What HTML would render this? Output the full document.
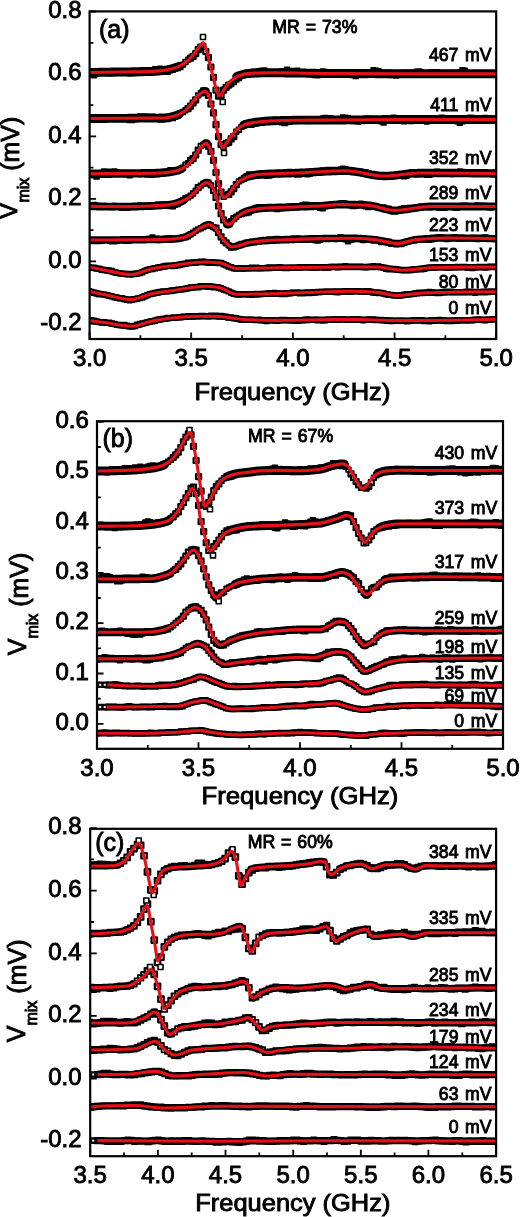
<!DOCTYPE html>
<html><head><meta charset="utf-8"><title>Vmix vs Frequency</title>
<style>html,body{margin:0;padding:0;background:#fff;}body{width:520px;height:1217px;overflow:hidden;}svg{display:block;}</style>
</head><body>
<svg width="520" height="1217" viewBox="0 0 520 1217">
<rect width="520" height="1217" fill="#fff"/>
<g id="p0">
<path d="M89.6,339.0v-6.5 M191.2,339.0v-6.5 M292.9,339.0v-6.5 M394.6,339.0v-6.5 M496.2,339.0v-6.5 M140.4,339.0v-3.8 M242.1,339.0v-3.8 M343.7,339.0v-3.8 M445.4,339.0v-3.8 M89.6,323.7h6.5 M89.6,261.3h6.5 M89.6,198.9h6.5 M89.6,136.4h6.5 M89.6,74.0h6.5 M89.6,11.5h6.5 M89.6,292.5h3.8 M89.6,230.1h3.8 M89.6,167.6h3.8 M89.6,105.2h3.8 M89.6,42.8h3.8" stroke="#000" stroke-width="1.8" fill="none"/>
<clipPath id="c0"><rect x="89.6" y="11.4" width="406.6" height="327.6"/></clipPath>
<g clip-path="url(#c0)" fill="none" stroke-linejoin="round" stroke-linecap="butt">
<path d="M89.0,72.5l1.2,0 1.2,0 1.2,-0.1 1.2,0 1.2,0 1.2,0 1.2,0 1.2,-0.1 1.2,0 1.2,0 1.2,0 1.2,0 1.2,0 1.2,-0.1 1.2,0 1.2,0 1.2,0 1.2,0 1.2,-0.1 1.2,0 1.2,0 1.2,0 1.2,0 1.2,-0.1 1.2,0 1.2,0 1.2,0 1.2,0 1.2,-0.1 1.2,0 1.2,0 1.2,0 1.2,0 1.2,0 1.2,0 1.2,-0.1 1.2,0 1.2,0 1.2,0 1.2,0 1.2,0 1.2,-0.1 1.2,0 1.2,0 1.2,0 1.2,-0.1 1.2,0 1.2,0 1.2,0 1.2,-0.1 1.2,0 1.2,-0.1 1.2,0 1.2,-0.1 1.2,-0.1 1.2,0 1.2,-0.1 1.2,-0.1 1.2,-0.2 1.2,-0.1 1.2,-0.1 1.2,-0.2 1.2,-0.1 1.2,-0.2 1.2,-0.2 1.2,-0.2 1.2,-0.3 1.2,-0.3 1.2,-0.3 1.2,-0.4 1.2,-0.3 1.2,-0.4 1.2,-0.4 1.2,-0.5 1.2,-0.5M236.7,76.6l1.2,-0.5 1.2,-0.4 1.2,-0.4 1.2,-0.4 1.2,-0.3 1.2,-0.4 1.2,-0.2 1.2,-0.3 1.2,-0.1 1.2,-0.2 1.2,0 1.2,-0.1 1.2,-0.1 1.2,0 1.2,-0.1 1.2,-0.1 1.2,0 1.2,-0.1 1.2,0 1.2,-0.1 1.2,0 1.2,0 1.2,0 1.2,-0.1 1.2,0 1.2,0 1.2,0 1.2,0 1.2,0 1.2,0 1.2,0 1.2,0 1.2,0 1.2,0 1.2,0.1 1.2,0 1.2,0 1.2,0 1.2,0 1.2,0 1.2,0.1 1.2,0 1.2,0 1.2,0 1.2,0 1.2,0 1.2,0.1 1.2,0 1.2,0 1.2,0 1.2,0 1.2,0 1.2,0.1 1.2,0 1.2,0 1.2,0 1.2,0 1.2,0.1 1.2,0 1.2,0 1.2,0 1.2,0.1 1.2,0 1.2,0 1.2,0 1.2,0 1.2,0.1 1.2,0 1.2,0 1.2,0 1.2,0 1.2,0.1 1.2,0 1.2,0 1.2,0 1.2,0 1.2,0 1.2,0 1.2,0 1.2,0 1.2,0 1.2,0 1.2,0 1.2,0 1.2,0 1.2,0 1.2,0 1.2,0 1.2,0.1 1.2,0 1.2,0 1.2,0 1.2,0 1.2,0 1.2,0 1.2,0 1.2,0 1.2,0 1.2,0 1.2,0 1.2,0 1.2,0 1.2,0 1.2,0 1.2,0 1.2,0 1.2,0 1.2,0 1.2,0 1.2,0 1.2,0 1.2,0 1.2,0 1.2,0 1.2,0 1.2,0.1 1.2,0 1.2,0 1.2,0 1.2,0 1.2,0 1.2,0 1.2,0 1.2,0 1.2,0 1.2,0 1.2,0 1.2,0 1.2,0 1.2,0 1.2,0 1.3,0 1.2,0 1.2,0 1.2,0 1.2,0 1.2,0 1.2,0 1.2,0 1.2,0 1.2,0 1.2,0 1.2,0 1.2,0 1.2,0 1.2,0 1.2,0 1.2,0 1.2,0 1.2,0 1.2,0 1.2,0 1.2,0 1.2,0 1.2,0 1.2,0 1.2,0.1 1.2,0 1.2,0 1.2,0 1.2,0 1.2,0 1.2,0 1.2,0 1.2,0 1.2,0 1.2,0 1.2,0 1.2,0 1.2,0 1.2,0 1.2,0 1.2,0 1.2,0 1.2,0 1.2,0 1.2,0 1.2,0 1.2,0 1.2,0 1.2,0 1.2,0 1.2,0 1.2,0 1.2,0 1.2,0 1.2,0 1.2,0 1.2,0 1.2,0 1.2,0 1.2,0 1.2,0 1.2,0 1.2,0 1.2,0 1.2,0 1.2,0 1.2,0 1.2,0 1.2,0 1.2,0 1.2,0 1.2,0 1.2,0 1.2,0 1.2,0 1.2,0 1.2,0 1.2,0 1.2,0 1.2,0 1.2,0 1.2,0 1.2,0 1.2,0" stroke="#000" stroke-width="9.0" stroke-linecap="round"/>
<path d="M89.0,118.5l1.2,0 1.2,0 1.2,0 1.2,0 1.2,0 1.2,0 1.2,-0.1 1.2,0 1.2,0 1.2,0 1.2,0 1.2,0 1.2,0 1.2,0 1.2,0 1.2,0 1.2,0 1.2,0 1.2,0 1.2,-0.1 1.2,0 1.2,0 1.2,0 1.2,0 1.2,0 1.2,0 1.2,0 1.2,0 1.2,0 1.2,0 1.2,0 1.2,0 1.2,-0.1 1.2,0 1.2,0 1.2,0 1.2,0 1.2,0 1.2,0 1.2,0 1.2,0 1.2,0 1.2,0 1.2,0 1.2,-0.1 1.2,0 1.2,0 1.2,0 1.2,0 1.2,0 1.2,0 1.2,0 1.2,0 1.2,0 1.2,0 1.2,0 1.2,0 1.2,0 1.2,-0.1 1.2,0 1.2,0 1.2,0 1.2,0 1.2,-0.1 1.2,-0.2 1.2,-0.2 1.2,-0.2 1.2,-0.2 1.2,-0.3 1.2,-0.4 1.2,-0.3 1.2,-0.3 1.2,-0.4 1.2,-0.4 1.2,-0.6M203.1,91.8l1.2,-0.4 1.2,-0.1M243.9,124.9l1.2,-0.5 1.2,-0.3 1.2,-0.4 1.2,-0.3 1.2,-0.2 1.2,-0.2 1.2,-0.2 1.2,-0.2 1.2,-0.2 1.2,-0.2 1.2,-0.1 1.2,-0.1 1.2,-0.2 1.2,-0.1 1.2,-0.1 1.2,-0.1 1.2,-0.1 1.2,-0.1 1.2,-0.1 1.2,-0.1 1.2,-0.1 1.2,0 1.2,-0.1 1.2,0 1.2,-0.1 1.2,0 1.2,-0.1 1.2,0 1.2,-0.1 1.2,0 1.2,-0.1 1.2,0 1.2,0 1.2,-0.1 1.2,0 1.2,0 1.2,-0.1 1.2,0 1.2,0 1.2,0 1.2,-0.1 1.2,0 1.2,0 1.2,0 1.2,0 1.2,0 1.2,0 1.2,0 1.2,0 1.2,-0.1 1.2,0 1.2,0 1.2,0 1.2,0 1.2,0 1.2,0 1.2,0 1.2,0 1.2,0 1.2,0 1.2,0 1.2,0 1.2,0 1.2,0 1.2,0 1.2,0 1.2,0 1.2,0 1.2,0 1.2,0 1.2,0 1.2,-0.1 1.2,0 1.2,0 1.2,0 1.2,0 1.2,0 1.2,0 1.2,0 1.2,0 1.2,0 1.2,0 1.2,0 1.2,0 1.2,0 1.2,-0.1 1.2,0 1.2,0 1.2,0 1.2,0 1.2,0 1.2,0 1.2,0 1.2,-0.1 1.2,0 1.2,0 1.2,0 1.2,0 1.2,0 1.2,0 1.2,-0.1 1.2,0 1.2,0 1.2,0 1.2,0 1.2,0 1.2,0 1.2,-0.1 1.2,0 1.2,0 1.2,0 1.2,0 1.2,0 1.2,0 1.2,0 1.2,-0.1 1.2,0 1.2,0 1.2,0 1.2,0 1.2,0 1.2,0 1.2,0 1.2,0 1.2,0 1.3,0 1.2,0 1.2,0 1.2,0 1.2,0 1.2,0 1.2,0 1.2,0 1.2,0 1.2,0 1.2,0 1.2,0 1.2,0 1.2,0 1.2,0 1.2,0 1.2,0 1.2,0 1.2,0 1.2,0 1.2,0 1.2,0 1.2,0 1.2,0 1.2,0 1.2,0 1.2,0 1.2,0 1.2,0 1.2,0 1.2,0 1.2,0 1.2,0 1.2,0 1.2,0 1.2,0 1.2,0 1.2,0 1.2,0 1.2,0 1.2,0 1.2,0 1.2,0 1.2,0 1.2,0 1.2,0 1.2,0 1.2,0 1.2,0 1.2,0 1.2,0 1.2,0 1.2,0 1.2,0 1.2,0 1.2,0 1.2,0 1.2,0 1.2,0 1.2,0 1.2,0 1.2,0 1.2,0 1.2,0 1.2,0 1.2,0 1.2,0 1.2,0 1.2,0 1.2,0 1.2,0 1.2,0 1.2,0 1.2,0 1.2,0 1.2,0 1.2,0 1.2,0 1.2,0 1.2,0 1.2,0 1.2,0 1.2,0 1.2,0 1.2,0" stroke="#000" stroke-width="8.8" stroke-linecap="round"/>
<path d="M89.0,173.8l1.2,0 1.2,0 1.2,0 1.2,0 1.2,0 1.2,0 1.2,0 1.2,-0.1 1.2,0 1.2,0 1.2,0 1.2,0 1.2,0 1.2,0 1.2,0 1.2,0 1.2,0 1.2,0 1.2,-0.1 1.2,0 1.2,0 1.2,0 1.2,0 1.2,0 1.2,0 1.2,0 1.2,0 1.2,-0.1 1.2,0 1.2,0 1.2,0 1.2,0 1.2,0 1.2,0 1.2,0 1.2,0 1.2,-0.1 1.2,0 1.2,0 1.2,0 1.2,0 1.2,0 1.2,0 1.2,-0.1 1.2,0 1.2,0 1.2,0 1.2,0 1.2,-0.1 1.2,0 1.2,0 1.2,0 1.2,-0.1 1.2,0 1.2,0 1.2,-0.1 1.2,0 1.2,0 1.2,-0.1 1.2,-0.1 1.2,0 1.2,-0.1 1.2,-0.1 1.2,-0.1 1.2,-0.1 1.2,-0.1 1.2,-0.2 1.2,-0.2 1.2,-0.2 1.2,-0.2 1.2,-0.3 1.2,-0.2 1.2,-0.3 1.2,-0.3 1.2,-0.4 1.2,-0.4 1.2,-0.6M205.5,143.5l1.2,0M245.1,177.8l1.2,-0.6 1.2,-0.5 1.2,-0.4 1.2,-0.3 1.2,-0.2 1.2,-0.3 1.2,-0.2 1.2,-0.2 1.2,-0.2 1.2,-0.2 1.2,-0.2 1.2,-0.1 1.2,-0.1 1.2,-0.1 1.2,-0.1 1.2,0 1.2,-0.1 1.2,-0.1 1.2,0 1.2,-0.1 1.2,0 1.2,-0.1 1.2,0 1.2,0 1.2,-0.1 1.2,0 1.2,-0.1 1.2,0 1.2,0 1.2,-0.1 1.2,0 1.2,0 1.2,-0.1 1.2,0 1.2,0 1.2,-0.1 1.2,0 1.2,0 1.2,-0.1 1.2,0 1.2,0 1.2,-0.1 1.2,0 1.2,-0.1 1.2,0 1.2,-0.1 1.2,0 1.2,-0.1 1.2,0 1.2,-0.1 1.2,-0.1 1.2,0 1.2,-0.1 1.2,-0.1 1.2,0 1.2,-0.1 1.2,-0.1 1.2,-0.1 1.2,0 1.2,-0.1 1.2,-0.1 1.2,0 1.2,-0.1 1.2,-0.1 1.2,0 1.2,-0.1 1.2,-0.1 1.2,0 1.2,-0.1 1.2,-0.1 1.2,0 1.2,-0.1 1.2,0 1.2,-0.1 1.2,0 1.2,0 1.2,-0.1 1.2,0 1.2,0 1.2,-0.1 1.2,0 1.2,0 1.2,0 1.2,0 1.2,0 1.2,0.1 1.2,0 1.2,0.1 1.2,0.1 1.2,0.2 1.2,0.1 1.2,0.2 1.2,0.2 1.2,0.2 1.2,0.2 1.2,0.2 1.2,0.3 1.2,0.2 1.2,0.2 1.2,0.3 1.2,0.2 1.2,0.3 1.2,0.2 1.2,0.2 1.2,0.3 1.2,0.2 1.2,0.2 1.2,0.2 1.2,0.1 1.2,0.2 1.2,0.1 1.2,0.2 1.2,0.1 1.2,0 1.2,0.1 1.2,0 1.2,0 1.2,0 1.2,-0.1 1.2,0 1.2,-0.1 1.2,-0.1 1.2,-0.1 1.2,-0.1 1.3,-0.1 1.2,-0.2 1.2,-0.1 1.2,-0.2 1.2,-0.1 1.2,-0.2 1.2,-0.1 1.2,-0.2 1.2,-0.1 1.2,-0.2 1.2,-0.1 1.2,-0.1 1.2,-0.2 1.2,-0.1 1.2,-0.1 1.2,-0.1 1.2,-0.1 1.2,-0.1 1.2,0 1.2,-0.1 1.2,0 1.2,0 1.2,0 1.2,0 1.2,0 1.2,0 1.2,0 1.2,0 1.2,0 1.2,0 1.2,0 1.2,0 1.2,0 1.2,0 1.2,0 1.2,0 1.2,0 1.2,0 1.2,0 1.2,0 1.2,0 1.2,0 1.2,0 1.2,0 1.2,0 1.2,0 1.2,0 1.2,0 1.2,0 1.2,0 1.2,0 1.2,0.1 1.2,0 1.2,0 1.2,0 1.2,0 1.2,0 1.2,0 1.2,0 1.2,0 1.2,0 1.2,0 1.2,0 1.2,0 1.2,0.1 1.2,0 1.2,0 1.2,0 1.2,0 1.2,0 1.2,0 1.2,0.1 1.2,0 1.2,0 1.2,0 1.2,0 1.2,0 1.2,0.1 1.2,0 1.2,0 1.2,0 1.2,0 1.2,0.1 1.2,0 1.2,0" stroke="#000" stroke-width="8.4" stroke-linecap="round"/>
<path d="M89.0,206.3l1.2,0 1.2,0.1 1.2,0 1.2,0 1.2,0 1.2,0 1.2,0.1 1.2,0 1.2,0 1.2,0 1.2,0 1.2,0 1.2,0 1.2,0 1.2,0.1 1.2,0 1.2,0 1.2,0 1.2,0 1.2,0 1.2,0 1.2,0 1.2,0 1.2,0 1.2,0 1.2,0 1.2,0 1.2,0 1.2,0 1.2,0 1.2,0 1.2,0 1.2,0 1.2,0 1.2,0 1.2,0 1.2,-0.1 1.2,0 1.2,0 1.2,0 1.2,-0.1 1.2,0 1.2,-0.1 1.2,0 1.2,0 1.2,-0.1 1.2,0 1.2,-0.1 1.2,0 1.2,-0.1 1.2,0 1.2,-0.1 1.2,0 1.2,-0.1 1.2,0 1.2,-0.1 1.2,0 1.2,-0.1 1.2,-0.1 1.2,-0.1 1.2,-0.1 1.2,-0.1 1.2,-0.1 1.2,-0.1 1.2,-0.1 1.2,-0.1 1.2,-0.1 1.2,-0.2 1.2,-0.2 1.2,-0.2 1.2,-0.3 1.2,-0.3 1.2,-0.4 1.2,-0.4 1.2,-0.3 1.2,-0.5 1.2,-0.4 1.2,-0.6 1.2,-0.5M205.5,182.9l1.2,-0.3 1.2,0.2M227.1,224.5l1.2,0.1 1.2,-0.4M242.7,212.9l1.2,-0.5 1.2,-0.5 1.2,-0.5 1.2,-0.4 1.2,-0.4 1.2,-0.3 1.2,-0.2 1.2,-0.3 1.2,-0.3 1.2,-0.2 1.2,-0.2 1.2,-0.2 1.2,-0.2 1.2,-0.2 1.2,-0.1 1.2,-0.1 1.2,-0.1 1.2,-0.1 1.2,0 1.2,-0.1 1.2,-0.1 1.2,0 1.2,-0.1 1.2,0 1.2,-0.1 1.2,0 1.2,-0.1 1.2,0 1.2,-0.1 1.2,0 1.2,-0.1 1.2,0 1.2,0 1.2,-0.1 1.2,0 1.2,0 1.2,-0.1 1.2,0 1.2,-0.1 1.2,0 1.2,0 1.2,-0.1 1.2,0 1.2,-0.1 1.2,0 1.2,-0.1 1.2,0 1.2,-0.1 1.2,0 1.2,0 1.2,-0.1 1.2,0 1.2,-0.1 1.2,0 1.2,-0.1 1.2,0 1.2,0 1.2,-0.1 1.2,0 1.2,-0.1 1.2,0 1.2,-0.1 1.2,-0.1 1.2,0 1.2,-0.1 1.2,-0.1 1.2,-0.1 1.2,-0.1 1.2,-0.1 1.2,-0.1 1.2,-0.1 1.2,-0.1 1.2,-0.2 1.2,-0.1 1.2,-0.1 1.2,-0.1 1.2,0 1.2,-0.1 1.2,-0.1 1.2,0 1.2,0 1.2,0 1.2,0 1.2,0 1.2,0 1.2,0 1.2,0.1 1.2,0 1.2,0 1.2,0 1.2,0 1.2,0.1 1.2,0 1.2,0 1.2,0.1 1.2,0 1.2,0.1 1.2,0 1.2,0 1.2,0.1 1.2,0 1.2,0.1 1.2,0 1.2,0.1 1.2,0.1 1.2,0.1 1.2,0.2 1.2,0.2 1.2,0.2 1.2,0.3 1.2,0.3 1.2,0.3 1.2,0.3 1.2,0.4 1.2,0.3 1.2,0.4 1.2,0.3 1.2,0.3 1.2,0.3 1.2,0.3 1.2,0.2 1.2,0.3 1.2,0.1 1.2,0.2 1.2,0.1 1.2,0 1.3,0 1.2,0 1.2,-0.1 1.2,-0.1 1.2,-0.1 1.2,-0.1 1.2,-0.1 1.2,-0.2 1.2,-0.1 1.2,-0.2 1.2,-0.1 1.2,-0.2 1.2,-0.2 1.2,-0.2 1.2,-0.2 1.2,-0.2 1.2,-0.2 1.2,-0.2 1.2,-0.1 1.2,-0.2 1.2,-0.2 1.2,-0.2 1.2,-0.1 1.2,-0.1 1.2,-0.2 1.2,-0.1 1.2,-0.1 1.2,0 1.2,-0.1 1.2,0 1.2,0 1.2,0 1.2,0 1.2,0 1.2,0 1.2,0 1.2,0 1.2,0 1.2,0 1.2,0 1.2,0 1.2,0 1.2,0 1.2,0 1.2,0 1.2,0 1.2,0 1.2,0 1.2,0 1.2,0 1.2,0 1.2,0 1.2,0 1.2,0 1.2,0 1.2,0 1.2,0 1.2,0 1.2,0 1.2,0 1.2,0 1.2,0 1.2,0 1.2,0 1.2,0 1.2,0 1.2,0 1.2,0 1.2,0 1.2,0 1.2,0 1.2,0 1.2,0 1.2,0 1.2,0 1.2,0 1.2,0 1.2,0 1.2,0 1.2,0 1.2,0 1.2,0 1.2,0 1.2,0 1.2,0" stroke="#000" stroke-width="7.8" stroke-linecap="round"/>
<path d="M89.0,240.0l1.2,0 1.2,0 1.2,0 1.2,0 1.2,0 1.2,0 1.2,0 1.2,0 1.2,0 1.2,0 1.2,0 1.2,0 1.2,0 1.2,-0.1 1.2,0 1.2,0 1.2,0 1.2,0 1.2,0 1.2,0 1.2,0 1.2,0 1.2,0 1.2,0 1.2,0 1.2,0 1.2,-0.1 1.2,0 1.2,0 1.2,0 1.2,0 1.2,0 1.2,0 1.2,0 1.2,0 1.2,0 1.2,0 1.2,-0.1 1.2,0 1.2,0 1.2,0 1.2,0 1.2,0 1.2,0 1.2,0 1.2,0 1.2,0 1.2,-0.1 1.2,0 1.2,0 1.2,0 1.2,0 1.2,0 1.2,-0.1 1.2,0 1.2,0 1.2,0 1.2,0 1.2,-0.1 1.2,0 1.2,0 1.2,0 1.2,-0.1 1.2,0 1.2,0 1.2,0 1.2,-0.1 1.2,0 1.2,-0.1 1.2,-0.1 1.2,-0.1 1.2,-0.1 1.2,-0.2 1.2,-0.1 1.2,-0.2 1.2,-0.2 1.2,-0.2 1.2,-0.3 1.2,-0.3 1.2,-0.4 1.2,-0.4 1.2,-0.5 1.2,-0.6M204.3,226.0l1.2,-0.6 1.2,-0.4 1.2,-0.3 1.2,-0.1 1.2,0.2M230.7,246.7l1.2,0.2 1.2,-0.1 1.2,-0.2 1.2,-0.3 1.2,-0.3 1.2,-0.3 1.2,-0.3 1.2,-0.3 1.2,-0.3 1.2,-0.4 1.2,-0.4 1.2,-0.4 1.2,-0.4 1.2,-0.3 1.2,-0.3 1.2,-0.3 1.2,-0.2 1.2,-0.1 1.2,-0.2 1.2,-0.2 1.2,-0.1 1.2,-0.1 1.2,-0.2 1.2,-0.1 1.2,-0.1 1.2,-0.1 1.2,-0.1 1.2,-0.1 1.2,0 1.2,-0.1 1.2,-0.1 1.2,0 1.2,-0.1 1.2,-0.1 1.2,0 1.2,-0.1 1.2,0 1.2,-0.1 1.2,0 1.2,-0.1 1.2,0 1.2,-0.1 1.2,0 1.2,-0.1 1.2,0 1.2,0 1.2,-0.1 1.2,0 1.2,-0.1 1.2,0 1.2,0 1.2,-0.1 1.2,0 1.2,-0.1 1.2,0 1.2,-0.1 1.2,0 1.2,-0.1 1.2,0 1.2,-0.1 1.2,0 1.2,-0.1 1.2,0 1.2,-0.1 1.2,0 1.2,-0.1 1.2,0 1.2,0 1.2,-0.1 1.2,0 1.2,0 1.2,-0.1 1.2,0 1.2,0 1.2,0 1.2,0 1.2,-0.1 1.2,0 1.2,0 1.2,0 1.2,0 1.2,0 1.2,0 1.2,-0.1 1.2,0 1.2,0 1.2,0 1.2,0 1.2,0 1.2,0 1.2,0 1.2,-0.1 1.2,0 1.2,0 1.2,0 1.2,0 1.2,0 1.2,0 1.2,0 1.2,0 1.2,0 1.2,0 1.2,0 1.2,0 1.2,0 1.2,0.1 1.2,0 1.2,0.1 1.2,0 1.2,0.1 1.2,0.1 1.2,0.1 1.2,0.1 1.2,0.1 1.2,0.1 1.2,0.1 1.2,0.1 1.2,0.1 1.2,0.1 1.2,0.1 1.2,0.1 1.2,0.2 1.2,0.2 1.2,0.2 1.2,0.3 1.2,0.2 1.2,0.3 1.2,0.3 1.2,0.3 1.2,0.2 1.2,0.3 1.2,0.3 1.2,0.2 1.2,0.2 1.2,0.2 1.2,0.2 1.3,0.1 1.2,0.1 1.2,0 1.2,0 1.2,-0.1 1.2,-0.2 1.2,-0.2 1.2,-0.3 1.2,-0.3 1.2,-0.3 1.2,-0.4 1.2,-0.3 1.2,-0.4 1.2,-0.3 1.2,-0.3 1.2,-0.3 1.2,-0.3 1.2,-0.1 1.2,-0.2 1.2,-0.1 1.2,-0.1 1.2,-0.1 1.2,-0.1 1.2,-0.1 1.2,-0.1 1.2,-0.1 1.2,-0.1 1.2,-0.1 1.2,0 1.2,-0.1 1.2,-0.1 1.2,-0.1 1.2,0 1.2,-0.1 1.2,0 1.2,-0.1 1.2,0 1.2,-0.1 1.2,0 1.2,0 1.2,0 1.2,0 1.2,0 1.2,0 1.2,0 1.2,0 1.2,0 1.2,0 1.2,0 1.2,0 1.2,0 1.2,0 1.2,0 1.2,0 1.2,0 1.2,0 1.2,0 1.2,0 1.2,0.1 1.2,0 1.2,0 1.2,0 1.2,0 1.2,0 1.2,0 1.2,0 1.2,0.1 1.2,0 1.2,0 1.2,0 1.2,0 1.2,0.1 1.2,0 1.2,0 1.2,0.1 1.2,0 1.2,0 1.2,0.1 1.2,0 1.2,0.1 1.2,0 1.2,0 1.2,0.1 1.2,0 1.2,0.1" stroke="#000" stroke-width="7.4" stroke-linecap="round"/>
<path d="M89.0,267.0l1.2,0.3 1.2,0.2 1.2,0.3 1.2,0.2 1.2,0.3 1.2,0.2 1.2,0.2 1.2,0.3 1.2,0.2 1.2,0.2 1.2,0.3 1.2,0.2 1.2,0.2 1.2,0.2 1.2,0.3 1.2,0.2 1.2,0.3 1.2,0.2 1.2,0.3 1.2,0.3 1.2,0.2 1.2,0.3 1.2,0.2 1.2,0.3 1.2,0.2 1.2,0.2 1.2,0.3 1.2,0.1 1.2,0.2 1.2,0.2 1.2,0.1 1.2,0.1 1.2,0.1 1.2,0.1 1.2,0 1.2,0 1.2,-0.1 1.2,-0.2 1.2,-0.2 1.2,-0.4 1.2,-0.3 1.2,-0.4 1.2,-0.4 1.2,-0.5 1.2,-0.5 1.2,-0.4 1.2,-0.5 1.2,-0.4 1.2,-0.5 1.2,-0.3 1.2,-0.4 1.2,-0.2 1.2,-0.3 1.2,-0.2 1.2,-0.2 1.2,-0.2 1.2,-0.2 1.2,-0.2 1.2,-0.2 1.2,-0.2 1.2,-0.2 1.2,-0.2 1.2,-0.1 1.2,-0.2 1.2,-0.2 1.2,-0.1 1.2,-0.2 1.2,-0.2 1.2,-0.1 1.2,-0.2 1.2,-0.1 1.2,-0.2 1.2,-0.1 1.2,-0.2 1.2,-0.1 1.2,-0.2 1.2,-0.2 1.2,-0.2 1.2,-0.1 1.2,-0.2 1.2,-0.2 1.2,-0.2 1.2,-0.1 1.2,-0.2 1.3,-0.1 1.2,-0.2 1.2,-0.1 1.2,-0.2 1.2,-0.1 1.2,-0.1 1.2,-0.1 1.2,-0.1 1.2,0 1.2,-0.1 1.2,0 1.2,0 1.2,0 1.2,0 1.2,0.1 1.2,0 1.2,0.1 1.2,0 1.2,0.1 1.2,0.1 1.2,0.1 1.2,0.1 1.2,0.1 1.2,0.1 1.2,0.1 1.2,0.3 1.2,0.3 1.2,0.4 1.2,0.5 1.2,0.6 1.2,0.5 1.2,0.6 1.2,0.5 1.2,0.5 1.2,0.5 1.2,0.4 1.2,0.3 1.2,0.1 1.2,0.1 1.2,0 1.2,0 1.2,0 1.2,0 1.2,0 1.2,0 1.2,-0.1 1.2,0 1.2,0 1.2,0 1.2,0 1.2,-0.1 1.2,0 1.2,0 1.2,0 1.2,-0.1 1.2,0 1.2,0 1.2,0 1.2,-0.1 1.2,0 1.2,0 1.2,0 1.2,0 1.2,-0.1 1.2,0 1.2,0 1.2,0 1.2,0 1.2,-0.1 1.2,0 1.2,0 1.2,0 1.2,0 1.2,0 1.2,-0.1 1.2,0 1.2,0 1.2,0 1.2,0 1.2,-0.1 1.2,0 1.2,0 1.2,0 1.2,0 1.2,-0.1 1.2,0 1.2,0 1.2,0 1.2,0 1.2,-0.1 1.2,0 1.2,0 1.2,0 1.2,0 1.2,-0.1 1.2,0 1.2,0 1.2,0 1.2,0 1.2,-0.1 1.2,0 1.2,0 1.2,0 1.2,0 1.2,0 1.2,-0.1 1.2,0 1.2,0 1.2,0 1.2,0 1.2,0 1.2,0 1.2,-0.1 1.2,0 1.2,0 1.2,0 1.2,0 1.2,0 1.2,0 1.2,0 1.2,0 1.2,-0.1 1.2,0 1.2,0 1.2,0 1.2,0 1.2,0 1.2,0 1.2,0 1.2,0 1.2,0 1.2,0 1.2,0 1.2,0 1.2,0 1.2,0 1.2,0 1.2,0 1.2,0 1.2,0 1.2,0 1.2,0 1.2,0 1.2,0 1.2,0 1.2,0 1.2,0 1.2,0 1.2,0 1.2,0 1.2,0 1.2,0 1.2,0 1.2,0 1.2,0 1.2,0 1.2,0 1.2,0.1 1.2,0.1 1.2,0.1 1.2,0.2 1.2,0.1 1.2,0.2 1.2,0.2 1.2,0.2 1.2,0.3 1.2,0.2 1.2,0.2 1.2,0.2 1.2,0.2 1.3,0.2 1.2,0.2 1.2,0.2 1.2,0.1 1.2,0.1 1.2,0.1 1.2,0 1.2,0 1.2,0 1.2,-0.1 1.2,0 1.2,-0.1 1.2,-0.1 1.2,-0.1 1.2,-0.1 1.2,-0.2 1.2,-0.1 1.2,-0.2 1.2,-0.1 1.2,-0.2 1.2,-0.1 1.2,-0.2 1.2,-0.1 1.2,-0.1 1.2,-0.2 1.2,-0.1 1.2,-0.1 1.2,-0.2 1.2,-0.1 1.2,0 1.2,-0.1 1.2,-0.1 1.2,0 1.2,0 1.2,0 1.2,-0.1 1.2,0 1.2,0 1.2,0 1.2,0 1.2,0 1.2,-0.1 1.2,0 1.2,0 1.2,0 1.2,0 1.2,0 1.2,0 1.2,-0.1 1.2,0 1.2,0 1.2,0 1.2,0 1.2,0 1.2,0 1.2,0 1.2,-0.1 1.2,0 1.2,0 1.2,0 1.2,0 1.2,0 1.2,0 1.2,0 1.2,0 1.2,0 1.2,0 1.2,0 1.2,-0.1 1.2,0 1.2,0 1.2,0 1.2,0 1.2,0 1.2,0 1.2,0 1.2,0 1.2,0 1.2,0 1.2,0 1.2,0 1.2,0 1.2,0 1.2,0 1.2,0" stroke="#000" stroke-width="6.4" stroke-linecap="round"/>
<path d="M89.0,291.2l1.2,0.3 1.2,0.3 1.2,0.3 1.2,0.2 1.2,0.3 1.2,0.3 1.2,0.2 1.2,0.3 1.2,0.2 1.2,0.3 1.2,0.2 1.2,0.3 1.2,0.2 1.2,0.3 1.2,0.2 1.2,0.3 1.2,0.3 1.2,0.3 1.2,0.3 1.2,0.3 1.2,0.3 1.2,0.2 1.2,0.3 1.2,0.3 1.2,0.3 1.2,0.2 1.2,0.2 1.2,0.3 1.2,0.2 1.2,0.1 1.2,0.2 1.2,0.1 1.2,0.1 1.2,0.1 1.2,0 1.2,0 1.2,-0.1 1.2,-0.2 1.2,-0.2 1.2,-0.4 1.2,-0.3 1.2,-0.4 1.2,-0.4 1.2,-0.5 1.2,-0.5 1.2,-0.4 1.2,-0.5 1.2,-0.4 1.2,-0.5 1.2,-0.3 1.2,-0.4 1.2,-0.2 1.2,-0.3 1.2,-0.2 1.2,-0.2 1.2,-0.2 1.2,-0.2 1.2,-0.2 1.2,-0.2 1.2,-0.2 1.2,-0.2 1.2,-0.1 1.2,-0.2 1.2,-0.2 1.2,-0.1 1.2,-0.2 1.2,-0.2 1.2,-0.1 1.2,-0.2 1.2,-0.1 1.2,-0.2 1.2,-0.2 1.2,-0.1 1.2,-0.2 1.2,-0.2 1.2,-0.2 1.2,-0.1 1.2,-0.2 1.2,-0.2 1.2,-0.2 1.2,-0.2 1.2,-0.2 1.2,-0.2 1.2,-0.2 1.3,-0.2 1.2,-0.2 1.2,-0.2 1.2,-0.1 1.2,-0.2 1.2,-0.1 1.2,-0.2 1.2,-0.1 1.2,-0.1 1.2,-0.1 1.2,-0.1 1.2,0 1.2,0 1.2,0 1.2,0 1.2,0 1.2,0.1 1.2,0.1 1.2,0.1 1.2,0.2 1.2,0.1 1.2,0.2 1.2,0.2 1.2,0.1 1.2,0.3 1.2,0.3 1.2,0.4 1.2,0.6M230.7,292.7l1.2,0.5 1.2,0.4 1.2,0.3 1.2,0.2 1.2,0.1 1.2,0 1.2,0 1.2,0 1.2,0 1.2,0 1.2,0 1.2,0 1.2,0 1.2,-0.1 1.2,0 1.2,0 1.2,0 1.2,0 1.2,0 1.2,-0.1 1.2,0 1.2,0 1.2,0 1.2,0 1.2,-0.1 1.2,0 1.2,0 1.2,0 1.2,0 1.2,-0.1 1.2,0 1.2,0 1.2,0 1.2,-0.1 1.2,0 1.2,0 1.2,0 1.2,-0.1 1.2,0 1.2,-0.1 1.2,0 1.2,0 1.2,-0.1 1.2,0 1.2,-0.1 1.2,0 1.2,-0.1 1.2,0 1.2,-0.1 1.2,0 1.2,-0.1 1.2,0 1.2,-0.1 1.2,0 1.2,0 1.2,-0.1 1.2,0 1.2,-0.1 1.2,0 1.2,-0.1 1.2,0 1.2,-0.1 1.2,0 1.2,0 1.2,-0.1 1.2,0 1.2,-0.1 1.2,0 1.2,0 1.2,-0.1 1.2,0 1.2,-0.1 1.2,0 1.2,-0.1 1.2,0 1.2,-0.1 1.2,0 1.2,0 1.2,-0.1 1.2,0 1.2,-0.1 1.2,0 1.2,-0.1 1.2,0 1.2,0 1.2,-0.1 1.2,0 1.2,0 1.2,-0.1 1.2,0 1.2,0 1.2,0 1.2,0 1.2,-0.1 1.2,0 1.2,0 1.2,0 1.2,0 1.2,0 1.2,0 1.2,0 1.2,0 1.2,0.1 1.2,0 1.2,0 1.2,0 1.2,0.1 1.2,0 1.2,0.1 1.2,0 1.2,0.1 1.2,0 1.2,0.1 1.2,0 1.2,0.1 1.2,0.1 1.2,0 1.2,0.1 1.2,0.1 1.2,0.1 1.2,0 1.2,0.1 1.2,0.1 1.2,0.2 1.2,0.2 1.2,0.2 1.2,0.2 1.2,0.3 1.2,0.2 1.2,0.3 1.2,0.3 1.2,0.2 1.2,0.3 1.2,0.2 1.2,0.2 1.2,0.1 1.3,0.1 1.2,0.1 1.2,0 1.2,0 1.2,-0.1 1.2,-0.1 1.2,-0.1 1.2,-0.1 1.2,-0.1 1.2,-0.2 1.2,-0.1 1.2,-0.2 1.2,-0.2 1.2,-0.1 1.2,-0.2 1.2,-0.2 1.2,-0.2 1.2,-0.1 1.2,-0.2 1.2,-0.1 1.2,-0.1 1.2,-0.1 1.2,-0.1 1.2,0 1.2,0 1.2,-0.1 1.2,0 1.2,-0.1 1.2,0 1.2,0 1.2,-0.1 1.2,0 1.2,0 1.2,-0.1 1.2,0 1.2,0 1.2,-0.1 1.2,0 1.2,0 1.2,0 1.2,-0.1 1.2,0 1.2,0 1.2,-0.1 1.2,0 1.2,0 1.2,0 1.2,-0.1 1.2,0 1.2,0 1.2,0 1.2,0 1.2,-0.1 1.2,0 1.2,0 1.2,0 1.2,0 1.2,-0.1 1.2,0 1.2,0 1.2,0 1.2,0 1.2,0 1.2,-0.1 1.2,0 1.2,0 1.2,0 1.2,0 1.2,0 1.2,0 1.2,0 1.2,0 1.2,-0.1 1.2,0 1.2,0 1.2,0 1.2,0 1.2,0 1.2,0 1.2,0 1.2,0 1.2,0 1.2,0 1.2,0 1.2,0" stroke="#000" stroke-width="6.4" stroke-linecap="round"/>
<path d="M89.0,320.5l1.2,0.2 1.2,0.1 1.2,0.2 1.2,0.1 1.2,0.2 1.2,0.2 1.2,0.1 1.2,0.2 1.2,0.1 1.2,0.2 1.2,0.2 1.2,0.1 1.2,0.2 1.2,0.2 1.2,0.1 1.2,0.2 1.2,0.2 1.2,0.3 1.2,0.2 1.2,0.2 1.2,0.2 1.2,0.2 1.2,0.2 1.2,0.2 1.2,0.2 1.2,0.2 1.2,0.2 1.2,0.2 1.2,0.1 1.2,0.2 1.2,0.1 1.2,0.1 1.2,0.1 1.2,0 1.2,0 1.2,0 1.2,0 1.2,-0.2 1.2,-0.2 1.2,-0.3 1.2,-0.3 1.2,-0.3 1.2,-0.4 1.2,-0.4 1.2,-0.4 1.2,-0.4 1.2,-0.4 1.2,-0.4 1.2,-0.3 1.2,-0.4 1.2,-0.3 1.2,-0.2 1.2,-0.3 1.2,-0.2 1.2,-0.2 1.2,-0.2 1.2,-0.3 1.2,-0.2 1.2,-0.2 1.2,-0.2 1.2,-0.2 1.2,-0.2 1.2,-0.2 1.2,-0.2 1.2,-0.1 1.2,-0.2 1.2,-0.2 1.2,-0.1 1.2,-0.2 1.2,-0.1 1.2,-0.1 1.2,-0.1 1.2,-0.1 1.2,-0.1 1.2,-0.1 1.2,-0.1 1.2,-0.1 1.2,-0.1 1.2,0 1.2,-0.1 1.2,-0.1 1.2,-0.1 1.2,0 1.2,-0.1 1.3,-0.1 1.2,0 1.2,-0.1 1.2,0 1.2,-0.1 1.2,0 1.2,0 1.2,0 1.2,0 1.2,0 1.2,0 1.2,0 1.2,0 1.2,0 1.2,0 1.2,0 1.2,0 1.2,0 1.2,0.1 1.2,0 1.2,0 1.2,0 1.2,0.1 1.2,0 1.2,0 1.2,0.1 1.2,0.1 1.2,0.1 1.2,0.1 1.2,0.2 1.2,0.1 1.2,0.2 1.2,0.2 1.2,0.2 1.2,0.2 1.2,0.2 1.2,0.1 1.2,0.2 1.2,0.2 1.2,0.2 1.2,0.1 1.2,0.2 1.2,0.1 1.2,0.1 1.2,0.1 1.2,0.1 1.2,0 1.2,0.1 1.2,0.1 1.2,0 1.2,0.1 1.2,0 1.2,0.1 1.2,0 1.2,0.1 1.2,0 1.2,0.1 1.2,0 1.2,0.1 1.2,0 1.2,0 1.2,0.1 1.2,0 1.2,0 1.2,0 1.2,0 1.2,0 1.2,0 1.2,0 1.2,0 1.2,0 1.2,0 1.2,0 1.2,0 1.2,-0.1 1.2,0 1.2,0 1.2,0 1.2,0 1.2,0 1.2,0 1.2,-0.1 1.2,0 1.2,0 1.2,0 1.2,0 1.2,0 1.2,-0.1 1.2,0 1.2,0 1.2,0 1.2,0 1.2,0 1.2,-0.1 1.2,0 1.2,0 1.2,0 1.2,0 1.2,0 1.2,0 1.2,-0.1 1.2,0 1.2,0 1.2,0 1.2,0 1.2,-0.1 1.2,0 1.2,0 1.2,0 1.2,-0.1 1.2,0 1.2,0 1.2,0 1.2,0 1.2,-0.1 1.2,0 1.2,0 1.2,0 1.2,0 1.2,-0.1 1.2,0 1.2,0 1.2,0 1.2,0 1.2,0 1.2,-0.1 1.2,0 1.2,0 1.2,0 1.2,0 1.2,0 1.2,0 1.2,0 1.2,0 1.2,0 1.2,0 1.2,0 1.2,0.1 1.2,0 1.2,0 1.2,0 1.2,0.1 1.2,0 1.2,0 1.2,0 1.2,0.1 1.2,0 1.2,0.1 1.2,0 1.2,0 1.2,0.1 1.2,0 1.2,0.1 1.2,0 1.2,0.1 1.2,0 1.2,0 1.2,0.1 1.2,0 1.2,0.1 1.2,0 1.2,0 1.2,0.1 1.2,0 1.2,0 1.2,0.1 1.2,0 1.2,0 1.2,0 1.2,0.1 1.3,0 1.2,0 1.2,0 1.2,0 1.2,0 1.2,0 1.2,0 1.2,0 1.2,0 1.2,0 1.2,0 1.2,0 1.2,0 1.2,0 1.2,0 1.2,0 1.2,0 1.2,0 1.2,0 1.2,0 1.2,0 1.2,0 1.2,0 1.2,0 1.2,0 1.2,0 1.2,0 1.2,0 1.2,-0.1 1.2,0 1.2,0 1.2,0 1.2,0 1.2,0 1.2,0 1.2,0 1.2,0 1.2,0 1.2,0 1.2,0 1.2,0 1.2,-0.1 1.2,0 1.2,0 1.2,0 1.2,0 1.2,0 1.2,0 1.2,-0.1 1.2,0 1.2,0 1.2,0 1.2,0 1.2,0 1.2,-0.1 1.2,0 1.2,0 1.2,0 1.2,0 1.2,-0.1 1.2,0 1.2,0 1.2,0 1.2,-0.1 1.2,0 1.2,0 1.2,0 1.2,-0.1 1.2,0 1.2,0 1.2,-0.1 1.2,0 1.2,0 1.2,-0.1 1.2,0 1.2,0 1.2,-0.1 1.2,0 1.2,0 1.2,-0.1 1.2,0 1.2,-0.1 1.2,0 1.2,-0.1 1.2,0" stroke="#000" stroke-width="6.4" stroke-linecap="round"/>
<path d="M86.7,72.6h4.6v4.6h-4.6zM89.2,71.8h4.6v4.6h-4.6zM91.8,72.9h4.6v4.6h-4.6zM94.3,70.7h4.6v4.6h-4.6zM96.9,70.5h4.6v4.6h-4.6zM99.4,69.2h4.6v4.6h-4.6zM101.9,69.6h4.6v4.6h-4.6zM104.5,69.1h4.6v4.6h-4.6zM107.0,70.7h4.6v4.6h-4.6zM109.6,70.9h4.6v4.6h-4.6zM112.1,70.8h4.6v4.6h-4.6zM114.6,70.3h4.6v4.6h-4.6zM117.2,69.7h4.6v4.6h-4.6zM119.7,69.9h4.6v4.6h-4.6zM122.3,69.2h4.6v4.6h-4.6zM124.8,69.8h4.6v4.6h-4.6zM127.3,71.0h4.6v4.6h-4.6zM129.9,70.9h4.6v4.6h-4.6zM132.4,70.8h4.6v4.6h-4.6zM135.0,69.8h4.6v4.6h-4.6zM137.5,68.8h4.6v4.6h-4.6zM140.0,68.2h4.6v4.6h-4.6zM142.6,68.0h4.6v4.6h-4.6zM145.1,68.6h4.6v4.6h-4.6zM147.7,68.2h4.6v4.6h-4.6zM150.2,68.1h4.6v4.6h-4.6zM152.7,67.0h4.6v4.6h-4.6zM155.3,67.0h4.6v4.6h-4.6zM157.8,66.3h4.6v4.6h-4.6zM160.4,67.2h4.6v4.6h-4.6zM162.9,67.3h4.6v4.6h-4.6zM165.4,69.4h4.6v4.6h-4.6zM168.0,67.8h4.6v4.6h-4.6zM170.5,67.4h4.6v4.6h-4.6zM173.1,65.7h4.6v4.6h-4.6zM175.6,65.8h4.6v4.6h-4.6zM178.1,64.8h4.6v4.6h-4.6zM180.7,62.3h4.6v4.6h-4.6zM183.2,59.7h4.6v4.6h-4.6zM185.8,57.3h4.6v4.6h-4.6zM201.0,43.7h4.6v4.6h-4.6zM228.9,81.7h4.6v4.6h-4.6zM231.5,79.8h4.6v4.6h-4.6zM234.0,77.3h4.6v4.6h-4.6zM236.6,75.7h4.6v4.6h-4.6zM239.1,73.2h4.6v4.6h-4.6zM241.6,72.3h4.6v4.6h-4.6zM244.2,71.9h4.6v4.6h-4.6zM246.7,71.2h4.6v4.6h-4.6zM249.3,70.7h4.6v4.6h-4.6zM251.8,69.3h4.6v4.6h-4.6zM254.3,70.7h4.6v4.6h-4.6zM256.9,68.9h4.6v4.6h-4.6zM259.4,68.4h4.6v4.6h-4.6zM262.0,68.2h4.6v4.6h-4.6zM264.5,69.9h4.6v4.6h-4.6zM267.0,70.6h4.6v4.6h-4.6zM269.6,70.4h4.6v4.6h-4.6zM272.1,70.5h4.6v4.6h-4.6zM274.7,70.8h4.6v4.6h-4.6zM277.2,70.6h4.6v4.6h-4.6zM279.7,68.8h4.6v4.6h-4.6zM282.3,69.0h4.6v4.6h-4.6zM284.8,67.4h4.6v4.6h-4.6zM287.4,69.0h4.6v4.6h-4.6zM289.9,68.7h4.6v4.6h-4.6zM292.4,69.3h4.6v4.6h-4.6zM295.0,68.5h4.6v4.6h-4.6zM297.5,70.1h4.6v4.6h-4.6zM300.1,71.3h4.6v4.6h-4.6zM302.6,71.6h4.6v4.6h-4.6zM305.1,71.2h4.6v4.6h-4.6zM307.7,70.7h4.6v4.6h-4.6zM310.2,72.0h4.6v4.6h-4.6zM312.8,72.8h4.6v4.6h-4.6zM315.3,72.9h4.6v4.6h-4.6zM317.8,70.7h4.6v4.6h-4.6zM320.4,69.2h4.6v4.6h-4.6zM322.9,69.6h4.6v4.6h-4.6zM325.5,70.8h4.6v4.6h-4.6zM328.0,71.3h4.6v4.6h-4.6zM330.5,71.1h4.6v4.6h-4.6zM333.1,71.5h4.6v4.6h-4.6zM335.6,71.1h4.6v4.6h-4.6zM338.2,71.1h4.6v4.6h-4.6zM340.7,72.0h4.6v4.6h-4.6zM343.2,71.9h4.6v4.6h-4.6zM345.8,71.1h4.6v4.6h-4.6zM348.3,71.7h4.6v4.6h-4.6zM350.9,72.8h4.6v4.6h-4.6zM353.4,73.8h4.6v4.6h-4.6zM355.9,72.8h4.6v4.6h-4.6zM358.5,72.7h4.6v4.6h-4.6zM361.0,72.7h4.6v4.6h-4.6zM363.6,72.7h4.6v4.6h-4.6zM366.1,71.9h4.6v4.6h-4.6zM368.6,70.1h4.6v4.6h-4.6zM371.2,67.9h4.6v4.6h-4.6zM373.7,68.3h4.6v4.6h-4.6zM376.3,68.9h4.6v4.6h-4.6zM378.8,71.6h4.6v4.6h-4.6zM381.3,70.3h4.6v4.6h-4.6zM383.9,71.2h4.6v4.6h-4.6zM386.4,70.5h4.6v4.6h-4.6zM389.0,72.7h4.6v4.6h-4.6zM391.5,72.3h4.6v4.6h-4.6zM394.0,73.2h4.6v4.6h-4.6zM396.6,71.4h4.6v4.6h-4.6zM399.1,71.7h4.6v4.6h-4.6zM401.7,70.5h4.6v4.6h-4.6zM404.2,70.4h4.6v4.6h-4.6zM406.7,70.4h4.6v4.6h-4.6zM409.3,70.6h4.6v4.6h-4.6zM411.8,70.3h4.6v4.6h-4.6zM414.4,69.3h4.6v4.6h-4.6zM416.9,69.1h4.6v4.6h-4.6zM419.4,70.1h4.6v4.6h-4.6zM422.0,71.3h4.6v4.6h-4.6zM424.5,71.2h4.6v4.6h-4.6zM427.1,71.0h4.6v4.6h-4.6zM429.6,70.0h4.6v4.6h-4.6zM432.1,70.0h4.6v4.6h-4.6zM434.7,70.0h4.6v4.6h-4.6zM437.2,71.2h4.6v4.6h-4.6zM439.8,72.0h4.6v4.6h-4.6zM442.3,72.4h4.6v4.6h-4.6zM444.8,71.7h4.6v4.6h-4.6zM447.4,71.2h4.6v4.6h-4.6zM449.9,70.6h4.6v4.6h-4.6zM452.5,72.5h4.6v4.6h-4.6zM455.0,70.8h4.6v4.6h-4.6zM457.5,69.8h4.6v4.6h-4.6zM460.1,67.9h4.6v4.6h-4.6zM462.6,68.3h4.6v4.6h-4.6zM465.2,70.6h4.6v4.6h-4.6zM467.7,71.9h4.6v4.6h-4.6zM470.2,71.7h4.6v4.6h-4.6zM472.8,71.6h4.6v4.6h-4.6zM475.3,71.1h4.6v4.6h-4.6zM477.9,71.0h4.6v4.6h-4.6zM480.4,71.4h4.6v4.6h-4.6zM482.9,71.0h4.6v4.6h-4.6zM485.5,72.6h4.6v4.6h-4.6zM488.0,71.4h4.6v4.6h-4.6zM490.6,71.9h4.6v4.6h-4.6zM493.1,71.3h4.6v4.6h-4.6z" stroke="#000" stroke-width="1.80"/>
<path d="M188.1,55.6h5.0v5.0h-5.0zM190.6,53.9h5.0v5.0h-5.0zM193.2,51.1h5.0v5.0h-5.0zM195.7,47.2h5.0v5.0h-5.0zM198.3,44.7h5.0v5.0h-5.0zM203.3,49.0h5.0v5.0h-5.0zM205.9,55.1h5.0v5.0h-5.0zM208.4,64.5h5.0v5.0h-5.0zM211.0,74.8h5.0v5.0h-5.0zM213.5,87.6h5.0v5.0h-5.0zM216.0,93.7h5.0v5.0h-5.0zM218.6,93.0h5.0v5.0h-5.0zM221.1,87.6h5.0v5.0h-5.0zM223.7,84.8h5.0v5.0h-5.0zM226.2,82.6h5.0v5.0h-5.0z" stroke="#000" stroke-width="2.20"/>
<path d="M86.7,117.1h4.6v4.6h-4.6zM89.2,116.9h4.6v4.6h-4.6zM91.8,115.9h4.6v4.6h-4.6zM94.3,115.8h4.6v4.6h-4.6zM96.9,117.4h4.6v4.6h-4.6zM99.4,117.6h4.6v4.6h-4.6zM101.9,117.6h4.6v4.6h-4.6zM104.5,116.1h4.6v4.6h-4.6zM107.0,115.9h4.6v4.6h-4.6zM109.6,114.9h4.6v4.6h-4.6zM112.1,115.9h4.6v4.6h-4.6zM114.6,114.9h4.6v4.6h-4.6zM117.2,115.6h4.6v4.6h-4.6zM119.7,114.9h4.6v4.6h-4.6zM122.3,116.1h4.6v4.6h-4.6zM124.8,116.2h4.6v4.6h-4.6zM127.3,117.7h4.6v4.6h-4.6zM129.9,117.7h4.6v4.6h-4.6zM132.4,117.1h4.6v4.6h-4.6zM135.0,115.8h4.6v4.6h-4.6zM137.5,114.1h4.6v4.6h-4.6zM140.0,114.8h4.6v4.6h-4.6zM142.6,114.2h4.6v4.6h-4.6zM145.1,114.9h4.6v4.6h-4.6zM147.7,114.3h4.6v4.6h-4.6zM150.2,114.5h4.6v4.6h-4.6zM152.7,115.6h4.6v4.6h-4.6zM155.3,116.2h4.6v4.6h-4.6zM157.8,117.2h4.6v4.6h-4.6zM160.4,117.0h4.6v4.6h-4.6zM162.9,116.0h4.6v4.6h-4.6zM165.4,116.7h4.6v4.6h-4.6zM168.0,115.3h4.6v4.6h-4.6zM170.5,115.8h4.6v4.6h-4.6zM173.1,113.9h4.6v4.6h-4.6zM175.6,113.0h4.6v4.6h-4.6zM178.1,110.6h4.6v4.6h-4.6zM180.7,109.7h4.6v4.6h-4.6zM183.2,107.9h4.6v4.6h-4.6zM195.9,93.1h4.6v4.6h-4.6zM198.5,90.9h4.6v4.6h-4.6zM201.0,88.2h4.6v4.6h-4.6zM203.5,89.1h4.6v4.6h-4.6zM221.3,144.7h4.6v4.6h-4.6zM234.0,129.3h4.6v4.6h-4.6zM236.6,127.4h4.6v4.6h-4.6zM239.1,124.6h4.6v4.6h-4.6zM241.6,122.6h4.6v4.6h-4.6zM244.2,121.2h4.6v4.6h-4.6zM246.7,121.7h4.6v4.6h-4.6zM249.3,122.5h4.6v4.6h-4.6zM251.8,121.4h4.6v4.6h-4.6zM254.3,121.0h4.6v4.6h-4.6zM256.9,120.6h4.6v4.6h-4.6zM259.4,120.5h4.6v4.6h-4.6zM262.0,118.2h4.6v4.6h-4.6zM264.5,117.6h4.6v4.6h-4.6zM267.0,118.1h4.6v4.6h-4.6zM269.6,118.0h4.6v4.6h-4.6zM272.1,117.5h4.6v4.6h-4.6zM274.7,117.8h4.6v4.6h-4.6zM277.2,119.1h4.6v4.6h-4.6zM279.7,120.1h4.6v4.6h-4.6zM282.3,120.8h4.6v4.6h-4.6zM284.8,119.7h4.6v4.6h-4.6zM287.4,119.5h4.6v4.6h-4.6zM289.9,118.5h4.6v4.6h-4.6zM292.4,118.8h4.6v4.6h-4.6zM295.0,118.0h4.6v4.6h-4.6zM297.5,117.8h4.6v4.6h-4.6zM300.1,117.9h4.6v4.6h-4.6zM302.6,118.6h4.6v4.6h-4.6zM305.1,118.8h4.6v4.6h-4.6zM307.7,117.8h4.6v4.6h-4.6zM310.2,117.3h4.6v4.6h-4.6zM312.8,116.9h4.6v4.6h-4.6zM315.3,117.6h4.6v4.6h-4.6zM317.8,117.4h4.6v4.6h-4.6zM320.4,116.2h4.6v4.6h-4.6zM322.9,115.7h4.6v4.6h-4.6zM325.5,115.8h4.6v4.6h-4.6zM328.0,116.0h4.6v4.6h-4.6zM330.5,117.1h4.6v4.6h-4.6zM333.1,118.4h4.6v4.6h-4.6zM335.6,118.5h4.6v4.6h-4.6zM338.2,117.6h4.6v4.6h-4.6zM340.7,115.2h4.6v4.6h-4.6zM343.2,115.5h4.6v4.6h-4.6zM345.8,116.0h4.6v4.6h-4.6zM348.3,117.4h4.6v4.6h-4.6zM350.9,118.8h4.6v4.6h-4.6zM353.4,118.0h4.6v4.6h-4.6zM355.9,119.2h4.6v4.6h-4.6zM358.5,117.7h4.6v4.6h-4.6zM361.0,117.9h4.6v4.6h-4.6zM363.6,116.3h4.6v4.6h-4.6zM366.1,116.5h4.6v4.6h-4.6zM368.6,116.9h4.6v4.6h-4.6zM371.2,117.2h4.6v4.6h-4.6zM373.7,116.7h4.6v4.6h-4.6zM376.3,118.5h4.6v4.6h-4.6zM378.8,119.0h4.6v4.6h-4.6zM381.3,120.3h4.6v4.6h-4.6zM383.9,118.1h4.6v4.6h-4.6zM386.4,116.6h4.6v4.6h-4.6zM389.0,116.1h4.6v4.6h-4.6zM391.5,115.4h4.6v4.6h-4.6zM394.0,115.8h4.6v4.6h-4.6zM396.6,116.0h4.6v4.6h-4.6zM399.1,117.8h4.6v4.6h-4.6zM401.7,119.1h4.6v4.6h-4.6zM404.2,118.7h4.6v4.6h-4.6zM406.7,118.6h4.6v4.6h-4.6zM409.3,118.7h4.6v4.6h-4.6zM411.8,118.6h4.6v4.6h-4.6zM414.4,118.0h4.6v4.6h-4.6zM416.9,116.2h4.6v4.6h-4.6zM419.4,117.3h4.6v4.6h-4.6zM422.0,118.5h4.6v4.6h-4.6zM424.5,119.2h4.6v4.6h-4.6zM427.1,118.0h4.6v4.6h-4.6zM429.6,117.6h4.6v4.6h-4.6zM432.1,117.3h4.6v4.6h-4.6zM434.7,116.9h4.6v4.6h-4.6zM437.2,115.9h4.6v4.6h-4.6zM439.8,115.3h4.6v4.6h-4.6zM442.3,116.6h4.6v4.6h-4.6zM444.8,117.0h4.6v4.6h-4.6zM447.4,118.0h4.6v4.6h-4.6zM449.9,116.5h4.6v4.6h-4.6zM452.5,118.4h4.6v4.6h-4.6zM455.0,119.0h4.6v4.6h-4.6zM457.5,120.4h4.6v4.6h-4.6zM460.1,119.1h4.6v4.6h-4.6zM462.6,117.8h4.6v4.6h-4.6zM465.2,116.4h4.6v4.6h-4.6zM467.7,115.3h4.6v4.6h-4.6zM470.2,115.7h4.6v4.6h-4.6zM472.8,117.0h4.6v4.6h-4.6zM475.3,118.5h4.6v4.6h-4.6zM477.9,118.3h4.6v4.6h-4.6zM480.4,117.2h4.6v4.6h-4.6zM482.9,115.6h4.6v4.6h-4.6zM485.5,117.3h4.6v4.6h-4.6zM488.0,117.1h4.6v4.6h-4.6zM490.6,118.5h4.6v4.6h-4.6zM493.1,117.1h4.6v4.6h-4.6z" stroke="#000" stroke-width="1.80"/>
<path d="M185.6,106.1h5.0v5.0h-5.0zM188.1,103.6h5.0v5.0h-5.0zM190.6,100.5h5.0v5.0h-5.0zM193.2,97.4h5.0v5.0h-5.0zM205.9,93.0h5.0v5.0h-5.0zM208.4,101.5h5.0v5.0h-5.0zM211.0,110.4h5.0v5.0h-5.0zM213.5,122.2h5.0v5.0h-5.0zM216.0,134.1h5.0v5.0h-5.0zM218.6,142.2h5.0v5.0h-5.0zM223.7,140.9h5.0v5.0h-5.0zM226.2,139.8h5.0v5.0h-5.0zM228.7,136.4h5.0v5.0h-5.0zM231.3,134.1h5.0v5.0h-5.0z" stroke="#000" stroke-width="2.20"/>
<path d="M86.7,171.2h4.6v4.6h-4.6zM89.2,172.6h4.6v4.6h-4.6zM91.8,173.0h4.6v4.6h-4.6zM94.3,174.3h4.6v4.6h-4.6zM96.9,172.3h4.6v4.6h-4.6zM99.4,171.1h4.6v4.6h-4.6zM101.9,169.1h4.6v4.6h-4.6zM104.5,169.8h4.6v4.6h-4.6zM107.0,169.4h4.6v4.6h-4.6zM109.6,169.8h4.6v4.6h-4.6zM112.1,169.1h4.6v4.6h-4.6zM114.6,169.8h4.6v4.6h-4.6zM117.2,170.5h4.6v4.6h-4.6zM119.7,170.9h4.6v4.6h-4.6zM122.3,171.6h4.6v4.6h-4.6zM124.8,171.8h4.6v4.6h-4.6zM127.3,172.9h4.6v4.6h-4.6zM129.9,171.4h4.6v4.6h-4.6zM132.4,171.6h4.6v4.6h-4.6zM135.0,171.6h4.6v4.6h-4.6zM137.5,171.7h4.6v4.6h-4.6zM140.0,171.1h4.6v4.6h-4.6zM142.6,171.0h4.6v4.6h-4.6zM145.1,172.3h4.6v4.6h-4.6zM147.7,172.3h4.6v4.6h-4.6zM150.2,172.4h4.6v4.6h-4.6zM152.7,171.0h4.6v4.6h-4.6zM155.3,172.0h4.6v4.6h-4.6zM157.8,170.9h4.6v4.6h-4.6zM160.4,171.0h4.6v4.6h-4.6zM162.9,169.4h4.6v4.6h-4.6zM165.4,169.1h4.6v4.6h-4.6zM168.0,168.0h4.6v4.6h-4.6zM170.5,168.1h4.6v4.6h-4.6zM173.1,168.1h4.6v4.6h-4.6zM175.6,168.5h4.6v4.6h-4.6zM178.1,166.8h4.6v4.6h-4.6zM180.7,165.4h4.6v4.6h-4.6zM183.2,162.5h4.6v4.6h-4.6zM185.8,160.8h4.6v4.6h-4.6zM198.5,143.7h4.6v4.6h-4.6zM201.0,142.3h4.6v4.6h-4.6zM203.5,141.2h4.6v4.6h-4.6zM221.3,194.6h4.6v4.6h-4.6zM223.9,192.8h4.6v4.6h-4.6zM236.6,179.1h4.6v4.6h-4.6zM239.1,177.7h4.6v4.6h-4.6zM241.6,175.9h4.6v4.6h-4.6zM244.2,173.9h4.6v4.6h-4.6zM246.7,172.2h4.6v4.6h-4.6zM249.3,172.4h4.6v4.6h-4.6zM251.8,172.4h4.6v4.6h-4.6zM254.3,173.4h4.6v4.6h-4.6zM256.9,172.0h4.6v4.6h-4.6zM259.4,172.9h4.6v4.6h-4.6zM262.0,173.1h4.6v4.6h-4.6zM264.5,173.5h4.6v4.6h-4.6zM267.0,173.3h4.6v4.6h-4.6zM269.6,171.6h4.6v4.6h-4.6zM272.1,171.5h4.6v4.6h-4.6zM274.7,170.6h4.6v4.6h-4.6zM277.2,171.5h4.6v4.6h-4.6zM279.7,171.7h4.6v4.6h-4.6zM282.3,171.5h4.6v4.6h-4.6zM284.8,170.8h4.6v4.6h-4.6zM287.4,169.7h4.6v4.6h-4.6zM289.9,170.0h4.6v4.6h-4.6zM292.4,170.6h4.6v4.6h-4.6zM295.0,172.3h4.6v4.6h-4.6zM297.5,171.9h4.6v4.6h-4.6zM300.1,171.6h4.6v4.6h-4.6zM302.6,170.6h4.6v4.6h-4.6zM305.1,171.9h4.6v4.6h-4.6zM307.7,171.2h4.6v4.6h-4.6zM310.2,170.3h4.6v4.6h-4.6zM312.8,169.5h4.6v4.6h-4.6zM315.3,169.2h4.6v4.6h-4.6zM317.8,169.7h4.6v4.6h-4.6zM320.4,168.1h4.6v4.6h-4.6zM322.9,168.2h4.6v4.6h-4.6zM325.5,167.7h4.6v4.6h-4.6zM328.0,167.6h4.6v4.6h-4.6zM330.5,168.1h4.6v4.6h-4.6zM333.1,168.4h4.6v4.6h-4.6zM335.6,168.6h4.6v4.6h-4.6zM338.2,167.5h4.6v4.6h-4.6zM340.7,166.4h4.6v4.6h-4.6zM343.2,167.0h4.6v4.6h-4.6zM345.8,168.5h4.6v4.6h-4.6zM348.3,169.4h4.6v4.6h-4.6zM350.9,169.8h4.6v4.6h-4.6zM353.4,168.9h4.6v4.6h-4.6zM355.9,169.8h4.6v4.6h-4.6zM358.5,169.5h4.6v4.6h-4.6zM361.0,170.7h4.6v4.6h-4.6zM363.6,170.1h4.6v4.6h-4.6zM366.1,170.9h4.6v4.6h-4.6zM368.6,172.0h4.6v4.6h-4.6zM371.2,173.4h4.6v4.6h-4.6zM373.7,173.5h4.6v4.6h-4.6zM376.3,173.3h4.6v4.6h-4.6zM378.8,173.7h4.6v4.6h-4.6zM381.3,174.6h4.6v4.6h-4.6zM383.9,174.5h4.6v4.6h-4.6zM386.4,173.8h4.6v4.6h-4.6zM389.0,174.1h4.6v4.6h-4.6zM391.5,173.8h4.6v4.6h-4.6zM394.0,173.1h4.6v4.6h-4.6zM396.6,172.0h4.6v4.6h-4.6zM399.1,172.7h4.6v4.6h-4.6zM401.7,174.1h4.6v4.6h-4.6zM404.2,173.6h4.6v4.6h-4.6zM406.7,171.0h4.6v4.6h-4.6zM409.3,169.9h4.6v4.6h-4.6zM411.8,170.5h4.6v4.6h-4.6zM414.4,172.3h4.6v4.6h-4.6zM416.9,172.1h4.6v4.6h-4.6zM419.4,172.0h4.6v4.6h-4.6zM422.0,172.1h4.6v4.6h-4.6zM424.5,172.4h4.6v4.6h-4.6zM427.1,172.4h4.6v4.6h-4.6zM429.6,170.6h4.6v4.6h-4.6zM432.1,169.9h4.6v4.6h-4.6zM434.7,169.4h4.6v4.6h-4.6zM437.2,170.0h4.6v4.6h-4.6zM439.8,170.5h4.6v4.6h-4.6zM442.3,170.4h4.6v4.6h-4.6zM444.8,170.6h4.6v4.6h-4.6zM447.4,170.5h4.6v4.6h-4.6zM449.9,171.7h4.6v4.6h-4.6zM452.5,171.2h4.6v4.6h-4.6zM455.0,170.4h4.6v4.6h-4.6zM457.5,169.1h4.6v4.6h-4.6zM460.1,169.7h4.6v4.6h-4.6zM462.6,170.4h4.6v4.6h-4.6zM465.2,171.3h4.6v4.6h-4.6zM467.7,171.2h4.6v4.6h-4.6zM470.2,171.1h4.6v4.6h-4.6zM472.8,170.4h4.6v4.6h-4.6zM475.3,170.9h4.6v4.6h-4.6zM477.9,171.0h4.6v4.6h-4.6zM480.4,171.3h4.6v4.6h-4.6zM482.9,170.4h4.6v4.6h-4.6zM485.5,170.7h4.6v4.6h-4.6zM488.0,171.6h4.6v4.6h-4.6zM490.6,171.9h4.6v4.6h-4.6zM493.1,170.7h4.6v4.6h-4.6z" stroke="#000" stroke-width="1.80"/>
<path d="M188.1,157.8h5.0v5.0h-5.0zM190.6,156.2h5.0v5.0h-5.0zM193.2,152.5h5.0v5.0h-5.0zM195.7,147.7h5.0v5.0h-5.0zM205.9,143.7h5.0v5.0h-5.0zM208.4,148.9h5.0v5.0h-5.0zM211.0,157.8h5.0v5.0h-5.0zM213.5,170.0h5.0v5.0h-5.0zM216.0,181.0h5.0v5.0h-5.0zM218.6,189.5h5.0v5.0h-5.0zM226.2,191.9h5.0v5.0h-5.0zM228.7,189.3h5.0v5.0h-5.0zM231.3,186.1h5.0v5.0h-5.0zM233.8,182.2h5.0v5.0h-5.0z" stroke="#000" stroke-width="2.20"/>
<path d="M86.7,203.2h4.6v4.6h-4.6zM89.2,202.9h4.6v4.6h-4.6zM91.8,202.7h4.6v4.6h-4.6zM94.3,203.5h4.6v4.6h-4.6zM96.9,203.9h4.6v4.6h-4.6zM99.4,204.0h4.6v4.6h-4.6zM101.9,203.9h4.6v4.6h-4.6zM104.5,204.6h4.6v4.6h-4.6zM107.0,204.5h4.6v4.6h-4.6zM109.6,204.8h4.6v4.6h-4.6zM112.1,203.7h4.6v4.6h-4.6zM114.6,204.0h4.6v4.6h-4.6zM117.2,204.4h4.6v4.6h-4.6zM119.7,205.3h4.6v4.6h-4.6zM122.3,205.5h4.6v4.6h-4.6zM124.8,205.4h4.6v4.6h-4.6zM127.3,204.5h4.6v4.6h-4.6zM129.9,204.8h4.6v4.6h-4.6zM132.4,203.9h4.6v4.6h-4.6zM135.0,204.6h4.6v4.6h-4.6zM137.5,203.1h4.6v4.6h-4.6zM140.0,203.4h4.6v4.6h-4.6zM142.6,203.3h4.6v4.6h-4.6zM145.1,203.8h4.6v4.6h-4.6zM147.7,203.9h4.6v4.6h-4.6zM150.2,203.5h4.6v4.6h-4.6zM152.7,203.5h4.6v4.6h-4.6zM155.3,202.3h4.6v4.6h-4.6zM157.8,202.2h4.6v4.6h-4.6zM160.4,202.1h4.6v4.6h-4.6zM162.9,202.6h4.6v4.6h-4.6zM165.4,203.6h4.6v4.6h-4.6zM168.0,203.7h4.6v4.6h-4.6zM170.5,204.1h4.6v4.6h-4.6zM173.1,202.5h4.6v4.6h-4.6zM175.6,201.7h4.6v4.6h-4.6zM178.1,199.7h4.6v4.6h-4.6zM180.7,198.0h4.6v4.6h-4.6zM183.2,196.0h4.6v4.6h-4.6zM185.8,195.1h4.6v4.6h-4.6zM188.3,193.4h4.6v4.6h-4.6zM190.8,191.2h4.6v4.6h-4.6zM193.4,188.5h4.6v4.6h-4.6zM198.5,183.3h4.6v4.6h-4.6zM201.0,181.3h4.6v4.6h-4.6zM203.5,180.8h4.6v4.6h-4.6zM206.1,180.4h4.6v4.6h-4.6zM208.6,182.9h4.6v4.6h-4.6zM223.9,220.1h4.6v4.6h-4.6zM226.4,220.3h4.6v4.6h-4.6zM228.9,218.8h4.6v4.6h-4.6zM234.0,214.4h4.6v4.6h-4.6zM236.6,212.6h4.6v4.6h-4.6zM239.1,211.7h4.6v4.6h-4.6zM241.6,211.0h4.6v4.6h-4.6zM244.2,210.8h4.6v4.6h-4.6zM246.7,210.1h4.6v4.6h-4.6zM249.3,207.9h4.6v4.6h-4.6zM251.8,206.4h4.6v4.6h-4.6zM254.3,205.4h4.6v4.6h-4.6zM256.9,205.0h4.6v4.6h-4.6zM259.4,205.1h4.6v4.6h-4.6zM262.0,204.8h4.6v4.6h-4.6zM264.5,204.9h4.6v4.6h-4.6zM267.0,204.6h4.6v4.6h-4.6zM269.6,204.8h4.6v4.6h-4.6zM272.1,206.0h4.6v4.6h-4.6zM274.7,206.8h4.6v4.6h-4.6zM277.2,206.3h4.6v4.6h-4.6zM279.7,206.0h4.6v4.6h-4.6zM282.3,205.6h4.6v4.6h-4.6zM284.8,205.8h4.6v4.6h-4.6zM287.4,204.6h4.6v4.6h-4.6zM289.9,204.1h4.6v4.6h-4.6zM292.4,203.9h4.6v4.6h-4.6zM295.0,204.8h4.6v4.6h-4.6zM297.5,204.0h4.6v4.6h-4.6zM300.1,203.2h4.6v4.6h-4.6zM302.6,202.3h4.6v4.6h-4.6zM305.1,202.7h4.6v4.6h-4.6zM307.7,203.4h4.6v4.6h-4.6zM310.2,202.9h4.6v4.6h-4.6zM312.8,203.0h4.6v4.6h-4.6zM315.3,204.0h4.6v4.6h-4.6zM317.8,205.5h4.6v4.6h-4.6zM320.4,205.9h4.6v4.6h-4.6zM322.9,204.1h4.6v4.6h-4.6zM325.5,203.1h4.6v4.6h-4.6zM328.0,202.4h4.6v4.6h-4.6zM330.5,202.9h4.6v4.6h-4.6zM333.1,202.3h4.6v4.6h-4.6zM335.6,201.9h4.6v4.6h-4.6zM338.2,201.5h4.6v4.6h-4.6zM340.7,201.0h4.6v4.6h-4.6zM343.2,201.5h4.6v4.6h-4.6zM345.8,202.5h4.6v4.6h-4.6zM348.3,203.1h4.6v4.6h-4.6zM350.9,203.8h4.6v4.6h-4.6zM353.4,203.3h4.6v4.6h-4.6zM355.9,202.6h4.6v4.6h-4.6zM358.5,201.3h4.6v4.6h-4.6zM361.0,202.4h4.6v4.6h-4.6zM363.6,204.1h4.6v4.6h-4.6zM366.1,204.8h4.6v4.6h-4.6zM368.6,203.7h4.6v4.6h-4.6zM371.2,204.0h4.6v4.6h-4.6zM373.7,204.5h4.6v4.6h-4.6zM376.3,205.3h4.6v4.6h-4.6zM378.8,205.6h4.6v4.6h-4.6zM381.3,205.2h4.6v4.6h-4.6zM383.9,206.1h4.6v4.6h-4.6zM386.4,206.4h4.6v4.6h-4.6zM389.0,208.7h4.6v4.6h-4.6zM391.5,209.3h4.6v4.6h-4.6zM394.0,208.9h4.6v4.6h-4.6zM396.6,207.8h4.6v4.6h-4.6zM399.1,206.7h4.6v4.6h-4.6zM401.7,206.0h4.6v4.6h-4.6zM404.2,205.8h4.6v4.6h-4.6zM406.7,205.7h4.6v4.6h-4.6zM409.3,205.8h4.6v4.6h-4.6zM411.8,205.6h4.6v4.6h-4.6zM414.4,205.0h4.6v4.6h-4.6zM416.9,205.3h4.6v4.6h-4.6zM419.4,204.3h4.6v4.6h-4.6zM422.0,204.8h4.6v4.6h-4.6zM424.5,204.5h4.6v4.6h-4.6zM427.1,205.0h4.6v4.6h-4.6zM429.6,204.0h4.6v4.6h-4.6zM432.1,204.4h4.6v4.6h-4.6zM434.7,204.6h4.6v4.6h-4.6zM437.2,205.4h4.6v4.6h-4.6zM439.8,205.1h4.6v4.6h-4.6zM442.3,205.4h4.6v4.6h-4.6zM444.8,204.6h4.6v4.6h-4.6zM447.4,204.0h4.6v4.6h-4.6zM449.9,204.2h4.6v4.6h-4.6zM452.5,205.2h4.6v4.6h-4.6zM455.0,205.4h4.6v4.6h-4.6zM457.5,203.9h4.6v4.6h-4.6zM460.1,203.7h4.6v4.6h-4.6zM462.6,203.3h4.6v4.6h-4.6zM465.2,203.8h4.6v4.6h-4.6zM467.7,204.1h4.6v4.6h-4.6zM470.2,204.1h4.6v4.6h-4.6zM472.8,203.9h4.6v4.6h-4.6zM475.3,203.2h4.6v4.6h-4.6zM477.9,203.4h4.6v4.6h-4.6zM480.4,203.3h4.6v4.6h-4.6zM482.9,203.6h4.6v4.6h-4.6zM485.5,204.3h4.6v4.6h-4.6zM488.0,205.3h4.6v4.6h-4.6zM490.6,204.4h4.6v4.6h-4.6zM493.1,204.1h4.6v4.6h-4.6z" stroke="#000" stroke-width="1.80"/>
<path d="M195.7,185.1h5.0v5.0h-5.0zM211.0,187.9h5.0v5.0h-5.0zM213.5,194.9h5.0v5.0h-5.0zM216.0,203.5h5.0v5.0h-5.0zM218.6,211.2h5.0v5.0h-5.0zM221.1,217.5h5.0v5.0h-5.0zM231.3,216.2h5.0v5.0h-5.0z" stroke="#000" stroke-width="2.20"/>
<path d="M86.7,238.1h4.6v4.6h-4.6zM89.2,238.4h4.6v4.6h-4.6zM91.8,238.7h4.6v4.6h-4.6zM94.3,238.5h4.6v4.6h-4.6zM96.9,238.7h4.6v4.6h-4.6zM99.4,238.0h4.6v4.6h-4.6zM101.9,237.8h4.6v4.6h-4.6zM104.5,237.8h4.6v4.6h-4.6zM107.0,238.2h4.6v4.6h-4.6zM109.6,238.9h4.6v4.6h-4.6zM112.1,239.0h4.6v4.6h-4.6zM114.6,238.5h4.6v4.6h-4.6zM117.2,237.9h4.6v4.6h-4.6zM119.7,237.8h4.6v4.6h-4.6zM122.3,238.3h4.6v4.6h-4.6zM124.8,238.5h4.6v4.6h-4.6zM127.3,238.2h4.6v4.6h-4.6zM129.9,237.1h4.6v4.6h-4.6zM132.4,237.1h4.6v4.6h-4.6zM135.0,236.9h4.6v4.6h-4.6zM137.5,237.3h4.6v4.6h-4.6zM140.0,237.0h4.6v4.6h-4.6zM142.6,237.5h4.6v4.6h-4.6zM145.1,236.6h4.6v4.6h-4.6zM147.7,236.4h4.6v4.6h-4.6zM150.2,235.2h4.6v4.6h-4.6zM152.7,236.4h4.6v4.6h-4.6zM155.3,236.4h4.6v4.6h-4.6zM157.8,237.8h4.6v4.6h-4.6zM160.4,237.1h4.6v4.6h-4.6zM162.9,236.5h4.6v4.6h-4.6zM165.4,236.1h4.6v4.6h-4.6zM168.0,236.0h4.6v4.6h-4.6zM170.5,237.0h4.6v4.6h-4.6zM173.1,236.8h4.6v4.6h-4.6zM175.6,236.8h4.6v4.6h-4.6zM178.1,236.0h4.6v4.6h-4.6zM180.7,235.2h4.6v4.6h-4.6zM183.2,235.0h4.6v4.6h-4.6zM185.8,233.9h4.6v4.6h-4.6zM188.3,232.0h4.6v4.6h-4.6zM190.8,230.5h4.6v4.6h-4.6zM193.4,228.5h4.6v4.6h-4.6zM195.9,227.1h4.6v4.6h-4.6zM198.5,225.9h4.6v4.6h-4.6zM201.0,224.7h4.6v4.6h-4.6zM203.5,223.3h4.6v4.6h-4.6zM206.1,223.1h4.6v4.6h-4.6zM208.6,223.4h4.6v4.6h-4.6zM211.2,224.8h4.6v4.6h-4.6zM226.4,243.0h4.6v4.6h-4.6zM228.9,245.3h4.6v4.6h-4.6zM231.5,245.1h4.6v4.6h-4.6zM234.0,244.2h4.6v4.6h-4.6zM236.6,242.6h4.6v4.6h-4.6zM239.1,241.6h4.6v4.6h-4.6zM241.6,241.4h4.6v4.6h-4.6zM244.2,240.3h4.6v4.6h-4.6zM246.7,240.7h4.6v4.6h-4.6zM249.3,239.6h4.6v4.6h-4.6zM251.8,240.1h4.6v4.6h-4.6zM254.3,239.1h4.6v4.6h-4.6zM256.9,239.0h4.6v4.6h-4.6zM259.4,238.1h4.6v4.6h-4.6zM262.0,237.7h4.6v4.6h-4.6zM264.5,237.7h4.6v4.6h-4.6zM267.0,237.2h4.6v4.6h-4.6zM269.6,237.3h4.6v4.6h-4.6zM272.1,236.8h4.6v4.6h-4.6zM274.7,236.7h4.6v4.6h-4.6zM277.2,237.1h4.6v4.6h-4.6zM279.7,236.8h4.6v4.6h-4.6zM282.3,237.6h4.6v4.6h-4.6zM284.8,236.7h4.6v4.6h-4.6zM287.4,237.1h4.6v4.6h-4.6zM289.9,236.4h4.6v4.6h-4.6zM292.4,236.1h4.6v4.6h-4.6zM295.0,236.2h4.6v4.6h-4.6zM297.5,236.7h4.6v4.6h-4.6zM300.1,237.4h4.6v4.6h-4.6zM302.6,237.2h4.6v4.6h-4.6zM305.1,237.5h4.6v4.6h-4.6zM307.7,237.1h4.6v4.6h-4.6zM310.2,237.2h4.6v4.6h-4.6zM312.8,237.8h4.6v4.6h-4.6zM315.3,238.3h4.6v4.6h-4.6zM317.8,237.4h4.6v4.6h-4.6zM320.4,236.1h4.6v4.6h-4.6zM322.9,236.3h4.6v4.6h-4.6zM325.5,236.1h4.6v4.6h-4.6zM328.0,236.5h4.6v4.6h-4.6zM330.5,236.4h4.6v4.6h-4.6zM333.1,236.7h4.6v4.6h-4.6zM335.6,236.5h4.6v4.6h-4.6zM338.2,234.8h4.6v4.6h-4.6zM340.7,236.2h4.6v4.6h-4.6zM343.2,236.9h4.6v4.6h-4.6zM345.8,239.0h4.6v4.6h-4.6zM348.3,237.6h4.6v4.6h-4.6zM350.9,236.9h4.6v4.6h-4.6zM353.4,236.2h4.6v4.6h-4.6zM355.9,236.8h4.6v4.6h-4.6zM358.5,237.1h4.6v4.6h-4.6zM361.0,237.7h4.6v4.6h-4.6zM363.6,236.8h4.6v4.6h-4.6zM366.1,237.5h4.6v4.6h-4.6zM368.6,237.2h4.6v4.6h-4.6zM371.2,238.2h4.6v4.6h-4.6zM373.7,238.0h4.6v4.6h-4.6zM376.3,238.3h4.6v4.6h-4.6zM378.8,239.7h4.6v4.6h-4.6zM381.3,238.7h4.6v4.6h-4.6zM383.9,240.0h4.6v4.6h-4.6zM386.4,239.4h4.6v4.6h-4.6zM389.0,241.5h4.6v4.6h-4.6zM391.5,241.3h4.6v4.6h-4.6zM394.0,242.0h4.6v4.6h-4.6zM396.6,241.7h4.6v4.6h-4.6zM399.1,241.7h4.6v4.6h-4.6zM401.7,240.7h4.6v4.6h-4.6zM404.2,239.4h4.6v4.6h-4.6zM406.7,238.8h4.6v4.6h-4.6zM409.3,238.1h4.6v4.6h-4.6zM411.8,238.1h4.6v4.6h-4.6zM414.4,236.8h4.6v4.6h-4.6zM416.9,237.3h4.6v4.6h-4.6zM419.4,236.9h4.6v4.6h-4.6zM422.0,237.3h4.6v4.6h-4.6zM424.5,237.0h4.6v4.6h-4.6zM427.1,237.4h4.6v4.6h-4.6zM429.6,237.1h4.6v4.6h-4.6zM432.1,235.8h4.6v4.6h-4.6zM434.7,235.3h4.6v4.6h-4.6zM437.2,234.9h4.6v4.6h-4.6zM439.8,235.5h4.6v4.6h-4.6zM442.3,236.1h4.6v4.6h-4.6zM444.8,236.7h4.6v4.6h-4.6zM447.4,236.2h4.6v4.6h-4.6zM449.9,235.3h4.6v4.6h-4.6zM452.5,235.2h4.6v4.6h-4.6zM455.0,235.9h4.6v4.6h-4.6zM457.5,236.6h4.6v4.6h-4.6zM460.1,236.1h4.6v4.6h-4.6zM462.6,236.3h4.6v4.6h-4.6zM465.2,236.0h4.6v4.6h-4.6zM467.7,236.1h4.6v4.6h-4.6zM470.2,235.7h4.6v4.6h-4.6zM472.8,236.0h4.6v4.6h-4.6zM475.3,236.7h4.6v4.6h-4.6zM477.9,236.0h4.6v4.6h-4.6zM480.4,235.6h4.6v4.6h-4.6zM482.9,235.2h4.6v4.6h-4.6zM485.5,236.1h4.6v4.6h-4.6zM488.0,236.0h4.6v4.6h-4.6zM490.6,236.4h4.6v4.6h-4.6zM493.1,235.8h4.6v4.6h-4.6z" stroke="#000" stroke-width="1.80"/>
<path d="M213.5,225.6h5.0v5.0h-5.0zM216.0,230.1h5.0v5.0h-5.0zM218.6,234.4h5.0v5.0h-5.0zM221.1,238.1h5.0v5.0h-5.0zM223.7,240.4h5.0v5.0h-5.0z" stroke="#000" stroke-width="2.20"/>
<path d="M86.7,265.1h4.6v4.6h-4.6zM89.2,265.4h4.6v4.6h-4.6zM91.8,265.3h4.6v4.6h-4.6zM94.3,266.1h4.6v4.6h-4.6zM96.9,266.5h4.6v4.6h-4.6zM99.4,267.4h4.6v4.6h-4.6zM101.9,267.7h4.6v4.6h-4.6zM104.5,268.0h4.6v4.6h-4.6zM107.0,268.2h4.6v4.6h-4.6zM109.6,268.7h4.6v4.6h-4.6zM112.1,269.9h4.6v4.6h-4.6zM114.6,270.6h4.6v4.6h-4.6zM117.2,271.0h4.6v4.6h-4.6zM119.7,271.3h4.6v4.6h-4.6zM122.3,271.5h4.6v4.6h-4.6zM124.8,271.7h4.6v4.6h-4.6zM127.3,271.7h4.6v4.6h-4.6zM129.9,271.6h4.6v4.6h-4.6zM132.4,271.5h4.6v4.6h-4.6zM135.0,271.2h4.6v4.6h-4.6zM137.5,270.8h4.6v4.6h-4.6zM140.0,270.0h4.6v4.6h-4.6zM142.6,268.6h4.6v4.6h-4.6zM145.1,267.7h4.6v4.6h-4.6zM147.7,267.0h4.6v4.6h-4.6zM150.2,266.7h4.6v4.6h-4.6zM152.7,266.1h4.6v4.6h-4.6zM155.3,265.5h4.6v4.6h-4.6zM157.8,265.0h4.6v4.6h-4.6zM160.4,264.4h4.6v4.6h-4.6zM162.9,263.7h4.6v4.6h-4.6zM165.4,263.4h4.6v4.6h-4.6zM168.0,263.6h4.6v4.6h-4.6zM170.5,263.7h4.6v4.6h-4.6zM173.1,263.5h4.6v4.6h-4.6zM175.6,263.1h4.6v4.6h-4.6zM178.1,262.5h4.6v4.6h-4.6zM180.7,261.7h4.6v4.6h-4.6zM183.2,261.3h4.6v4.6h-4.6zM185.8,260.3h4.6v4.6h-4.6zM188.3,260.6h4.6v4.6h-4.6zM190.8,260.1h4.6v4.6h-4.6zM193.4,260.4h4.6v4.6h-4.6zM195.9,259.8h4.6v4.6h-4.6zM198.5,259.5h4.6v4.6h-4.6zM201.0,259.5h4.6v4.6h-4.6zM203.5,259.9h4.6v4.6h-4.6zM206.1,260.5h4.6v4.6h-4.6zM208.6,260.3h4.6v4.6h-4.6zM211.2,260.5h4.6v4.6h-4.6zM213.7,260.4h4.6v4.6h-4.6zM216.2,260.8h4.6v4.6h-4.6zM218.8,260.7h4.6v4.6h-4.6zM221.3,262.0h4.6v4.6h-4.6zM223.9,262.9h4.6v4.6h-4.6zM226.4,264.3h4.6v4.6h-4.6zM228.9,264.9h4.6v4.6h-4.6zM231.5,266.0h4.6v4.6h-4.6zM234.0,266.2h4.6v4.6h-4.6zM236.6,266.0h4.6v4.6h-4.6zM239.1,266.1h4.6v4.6h-4.6zM241.6,266.3h4.6v4.6h-4.6zM244.2,266.1h4.6v4.6h-4.6zM246.7,265.9h4.6v4.6h-4.6zM249.3,265.4h4.6v4.6h-4.6zM251.8,265.7h4.6v4.6h-4.6zM254.3,265.5h4.6v4.6h-4.6zM256.9,266.0h4.6v4.6h-4.6zM259.4,265.9h4.6v4.6h-4.6zM262.0,265.8h4.6v4.6h-4.6zM264.5,265.7h4.6v4.6h-4.6zM267.0,265.1h4.6v4.6h-4.6zM269.6,265.5h4.6v4.6h-4.6zM272.1,265.2h4.6v4.6h-4.6zM274.7,265.4h4.6v4.6h-4.6zM277.2,265.0h4.6v4.6h-4.6zM279.7,265.3h4.6v4.6h-4.6zM282.3,265.7h4.6v4.6h-4.6zM284.8,265.8h4.6v4.6h-4.6zM287.4,265.3h4.6v4.6h-4.6zM289.9,265.5h4.6v4.6h-4.6zM292.4,265.3h4.6v4.6h-4.6zM295.0,265.4h4.6v4.6h-4.6zM297.5,265.0h4.6v4.6h-4.6zM300.1,265.0h4.6v4.6h-4.6zM302.6,265.0h4.6v4.6h-4.6zM305.1,265.0h4.6v4.6h-4.6zM307.7,265.2h4.6v4.6h-4.6zM310.2,265.3h4.6v4.6h-4.6zM312.8,265.5h4.6v4.6h-4.6zM315.3,265.2h4.6v4.6h-4.6zM317.8,265.1h4.6v4.6h-4.6zM320.4,265.1h4.6v4.6h-4.6zM322.9,265.6h4.6v4.6h-4.6zM325.5,265.4h4.6v4.6h-4.6zM328.0,264.7h4.6v4.6h-4.6zM330.5,264.3h4.6v4.6h-4.6zM333.1,264.6h4.6v4.6h-4.6zM335.6,264.9h4.6v4.6h-4.6zM338.2,264.4h4.6v4.6h-4.6zM340.7,264.3h4.6v4.6h-4.6zM343.2,264.0h4.6v4.6h-4.6zM345.8,264.4h4.6v4.6h-4.6zM348.3,264.4h4.6v4.6h-4.6zM350.9,264.6h4.6v4.6h-4.6zM353.4,264.4h4.6v4.6h-4.6zM355.9,264.5h4.6v4.6h-4.6zM358.5,264.5h4.6v4.6h-4.6zM361.0,264.8h4.6v4.6h-4.6zM363.6,264.9h4.6v4.6h-4.6zM366.1,264.6h4.6v4.6h-4.6zM368.6,264.4h4.6v4.6h-4.6zM371.2,263.9h4.6v4.6h-4.6zM373.7,264.3h4.6v4.6h-4.6zM376.3,264.1h4.6v4.6h-4.6zM378.8,264.8h4.6v4.6h-4.6zM381.3,265.4h4.6v4.6h-4.6zM383.9,266.6h4.6v4.6h-4.6zM386.4,266.9h4.6v4.6h-4.6zM389.0,267.0h4.6v4.6h-4.6zM391.5,266.7h4.6v4.6h-4.6zM394.0,267.0h4.6v4.6h-4.6zM396.6,267.4h4.6v4.6h-4.6zM399.1,267.6h4.6v4.6h-4.6zM401.7,267.7h4.6v4.6h-4.6zM404.2,267.7h4.6v4.6h-4.6zM406.7,267.9h4.6v4.6h-4.6zM409.3,267.7h4.6v4.6h-4.6zM411.8,267.2h4.6v4.6h-4.6zM414.4,267.2h4.6v4.6h-4.6zM416.9,267.1h4.6v4.6h-4.6zM419.4,266.9h4.6v4.6h-4.6zM422.0,266.5h4.6v4.6h-4.6zM424.5,265.7h4.6v4.6h-4.6zM427.1,265.5h4.6v4.6h-4.6zM429.6,265.2h4.6v4.6h-4.6zM432.1,265.3h4.6v4.6h-4.6zM434.7,265.0h4.6v4.6h-4.6zM437.2,264.9h4.6v4.6h-4.6zM439.8,265.1h4.6v4.6h-4.6zM442.3,265.1h4.6v4.6h-4.6zM444.8,265.2h4.6v4.6h-4.6zM447.4,265.3h4.6v4.6h-4.6zM449.9,265.1h4.6v4.6h-4.6zM452.5,265.1h4.6v4.6h-4.6zM455.0,264.7h4.6v4.6h-4.6zM457.5,264.6h4.6v4.6h-4.6zM460.1,264.7h4.6v4.6h-4.6zM462.6,264.7h4.6v4.6h-4.6zM465.2,265.4h4.6v4.6h-4.6zM467.7,265.4h4.6v4.6h-4.6zM470.2,265.7h4.6v4.6h-4.6zM472.8,265.3h4.6v4.6h-4.6zM475.3,264.9h4.6v4.6h-4.6zM477.9,265.0h4.6v4.6h-4.6zM480.4,265.1h4.6v4.6h-4.6zM482.9,265.3h4.6v4.6h-4.6zM485.5,264.8h4.6v4.6h-4.6zM488.0,264.5h4.6v4.6h-4.6zM490.6,264.3h4.6v4.6h-4.6zM493.1,264.5h4.6v4.6h-4.6z" stroke="#000" stroke-width="1.80"/>
<path d="M86.7,289.0h4.6v4.6h-4.6zM89.2,289.7h4.6v4.6h-4.6zM91.8,290.6h4.6v4.6h-4.6zM94.3,291.3h4.6v4.6h-4.6zM96.9,292.0h4.6v4.6h-4.6zM99.4,291.9h4.6v4.6h-4.6zM101.9,292.3h4.6v4.6h-4.6zM104.5,292.8h4.6v4.6h-4.6zM107.0,293.6h4.6v4.6h-4.6zM109.6,294.1h4.6v4.6h-4.6zM112.1,294.9h4.6v4.6h-4.6zM114.6,295.4h4.6v4.6h-4.6zM117.2,295.9h4.6v4.6h-4.6zM119.7,296.0h4.6v4.6h-4.6zM122.3,296.9h4.6v4.6h-4.6zM124.8,297.6h4.6v4.6h-4.6zM127.3,297.9h4.6v4.6h-4.6zM129.9,297.5h4.6v4.6h-4.6zM132.4,296.8h4.6v4.6h-4.6zM135.0,296.4h4.6v4.6h-4.6zM137.5,295.8h4.6v4.6h-4.6zM140.0,295.2h4.6v4.6h-4.6zM142.6,293.9h4.6v4.6h-4.6zM145.1,292.9h4.6v4.6h-4.6zM147.7,291.8h4.6v4.6h-4.6zM150.2,291.3h4.6v4.6h-4.6zM152.7,290.7h4.6v4.6h-4.6zM155.3,290.1h4.6v4.6h-4.6zM157.8,289.6h4.6v4.6h-4.6zM160.4,289.2h4.6v4.6h-4.6zM162.9,289.1h4.6v4.6h-4.6zM165.4,289.0h4.6v4.6h-4.6zM168.0,288.7h4.6v4.6h-4.6zM170.5,288.2h4.6v4.6h-4.6zM173.1,287.8h4.6v4.6h-4.6zM175.6,287.5h4.6v4.6h-4.6zM178.1,287.3h4.6v4.6h-4.6zM180.7,287.0h4.6v4.6h-4.6zM183.2,286.6h4.6v4.6h-4.6zM185.8,285.9h4.6v4.6h-4.6zM188.3,285.1h4.6v4.6h-4.6zM190.8,285.2h4.6v4.6h-4.6zM193.4,285.1h4.6v4.6h-4.6zM195.9,284.9h4.6v4.6h-4.6zM198.5,283.9h4.6v4.6h-4.6zM201.0,284.0h4.6v4.6h-4.6zM203.5,284.0h4.6v4.6h-4.6zM206.1,284.6h4.6v4.6h-4.6zM208.6,284.5h4.6v4.6h-4.6zM211.2,284.9h4.6v4.6h-4.6zM213.7,284.9h4.6v4.6h-4.6zM216.2,285.4h4.6v4.6h-4.6zM218.8,286.3h4.6v4.6h-4.6zM221.3,287.2h4.6v4.6h-4.6zM223.9,288.1h4.6v4.6h-4.6zM226.4,289.1h4.6v4.6h-4.6zM228.9,290.3h4.6v4.6h-4.6zM231.5,291.5h4.6v4.6h-4.6zM234.0,292.0h4.6v4.6h-4.6zM236.6,292.3h4.6v4.6h-4.6zM239.1,292.1h4.6v4.6h-4.6zM241.6,291.8h4.6v4.6h-4.6zM244.2,292.1h4.6v4.6h-4.6zM246.7,292.2h4.6v4.6h-4.6zM249.3,292.5h4.6v4.6h-4.6zM251.8,292.3h4.6v4.6h-4.6zM254.3,292.2h4.6v4.6h-4.6zM256.9,292.0h4.6v4.6h-4.6zM259.4,291.8h4.6v4.6h-4.6zM262.0,291.6h4.6v4.6h-4.6zM264.5,291.4h4.6v4.6h-4.6zM267.0,291.0h4.6v4.6h-4.6zM269.6,290.9h4.6v4.6h-4.6zM272.1,290.7h4.6v4.6h-4.6zM274.7,291.2h4.6v4.6h-4.6zM277.2,291.5h4.6v4.6h-4.6zM279.7,291.8h4.6v4.6h-4.6zM282.3,291.7h4.6v4.6h-4.6zM284.8,291.2h4.6v4.6h-4.6zM287.4,290.9h4.6v4.6h-4.6zM289.9,290.3h4.6v4.6h-4.6zM292.4,290.6h4.6v4.6h-4.6zM295.0,290.5h4.6v4.6h-4.6zM297.5,290.9h4.6v4.6h-4.6zM300.1,291.1h4.6v4.6h-4.6zM302.6,290.8h4.6v4.6h-4.6zM305.1,290.6h4.6v4.6h-4.6zM307.7,290.7h4.6v4.6h-4.6zM310.2,290.5h4.6v4.6h-4.6zM312.8,290.3h4.6v4.6h-4.6zM315.3,289.7h4.6v4.6h-4.6zM317.8,289.7h4.6v4.6h-4.6zM320.4,289.6h4.6v4.6h-4.6zM322.9,289.4h4.6v4.6h-4.6zM325.5,289.5h4.6v4.6h-4.6zM328.0,289.3h4.6v4.6h-4.6zM330.5,289.5h4.6v4.6h-4.6zM333.1,289.7h4.6v4.6h-4.6zM335.6,290.0h4.6v4.6h-4.6zM338.2,289.6h4.6v4.6h-4.6zM340.7,289.3h4.6v4.6h-4.6zM343.2,289.3h4.6v4.6h-4.6zM345.8,289.4h4.6v4.6h-4.6zM348.3,289.5h4.6v4.6h-4.6zM350.9,289.0h4.6v4.6h-4.6zM353.4,289.0h4.6v4.6h-4.6zM355.9,289.0h4.6v4.6h-4.6zM358.5,289.3h4.6v4.6h-4.6zM361.0,289.2h4.6v4.6h-4.6zM363.6,288.9h4.6v4.6h-4.6zM366.1,288.8h4.6v4.6h-4.6zM368.6,289.4h4.6v4.6h-4.6zM371.2,290.3h4.6v4.6h-4.6zM373.7,290.6h4.6v4.6h-4.6zM376.3,290.7h4.6v4.6h-4.6zM378.8,290.6h4.6v4.6h-4.6zM381.3,291.2h4.6v4.6h-4.6zM383.9,292.0h4.6v4.6h-4.6zM386.4,292.4h4.6v4.6h-4.6zM389.0,292.6h4.6v4.6h-4.6zM391.5,293.0h4.6v4.6h-4.6zM394.0,293.1h4.6v4.6h-4.6zM396.6,293.6h4.6v4.6h-4.6zM399.1,292.8h4.6v4.6h-4.6zM401.7,292.5h4.6v4.6h-4.6zM404.2,291.9h4.6v4.6h-4.6zM406.7,291.8h4.6v4.6h-4.6zM409.3,291.8h4.6v4.6h-4.6zM411.8,291.3h4.6v4.6h-4.6zM414.4,290.8h4.6v4.6h-4.6zM416.9,290.4h4.6v4.6h-4.6zM419.4,290.3h4.6v4.6h-4.6zM422.0,290.3h4.6v4.6h-4.6zM424.5,290.2h4.6v4.6h-4.6zM427.1,289.7h4.6v4.6h-4.6zM429.6,290.0h4.6v4.6h-4.6zM432.1,290.3h4.6v4.6h-4.6zM434.7,290.7h4.6v4.6h-4.6zM437.2,290.7h4.6v4.6h-4.6zM439.8,290.2h4.6v4.6h-4.6zM442.3,289.9h4.6v4.6h-4.6zM444.8,289.4h4.6v4.6h-4.6zM447.4,289.5h4.6v4.6h-4.6zM449.9,289.8h4.6v4.6h-4.6zM452.5,289.8h4.6v4.6h-4.6zM455.0,289.8h4.6v4.6h-4.6zM457.5,289.9h4.6v4.6h-4.6zM460.1,290.0h4.6v4.6h-4.6zM462.6,289.9h4.6v4.6h-4.6zM465.2,289.4h4.6v4.6h-4.6zM467.7,289.7h4.6v4.6h-4.6zM470.2,290.1h4.6v4.6h-4.6zM472.8,290.4h4.6v4.6h-4.6zM475.3,290.0h4.6v4.6h-4.6zM477.9,290.0h4.6v4.6h-4.6zM480.4,290.1h4.6v4.6h-4.6zM482.9,290.0h4.6v4.6h-4.6zM485.5,289.8h4.6v4.6h-4.6zM488.0,289.5h4.6v4.6h-4.6zM490.6,289.4h4.6v4.6h-4.6zM493.1,289.4h4.6v4.6h-4.6z" stroke="#000" stroke-width="1.80"/>
<path d="M86.7,317.9h4.6v4.6h-4.6zM89.2,317.8h4.6v4.6h-4.6zM91.8,318.3h4.6v4.6h-4.6zM94.3,319.3h4.6v4.6h-4.6zM96.9,319.8h4.6v4.6h-4.6zM99.4,320.2h4.6v4.6h-4.6zM101.9,320.0h4.6v4.6h-4.6zM104.5,320.5h4.6v4.6h-4.6zM107.0,320.5h4.6v4.6h-4.6zM109.6,321.1h4.6v4.6h-4.6zM112.1,321.6h4.6v4.6h-4.6zM114.6,322.6h4.6v4.6h-4.6zM117.2,322.7h4.6v4.6h-4.6zM119.7,322.9h4.6v4.6h-4.6zM122.3,322.7h4.6v4.6h-4.6zM124.8,323.3h4.6v4.6h-4.6zM127.3,324.1h4.6v4.6h-4.6zM129.9,324.3h4.6v4.6h-4.6zM132.4,323.7h4.6v4.6h-4.6zM135.0,322.3h4.6v4.6h-4.6zM137.5,321.7h4.6v4.6h-4.6zM140.0,321.2h4.6v4.6h-4.6zM142.6,320.7h4.6v4.6h-4.6zM145.1,319.9h4.6v4.6h-4.6zM147.7,319.4h4.6v4.6h-4.6zM150.2,318.9h4.6v4.6h-4.6zM152.7,318.4h4.6v4.6h-4.6zM155.3,317.5h4.6v4.6h-4.6zM157.8,317.0h4.6v4.6h-4.6zM160.4,316.6h4.6v4.6h-4.6zM162.9,316.3h4.6v4.6h-4.6zM165.4,315.7h4.6v4.6h-4.6zM168.0,315.6h4.6v4.6h-4.6zM170.5,315.4h4.6v4.6h-4.6zM173.1,315.6h4.6v4.6h-4.6zM175.6,315.1h4.6v4.6h-4.6zM178.1,315.0h4.6v4.6h-4.6zM180.7,314.5h4.6v4.6h-4.6zM183.2,314.4h4.6v4.6h-4.6zM185.8,314.0h4.6v4.6h-4.6zM188.3,314.1h4.6v4.6h-4.6zM190.8,314.2h4.6v4.6h-4.6zM193.4,314.1h4.6v4.6h-4.6zM195.9,314.0h4.6v4.6h-4.6zM198.5,313.6h4.6v4.6h-4.6zM201.0,313.7h4.6v4.6h-4.6zM203.5,313.8h4.6v4.6h-4.6zM206.1,313.9h4.6v4.6h-4.6zM208.6,313.5h4.6v4.6h-4.6zM211.2,313.6h4.6v4.6h-4.6zM213.7,313.5h4.6v4.6h-4.6zM216.2,313.9h4.6v4.6h-4.6zM218.8,313.6h4.6v4.6h-4.6zM221.3,314.2h4.6v4.6h-4.6zM223.9,314.4h4.6v4.6h-4.6zM226.4,315.3h4.6v4.6h-4.6zM228.9,315.2h4.6v4.6h-4.6zM231.5,315.7h4.6v4.6h-4.6zM234.0,315.9h4.6v4.6h-4.6zM236.6,316.7h4.6v4.6h-4.6zM239.1,317.5h4.6v4.6h-4.6zM241.6,317.5h4.6v4.6h-4.6zM244.2,317.3h4.6v4.6h-4.6zM246.7,317.3h4.6v4.6h-4.6zM249.3,317.5h4.6v4.6h-4.6zM251.8,317.6h4.6v4.6h-4.6zM254.3,317.6h4.6v4.6h-4.6zM256.9,317.4h4.6v4.6h-4.6zM259.4,317.8h4.6v4.6h-4.6zM262.0,318.2h4.6v4.6h-4.6zM264.5,318.7h4.6v4.6h-4.6zM267.0,318.1h4.6v4.6h-4.6zM269.6,317.9h4.6v4.6h-4.6zM272.1,318.2h4.6v4.6h-4.6zM274.7,318.4h4.6v4.6h-4.6zM277.2,318.1h4.6v4.6h-4.6zM279.7,317.7h4.6v4.6h-4.6zM282.3,317.7h4.6v4.6h-4.6zM284.8,317.8h4.6v4.6h-4.6zM287.4,318.0h4.6v4.6h-4.6zM289.9,318.3h4.6v4.6h-4.6zM292.4,318.2h4.6v4.6h-4.6zM295.0,318.4h4.6v4.6h-4.6zM297.5,318.2h4.6v4.6h-4.6zM300.1,318.0h4.6v4.6h-4.6zM302.6,317.7h4.6v4.6h-4.6zM305.1,317.2h4.6v4.6h-4.6zM307.7,317.5h4.6v4.6h-4.6zM310.2,317.3h4.6v4.6h-4.6zM312.8,317.5h4.6v4.6h-4.6zM315.3,317.9h4.6v4.6h-4.6zM317.8,318.0h4.6v4.6h-4.6zM320.4,318.2h4.6v4.6h-4.6zM322.9,317.9h4.6v4.6h-4.6zM325.5,317.5h4.6v4.6h-4.6zM328.0,317.3h4.6v4.6h-4.6zM330.5,317.1h4.6v4.6h-4.6zM333.1,317.6h4.6v4.6h-4.6zM335.6,317.5h4.6v4.6h-4.6zM338.2,317.2h4.6v4.6h-4.6zM340.7,317.1h4.6v4.6h-4.6zM343.2,317.3h4.6v4.6h-4.6zM345.8,317.6h4.6v4.6h-4.6zM348.3,317.6h4.6v4.6h-4.6zM350.9,317.2h4.6v4.6h-4.6zM353.4,317.1h4.6v4.6h-4.6zM355.9,317.2h4.6v4.6h-4.6zM358.5,317.6h4.6v4.6h-4.6zM361.0,317.9h4.6v4.6h-4.6zM363.6,317.6h4.6v4.6h-4.6zM366.1,317.3h4.6v4.6h-4.6zM368.6,317.1h4.6v4.6h-4.6zM371.2,317.2h4.6v4.6h-4.6zM373.7,317.4h4.6v4.6h-4.6zM376.3,317.6h4.6v4.6h-4.6zM378.8,317.6h4.6v4.6h-4.6zM381.3,317.8h4.6v4.6h-4.6zM383.9,318.2h4.6v4.6h-4.6zM386.4,318.6h4.6v4.6h-4.6zM389.0,318.8h4.6v4.6h-4.6zM391.5,318.6h4.6v4.6h-4.6zM394.0,318.6h4.6v4.6h-4.6zM396.6,318.4h4.6v4.6h-4.6zM399.1,318.3h4.6v4.6h-4.6zM401.7,318.6h4.6v4.6h-4.6zM404.2,318.9h4.6v4.6h-4.6zM406.7,318.7h4.6v4.6h-4.6zM409.3,318.3h4.6v4.6h-4.6zM411.8,318.0h4.6v4.6h-4.6zM414.4,317.9h4.6v4.6h-4.6zM416.9,317.9h4.6v4.6h-4.6zM419.4,318.0h4.6v4.6h-4.6zM422.0,318.7h4.6v4.6h-4.6zM424.5,318.6h4.6v4.6h-4.6zM427.1,318.9h4.6v4.6h-4.6zM429.6,318.4h4.6v4.6h-4.6zM432.1,318.4h4.6v4.6h-4.6zM434.7,317.8h4.6v4.6h-4.6zM437.2,317.7h4.6v4.6h-4.6zM439.8,318.0h4.6v4.6h-4.6zM442.3,318.4h4.6v4.6h-4.6zM444.8,318.8h4.6v4.6h-4.6zM447.4,318.8h4.6v4.6h-4.6zM449.9,318.7h4.6v4.6h-4.6zM452.5,318.5h4.6v4.6h-4.6zM455.0,318.4h4.6v4.6h-4.6zM457.5,318.1h4.6v4.6h-4.6zM460.1,318.0h4.6v4.6h-4.6zM462.6,318.0h4.6v4.6h-4.6zM465.2,318.2h4.6v4.6h-4.6zM467.7,318.0h4.6v4.6h-4.6zM470.2,317.9h4.6v4.6h-4.6zM472.8,317.4h4.6v4.6h-4.6zM475.3,317.1h4.6v4.6h-4.6zM477.9,317.5h4.6v4.6h-4.6zM480.4,317.7h4.6v4.6h-4.6zM482.9,318.0h4.6v4.6h-4.6zM485.5,317.5h4.6v4.6h-4.6zM488.0,317.4h4.6v4.6h-4.6zM490.6,317.1h4.6v4.6h-4.6zM493.1,316.8h4.6v4.6h-4.6z" stroke="#000" stroke-width="1.80"/>
<rect x="200.5" y="34.5" width="5" height="5" stroke="#000" stroke-width="1.6" fill="#fff"/>
<rect x="220.2" y="99.5" width="5" height="5" stroke="#000" stroke-width="1.6" fill="#fff"/>
<rect x="221.5" y="150.5" width="5" height="5" stroke="#000" stroke-width="1.6" fill="#fff"/>
<path d="M89.0,72.5C99.3,72.3 109.7,72.2 120.0,72.0C130.0,71.8 140.0,71.8 150.0,71.5C154.6,71.4 159.2,71.0 163.8,70.4C168.4,69.8 173.1,68.6 177.7,66.9C180.8,65.8 183.8,63.6 186.9,61.2C189.2,59.4 191.5,56.9 193.8,54.2C195.7,51.9 197.7,48.5 199.6,46.2C200.8,44.8 201.9,42.5 203.1,42.5C204.2,42.5 205.4,47.4 206.5,50.8C207.7,54.3 208.8,60.0 210.0,64.6C211.2,69.2 212.3,74.0 213.5,78.5C214.6,82.9 215.8,88.5 216.9,91.2C217.8,93.2 218.6,95.8 219.5,95.8C220.9,95.8 222.4,92.0 223.8,90.0C225.7,87.3 227.7,83.7 229.6,81.9C232.3,79.3 235.0,77.2 237.7,76.2C241.5,74.8 245.4,73.6 249.2,73.4C256.1,73.0 263.1,72.7 270.0,72.7C278.7,72.7 287.3,72.9 296.0,73.0C307.0,73.1 318.0,73.5 329.0,73.5C384.7,73.7 440.3,73.8 496.0,73.8" stroke="#e81018" stroke-width="3.1"/>
<path d="M89.0,118.5C109.3,118.4 129.7,118.2 150.0,118.1C154.6,118.1 159.2,118.1 163.8,118.0C167.7,117.9 171.5,116.9 175.4,115.8C178.5,114.9 181.5,113.3 184.6,111.2C186.9,109.6 189.2,106.3 191.5,103.6C193.8,100.9 196.2,96.8 198.5,95.0C200.7,93.3 203.0,91.3 205.2,91.3C206.4,91.3 207.6,93.9 208.8,96.2C210.0,98.5 211.1,103.2 212.3,107.7C213.5,112.2 214.6,118.3 215.8,123.8C216.9,129.1 218.1,136.6 219.2,140.0C220.4,143.5 221.5,147.5 222.7,147.5C224.2,147.5 225.8,143.9 227.3,141.9C229.2,139.4 231.2,136.1 233.1,133.8C235.0,131.6 236.9,129.5 238.8,128.1C240.7,126.6 242.7,125.3 244.6,124.6C246.9,123.8 249.2,123.3 251.5,122.9C254.6,122.4 257.7,122.0 260.8,121.7C263.9,121.4 266.9,121.1 270.0,121.0C278.7,120.6 287.3,120.3 296.0,120.2C310.7,120.1 325.3,120.1 340.0,120.0C358.3,119.9 376.7,119.5 395.0,119.5C428.7,119.5 462.3,119.5 496.0,119.5" stroke="#e81018" stroke-width="3.1"/>
<path d="M89.0,173.8C101.8,173.7 114.7,173.6 127.5,173.5C135.0,173.4 142.5,173.4 150.0,173.2C154.6,173.1 159.2,173.0 163.8,172.7C168.4,172.4 173.1,171.6 177.7,170.4C180.8,169.6 183.8,168.0 186.9,165.8C189.2,164.2 191.5,160.7 193.8,157.7C196.1,154.6 198.5,149.5 200.8,147.3C202.6,145.6 204.5,143.4 206.3,143.4C207.5,143.4 208.8,146.1 210.0,148.5C211.2,150.8 212.3,155.5 213.5,160.0C214.6,164.4 215.8,171.3 216.9,176.2C218.1,181.2 219.2,186.7 220.4,190.0C221.5,193.2 222.7,197.6 223.8,197.6C225.4,197.6 226.9,196.0 228.5,194.6C230.0,193.2 231.6,189.6 233.1,187.7C235.4,184.9 237.7,182.4 240.0,180.8C243.1,178.7 246.1,177.0 249.2,176.2C253.1,175.2 256.9,174.6 260.8,174.3C263.9,174.1 266.9,173.9 270.0,173.8C278.7,173.4 287.3,173.3 296.0,173.0C312.7,172.4 329.3,170.8 346.0,170.8C358.8,170.8 371.7,176.0 384.5,176.0C396.3,176.0 408.2,173.0 420.0,173.0C445.3,173.0 470.7,173.0 496.0,173.5" stroke="#e81018" stroke-width="3.1"/>
<path d="M89.0,206.3C101.8,206.6 114.7,206.6 127.5,206.6C135.0,206.6 142.5,206.3 150.0,206.0C156.7,205.7 163.3,205.4 170.0,204.6C173.1,204.2 176.1,203.3 179.2,202.3C182.3,201.3 185.4,199.7 188.5,197.7C191.1,196.0 193.6,193.3 196.2,190.8C198.2,188.9 200.3,185.8 202.3,184.6C203.8,183.7 205.4,182.6 206.9,182.6C208.2,182.6 209.5,183.5 210.8,184.6C211.8,185.4 212.8,187.8 213.8,190.0C214.8,192.3 215.9,195.9 216.9,199.2C217.9,202.5 219.0,206.7 220.0,210.0C221.0,213.3 222.1,217.4 223.1,219.2C224.6,221.9 226.2,224.6 227.7,224.6C229.0,224.6 230.2,223.8 231.5,223.1C233.1,222.2 234.6,219.1 236.2,217.7C238.2,215.8 240.3,214.1 242.3,213.1C244.9,211.8 247.4,210.9 250.0,210.3C254.0,209.4 258.0,208.6 262.0,208.3C272.4,207.5 282.9,207.4 293.3,207.0C301.9,206.7 310.6,206.4 319.2,206.0C326.1,205.6 333.1,204.5 340.0,204.5C349.2,204.5 358.5,204.8 367.7,205.2C376.5,205.6 385.2,210.4 394.0,210.4C406.2,210.4 418.4,206.5 430.6,206.5C452.4,206.5 474.2,206.5 496.0,206.5" stroke="#e81018" stroke-width="3.1"/>
<path d="M89.0,240.0C101.8,240.0 114.7,239.9 127.5,239.8C141.7,239.7 155.8,239.6 170.0,239.2C174.1,239.1 178.2,238.5 182.3,237.7C185.9,237.0 189.5,235.0 193.1,233.1C195.7,231.7 198.2,228.9 200.8,227.7C203.6,226.3 206.4,224.6 209.2,224.6C211.0,224.6 212.8,226.3 214.6,227.7C216.7,229.4 218.7,233.5 220.8,236.2C222.8,238.9 224.9,242.0 226.9,243.8C228.4,245.1 230.0,246.9 231.5,246.9C234.1,246.9 236.6,246.0 239.2,245.4C242.8,244.6 246.4,242.9 250.0,242.3C255.5,241.4 261.0,240.9 266.5,240.6C275.4,240.1 284.4,239.8 293.3,239.5C301.9,239.2 310.6,238.7 319.2,238.6C330.7,238.4 342.2,238.3 353.7,238.3C360.7,238.3 367.6,239.0 374.6,239.6C382.3,240.3 390.0,243.5 397.7,243.5C403.9,243.5 410.0,240.2 416.2,239.6C425.4,238.7 434.6,238.0 443.8,238.0C461.2,238.0 478.6,238.0 496.0,238.8" stroke="#e81018" stroke-width="3.1"/>
<path d="M89.0,267.0C94.0,268.1 99.0,269.1 104.0,270.0C113.2,271.7 122.3,274.5 131.5,274.5C138.2,274.5 144.8,270.1 151.5,268.8C159.8,267.1 168.2,266.1 176.5,265.0C185.7,263.8 194.8,262.0 204.0,262.0C209.0,262.0 214.0,262.4 219.0,262.8C224.8,263.3 230.7,268.5 236.5,268.5C247.3,268.5 258.2,268.2 269.0,268.0C295.7,267.6 322.3,267.0 349.0,267.0C358.3,267.0 367.7,267.0 377.0,267.0C385.6,267.0 394.1,270.2 402.7,270.2C413.1,270.2 423.4,267.7 433.8,267.5C454.5,267.2 475.3,267.0 496.0,267.0" stroke="#e81018" stroke-width="3.1"/>
<path d="M89.0,291.2C94.0,292.4 99.0,293.5 104.0,294.5C113.2,296.3 122.3,299.5 131.5,299.5C138.2,299.5 144.8,295.1 151.5,293.8C159.8,292.1 168.2,291.1 176.5,290.0C186.5,288.6 196.5,286.2 206.5,286.2C210.7,286.2 214.8,286.9 219.0,287.5C224.8,288.4 230.7,294.2 236.5,294.2C247.3,294.2 258.2,294.0 269.0,293.8C281.5,293.6 294.0,292.9 306.5,292.5C320.7,292.1 334.8,291.3 349.0,291.3C358.3,291.3 367.7,291.8 377.0,292.4C383.7,292.8 390.3,295.6 397.0,295.6C405.5,295.6 414.0,293.3 422.5,293.0C447.0,292.2 471.5,291.8 496.0,291.8" stroke="#e81018" stroke-width="3.1"/>
<path d="M89.0,320.5C94.0,321.2 99.0,321.8 104.0,322.5C113.2,323.7 122.3,326.2 131.5,326.2C138.2,326.2 144.8,322.5 151.5,321.2C159.8,319.7 168.2,318.1 176.5,317.5C184.8,316.9 193.2,316.2 201.5,316.2C207.3,316.2 213.2,316.4 219.0,316.5C227.3,316.7 235.7,319.0 244.0,319.5C252.3,320.0 260.7,320.4 269.0,320.4C281.5,320.4 294.0,320.2 306.5,320.0C320.7,319.8 334.8,319.4 349.0,319.4C366.0,319.4 382.9,320.6 399.9,320.6C431.9,320.6 464.0,320.5 496.0,319.3" stroke="#e81018" stroke-width="3.1"/>
</g>
<rect x="89.6" y="11.4" width="406.6" height="327.6" fill="none" stroke="#000" stroke-width="2.2"/>
<g font-family='"Liberation Sans", Arial, sans-serif' fill="#000" stroke="#000" stroke-width="0.90">
<g font-size="24.0">
<text x="89.6" y="366.0" text-anchor="middle">3.0</text>
<text x="191.2" y="366.0" text-anchor="middle">3.5</text>
<text x="292.9" y="366.0" text-anchor="middle">4.0</text>
<text x="394.6" y="366.0" text-anchor="middle">4.5</text>
<text x="496.2" y="366.0" text-anchor="middle">5.0</text>
<text x="81.5" y="329.9" text-anchor="end">-0.2</text>
<text x="81.5" y="267.5" text-anchor="end">0.0</text>
<text x="81.5" y="205.1" text-anchor="end">0.2</text>
<text x="81.5" y="142.6" text-anchor="end">0.4</text>
<text x="81.5" y="80.2" text-anchor="end">0.6</text>
<text x="81.5" y="17.7" text-anchor="end">0.8</text>
</g>
<text x="194.6" y="399.8" font-size="24.5" textLength="195.8" lengthAdjust="spacingAndGlyphs">Frequency (GHz)</text>
<text transform="translate(17.4,219.3) rotate(-90)" font-size="25">V<tspan font-size="16" dy="12.0">mix</tspan><tspan dy="-10.5"> (mV)</tspan></text>
<text x="99.0" y="38.0" font-size="25">(a)</text>
<text x="272.3" y="33.2" font-size="17.7" word-spacing="1.0">MR = 73%</text>
<g font-size="17.7" text-anchor="end" word-spacing="1.6">
<text x="491.5" y="60.6">467 mV</text>
<text x="491.5" y="110.6">411 mV</text>
<text x="491.5" y="163.6">352 mV</text>
<text x="491.5" y="199.1">289 mV</text>
<text x="491.5" y="231.4">223 mV</text>
<text x="491.5" y="261.3">153 mV</text>
<text x="491.5" y="287.5">80 mV</text>
<text x="491.5" y="313.6">0 mV</text>
</g>
</g>
</g>
<g id="p1">
<path d="M97.0,748.8v-6.5 M198.5,748.8v-6.5 M300.0,748.8v-6.5 M401.5,748.8v-6.5 M503.0,748.8v-6.5 M147.8,748.8v-3.8 M249.2,748.8v-3.8 M350.8,748.8v-3.8 M452.2,748.8v-3.8 M97.0,723.9h6.5 M97.0,673.5h6.5 M97.0,623.2h6.5 M97.0,572.9h6.5 M97.0,522.5h6.5 M97.0,472.1h6.5 M97.0,421.8h6.5 M97.0,698.7h3.8 M97.0,648.4h3.8 M97.0,598.0h3.8 M97.0,547.7h3.8 M97.0,497.3h3.8 M97.0,447.0h3.8" stroke="#000" stroke-width="1.8" fill="none"/>
<clipPath id="c1"><rect x="97.0" y="421.2" width="406.0" height="327.6"/></clipPath>
<g clip-path="url(#c1)" fill="none" stroke-linejoin="round" stroke-linecap="butt">
<path d="M97.0,471.0l1.2,0 1.2,0 1.2,0 1.2,0 1.2,0 1.2,-0.1 1.2,0 1.2,0 1.2,0 1.2,0 1.2,-0.1 1.2,0 1.2,0 1.2,-0.1 1.2,0 1.2,0 1.2,-0.1 1.2,0 1.2,0 1.2,-0.1 1.2,0 1.2,0 1.2,-0.1 1.2,0 1.2,-0.1 1.2,0 1.2,-0.1 1.2,0 1.2,-0.1 1.2,-0.1 1.2,-0.1 1.2,0 1.2,-0.1 1.2,-0.1 1.2,-0.1 1.2,-0.1 1.2,-0.1 1.2,-0.2 1.2,-0.1 1.2,-0.1 1.2,-0.1 1.2,-0.2 1.2,-0.1 1.2,-0.2 1.2,-0.1 1.2,-0.2 1.2,-0.2 1.2,-0.1 1.2,-0.3 1.2,-0.3 1.2,-0.3 1.2,-0.3 1.2,-0.4 1.2,-0.4 1.2,-0.5 1.2,-0.5M227.9,476.4l1.2,-0.5 1.2,-0.5 1.2,-0.4 1.2,-0.3 1.2,-0.3 1.2,-0.3 1.2,-0.3 1.2,-0.2 1.2,-0.2 1.2,-0.2 1.2,-0.1 1.2,-0.2 1.2,-0.1 1.2,-0.1 1.2,-0.2 1.2,-0.1 1.2,-0.1 1.2,-0.1 1.2,-0.2 1.2,-0.2 1.2,-0.1 1.2,-0.2 1.2,-0.2 1.2,-0.2 1.2,-0.1 1.2,-0.1 1.2,0 1.2,-0.1 1.2,-0.1 1.2,0 1.2,0 1.2,-0.1 1.2,0 1.2,-0.1 1.2,0 1.2,0 1.2,0 1.2,-0.1 1.2,0 1.2,0 1.2,0 1.2,0 1.2,0 1.2,0 1.2,0 1.2,0.1 1.2,0 1.2,0 1.2,0.1 1.2,0 1.2,0 1.2,0.1 1.2,0 1.2,0 1.2,0.1 1.2,0 1.2,0 1.2,0 1.2,0 1.2,0 1.2,0 1.2,-0.1 1.2,0 1.2,-0.1 1.2,-0.1 1.2,0 1.2,-0.1 1.2,-0.1 1.2,-0.1 1.2,-0.1 1.2,-0.1 1.2,-0.2 1.2,-0.1 1.2,-0.1 1.2,-0.2 1.2,-0.1 1.2,-0.1 1.2,-0.3 1.2,-0.3 1.2,-0.3 1.2,-0.4 1.2,-0.4 1.2,-0.5 1.2,-0.4 1.2,-0.4 1.2,-0.3 1.2,-0.3 1.2,-0.3 1.2,-0.2 1.2,-0.3 1.2,-0.2 1.2,-0.2 1.2,-0.2 1.2,-0.2 1.2,-0.1 1.2,0 1.2,0.2M377.9,473.3l1.2,-0.4 1.2,-0.5 1.2,-0.4 1.2,-0.3 1.2,-0.3 1.2,-0.3 1.2,-0.1 1.2,-0.2 1.2,-0.1 1.2,-0.1 1.2,-0.1 1.2,0 1.2,-0.1 1.2,-0.1 1.2,0 1.2,-0.1 1.2,0 1.2,0 1.2,0 1.2,0 1.3,0 1.2,0 1.2,0 1.2,0 1.2,0.1 1.2,0 1.2,0 1.2,0 1.2,0 1.2,0 1.2,0.1 1.2,0 1.2,0 1.2,0 1.2,0 1.2,0 1.2,0.1 1.2,0 1.2,0 1.2,0 1.2,0 1.2,0 1.2,0 1.2,0 1.2,0 1.2,0 1.2,0 1.2,0 1.2,0 1.2,0 1.2,0 1.2,0 1.2,0 1.2,0 1.2,0 1.2,0 1.2,0 1.2,0 1.2,0 1.2,0 1.2,0 1.2,0 1.2,0 1.2,0 1.2,0 1.2,0 1.2,0 1.2,0 1.2,0 1.2,0 1.2,0 1.2,0 1.2,0 1.2,0 1.2,0 1.2,0 1.2,0 1.2,-0.1 1.2,0 1.2,0 1.2,0 1.2,0 1.2,0 1.2,0 1.2,0 1.2,0 1.2,0 1.2,0 1.2,0 1.2,0 1.2,0 1.2,0 1.2,-0.1 1.2,0 1.2,0 1.2,0 1.2,0 1.2,0 1.2,0 1.2,0 1.2,0 1.2,-0.1 1.2,0 1.2,0 1.2,0" stroke="#000" stroke-width="9.0" stroke-linecap="round"/>
<path d="M97.0,526.2l1.2,0 1.2,0 1.2,0 1.2,0 1.2,0 1.2,0 1.2,0 1.2,0 1.2,0 1.2,0 1.2,-0.1 1.2,0 1.2,0 1.2,0 1.2,0 1.2,0 1.2,0 1.2,0 1.2,0 1.2,-0.1 1.2,0 1.2,0 1.2,0 1.2,0 1.2,0 1.2,-0.1 1.2,0 1.2,0 1.2,-0.1 1.2,0 1.2,-0.1 1.2,0 1.2,-0.1 1.2,0 1.2,-0.1 1.2,-0.1 1.2,0 1.2,-0.1 1.2,-0.1 1.2,-0.1 1.2,-0.1 1.2,-0.1 1.2,-0.1 1.2,-0.1 1.2,-0.1 1.2,-0.2 1.2,-0.1 1.2,-0.2 1.2,-0.2 1.2,-0.2 1.2,-0.2 1.2,-0.2 1.2,-0.2 1.2,-0.3 1.2,-0.3 1.2,-0.3 1.2,-0.4 1.2,-0.4 1.2,-0.5 1.2,-0.5M227.9,531.4l1.2,-0.5 1.2,-0.5 1.2,-0.5 1.2,-0.4 1.2,-0.3 1.2,-0.4 1.2,-0.2 1.2,-0.3 1.2,-0.3 1.2,-0.2 1.2,-0.2 1.2,-0.2 1.2,-0.2 1.2,-0.2 1.2,-0.2 1.2,-0.1 1.2,-0.2 1.2,-0.1 1.2,0 1.2,-0.1 1.2,-0.1 1.2,-0.1 1.2,0 1.2,-0.1 1.2,0 1.2,-0.1 1.2,0 1.2,0 1.2,-0.1 1.2,0 1.2,-0.1 1.2,0 1.2,-0.1 1.2,0 1.2,0 1.2,-0.1 1.2,0 1.2,-0.1 1.2,0 1.2,0 1.2,-0.1 1.2,0 1.2,-0.1 1.2,0 1.2,0 1.2,-0.1 1.2,0 1.2,0 1.2,-0.1 1.2,0 1.2,-0.1 1.2,0 1.2,0 1.2,-0.1 1.2,0 1.2,-0.1 1.2,0 1.2,-0.1 1.2,0 1.2,-0.1 1.2,-0.1 1.2,0 1.2,-0.1 1.2,0 1.2,-0.1 1.2,-0.1 1.2,0 1.2,-0.1 1.2,-0.1 1.2,-0.1 1.2,-0.1 1.2,-0.1 1.2,-0.1 1.2,-0.1 1.2,-0.1 1.2,-0.1 1.2,-0.1 1.2,-0.2 1.2,-0.2 1.2,-0.3 1.2,-0.3 1.2,-0.3 1.2,-0.4 1.2,-0.3 1.2,-0.4 1.2,-0.4 1.2,-0.3 1.2,-0.4 1.2,-0.3 1.2,-0.4 1.2,-0.4 1.2,-0.4 1.2,-0.4 1.2,-0.5 1.2,-0.5 1.2,-0.5 1.2,-0.5 1.2,-0.3 1.2,0 1.2,0.2 1.2,0.5M380.3,527.4l1.2,-0.6 1.2,-0.4 1.2,-0.4 1.2,-0.4 1.2,-0.2 1.2,-0.2 1.2,-0.3 1.2,-0.2 1.2,-0.2 1.2,-0.1 1.2,-0.2 1.2,-0.1 1.2,-0.1 1.2,-0.1 1.2,-0.1 1.2,0 1.2,0 1.2,0 1.3,0 1.2,0 1.2,0 1.2,0 1.2,0 1.2,0 1.2,0 1.2,0 1.2,0 1.2,0 1.2,0 1.2,0 1.2,0 1.2,0 1.2,0 1.2,0 1.2,0 1.2,0 1.2,0 1.2,0 1.2,0 1.2,0 1.2,0 1.2,0 1.2,0 1.2,0 1.2,0 1.2,0 1.2,0 1.2,0 1.2,0 1.2,0 1.2,0 1.2,0 1.2,0 1.2,0 1.2,0 1.2,0 1.2,0 1.2,0 1.2,0 1.2,0 1.2,0 1.2,0 1.2,0 1.2,0 1.2,0 1.2,0 1.2,0 1.2,0 1.2,0 1.2,0 1.2,0.1 1.2,0 1.2,0 1.2,0 1.2,0 1.2,0 1.2,0 1.2,0 1.2,0 1.2,0 1.2,0 1.2,0 1.2,0 1.2,0 1.2,0 1.2,0 1.2,0 1.2,0 1.2,0 1.2,0 1.2,0 1.2,0 1.2,0 1.2,0 1.2,0 1.2,0.1 1.2,0 1.2,0 1.2,0 1.2,0 1.2,0 1.2,0 1.2,0" stroke="#000" stroke-width="8.8" stroke-linecap="round"/>
<path d="M97.0,579.0l1.2,0 1.2,0 1.2,0 1.2,0 1.2,0 1.2,0 1.2,0 1.2,0 1.2,0 1.2,0 1.2,0 1.2,0 1.2,0 1.2,0 1.2,0 1.2,0 1.2,0 1.2,0 1.2,0 1.2,0 1.2,0 1.2,-0.1 1.2,0 1.2,0 1.2,0 1.2,0 1.2,0 1.2,0 1.2,0 1.2,0 1.2,0 1.2,0 1.2,0 1.2,0 1.2,0 1.2,-0.1 1.2,0 1.2,0 1.2,0 1.2,0 1.2,0 1.2,0 1.2,0 1.2,0 1.2,-0.1 1.2,0 1.2,-0.2 1.2,-0.1 1.2,-0.2 1.2,-0.2 1.2,-0.3 1.2,-0.3 1.2,-0.3 1.2,-0.4 1.2,-0.3 1.2,-0.4 1.2,-0.5 1.2,-0.4 1.2,-0.5 1.2,-0.5 1.2,-0.5M193.0,550.1l1.2,0M215.9,597.5l1.2,-0.4M235.1,584.1l1.2,-0.6 1.2,-0.4 1.2,-0.4 1.2,-0.4 1.2,-0.2 1.2,-0.3 1.2,-0.2 1.2,-0.3 1.2,-0.2 1.2,-0.2 1.2,-0.2 1.2,-0.2 1.2,-0.2 1.2,-0.2 1.2,-0.1 1.2,-0.2 1.2,-0.1 1.2,-0.2 1.2,-0.1 1.2,-0.1 1.2,-0.2 1.2,-0.1 1.2,-0.1 1.2,-0.1 1.2,-0.1 1.2,0 1.2,-0.1 1.2,-0.1 1.2,-0.1 1.2,0 1.2,-0.1 1.2,-0.1 1.2,0 1.2,-0.1 1.2,0 1.2,-0.1 1.2,0 1.2,-0.1 1.2,0 1.2,-0.1 1.2,0 1.2,-0.1 1.2,0 1.2,-0.1 1.2,0 1.2,0 1.2,0 1.2,-0.1 1.2,0 1.2,0 1.2,0 1.2,0 1.2,0 1.2,0 1.2,0 1.2,0 1.2,0 1.2,0 1.2,0 1.2,0 1.2,0 1.2,0.1 1.2,0 1.2,0 1.2,0 1.2,0 1.2,0 1.2,0 1.2,0 1.2,0 1.2,0 1.2,-0.1 1.2,-0.1 1.2,-0.3 1.2,-0.2 1.2,-0.4 1.2,-0.3 1.2,-0.4 1.2,-0.3 1.2,-0.4 1.2,-0.3 1.2,-0.3 1.2,-0.4 1.2,-0.4 1.2,-0.5 1.2,-0.3 1.2,-0.3 1.2,-0.2 1.2,0 1.2,0.1 1.2,0.3 1.2,0.3 1.2,0.4 1.2,0.5 1.2,0.6M365.9,594.4l1.2,0.2M385.1,579.5l1.2,-0.3 1.2,-0.2 1.2,-0.2 1.2,-0.2 1.2,-0.2 1.2,-0.1 1.2,-0.1 1.2,-0.2 1.2,-0.1 1.2,0 1.2,-0.1 1.2,-0.1 1.2,0 1.2,-0.1 1.3,-0.1 1.2,0 1.2,-0.1 1.2,0 1.2,-0.1 1.2,0 1.2,-0.1 1.2,0 1.2,-0.1 1.2,0 1.2,0 1.2,-0.1 1.2,0 1.2,0 1.2,-0.1 1.2,0 1.2,0 1.2,0 1.2,-0.1 1.2,0 1.2,0 1.2,0 1.2,0 1.2,0 1.2,0 1.2,0 1.2,0 1.2,0 1.2,0 1.2,0 1.2,0 1.2,0 1.2,0 1.2,0 1.2,0 1.2,0 1.2,0 1.2,0 1.2,0 1.2,0 1.2,0 1.2,0 1.2,0 1.2,0 1.2,0 1.2,0 1.2,0.1 1.2,0 1.2,0 1.2,0 1.2,0 1.2,0 1.2,0 1.2,0 1.2,0 1.2,0 1.2,0 1.2,0.1 1.2,0 1.2,0 1.2,0 1.2,0 1.2,0 1.2,0.1 1.2,0 1.2,0 1.2,0 1.2,0 1.2,0.1 1.2,0 1.2,0 1.2,0 1.2,0.1 1.2,0 1.2,0 1.2,0.1 1.2,0 1.2,0 1.2,0.1 1.2,0 1.2,0 1.2,0.1 1.2,0 1.2,0.1 1.2,0" stroke="#000" stroke-width="8.6" stroke-linecap="round"/>
<path d="M97.0,632.3l1.2,0 1.2,0 1.2,0 1.2,0 1.2,0 1.2,0 1.2,0 1.2,0 1.2,0 1.2,0 1.2,0 1.2,0 1.2,0 1.2,0 1.2,0 1.2,0 1.2,0 1.2,0 1.2,0 1.2,0 1.2,0 1.2,0 1.2,0 1.2,0 1.2,0 1.2,0 1.2,0 1.2,0 1.2,0 1.2,0 1.2,0 1.2,0 1.2,0 1.2,0 1.2,-0.1 1.2,0 1.2,0 1.2,0 1.2,0 1.2,-0.1 1.2,0 1.2,0 1.2,-0.1 1.2,0 1.2,0 1.2,-0.1 1.2,-0.1 1.2,-0.2 1.2,-0.1 1.2,-0.2 1.2,-0.3 1.2,-0.2 1.2,-0.2 1.2,-0.3 1.2,-0.3 1.2,-0.4 1.2,-0.4 1.2,-0.6M193.0,607.8l1.2,-0.4 1.2,-0.1 1.2,0.2M219.5,644.8l1.2,0.2 1.2,-0.2 1.2,-0.5M229.1,640.9l1.2,-0.5 1.2,-0.4 1.2,-0.5 1.2,-0.4 1.2,-0.4 1.2,-0.5 1.2,-0.4 1.2,-0.4 1.2,-0.3 1.2,-0.4 1.2,-0.4 1.2,-0.3 1.2,-0.3 1.2,-0.3 1.2,-0.3 1.2,-0.3 1.2,-0.2 1.2,-0.2 1.2,-0.2 1.2,-0.2 1.2,-0.2 1.2,-0.2 1.2,-0.2 1.2,-0.2 1.2,-0.1 1.2,-0.2 1.2,-0.2 1.2,-0.1 1.2,-0.2 1.2,-0.1 1.2,-0.1 1.2,-0.2 1.2,-0.1 1.2,-0.1 1.2,-0.1 1.2,-0.2 1.2,-0.1 1.2,-0.1 1.2,-0.1 1.2,-0.1 1.2,-0.1 1.2,-0.1 1.2,-0.1 1.2,-0.1 1.2,-0.1 1.2,-0.2 1.2,-0.1 1.2,-0.1 1.2,-0.1 1.2,0 1.2,-0.1 1.2,-0.1 1.2,-0.1 1.2,0 1.2,-0.1 1.2,0 1.2,-0.1 1.2,0 1.2,0 1.2,0 1.2,0 1.2,0 1.2,0 1.2,0 1.2,0 1.2,0 1.2,0 1.2,0 1.2,0 1.2,0 1.2,0 1.2,0 1.2,0 1.2,0 1.2,0 1.2,0 1.2,-0.2 1.2,-0.4M328.7,625.8l1.2,-0.5M334.7,622.7l1.2,-0.6 1.2,-0.3 1.2,-0.2 1.2,0 1.2,0.1 1.2,0.1 1.2,0.2 1.2,0.2M363.5,645.2l1.2,0.2 1.2,-0.2M382.7,633.1l1.2,-0.5 1.2,-0.4 1.2,-0.4 1.2,-0.3 1.2,-0.2 1.2,-0.2 1.2,-0.1 1.2,-0.2 1.2,-0.1 1.2,-0.1 1.2,-0.1 1.2,-0.1 1.2,-0.1 1.2,0 1.2,0 1.2,0 1.3,0 1.2,0 1.2,0 1.2,0.1 1.2,0 1.2,0 1.2,0 1.2,0.1 1.2,0 1.2,0 1.2,0.1 1.2,0 1.2,0 1.2,0 1.2,0.1 1.2,0 1.2,0 1.2,0 1.2,0.1 1.2,0 1.2,0 1.2,0 1.2,0 1.2,0 1.2,0 1.2,0 1.2,0 1.2,0 1.2,0 1.2,0 1.2,0 1.2,0 1.2,0 1.2,0 1.2,0 1.2,0 1.2,0 1.2,0 1.2,0 1.2,0 1.2,0 1.2,0 1.2,0 1.2,0 1.2,0 1.2,0 1.2,0 1.2,0 1.2,0 1.2,0 1.2,0 1.2,0 1.2,0 1.2,0 1.2,0 1.2,0 1.2,0 1.2,0 1.2,0 1.2,0 1.2,0 1.2,0 1.2,-0.1 1.2,0 1.2,0 1.2,0 1.2,0 1.2,0 1.2,0 1.2,0 1.2,0 1.2,0 1.2,0 1.2,0 1.2,0 1.2,0 1.2,0 1.2,0 1.2,0 1.2,-0.1 1.2,0 1.2,0 1.2,0 1.2,0 1.2,0" stroke="#000" stroke-width="8.0" stroke-linecap="round"/>
<path d="M97.0,658.7l1.2,0 1.2,0 1.2,0 1.2,0 1.2,0 1.2,0.1 1.2,0 1.2,0 1.2,0 1.2,0 1.2,0 1.2,0 1.2,0 1.2,0 1.2,0 1.2,0 1.2,0 1.2,0 1.2,0 1.2,0 1.2,0 1.2,0 1.2,0 1.2,0 1.2,0 1.2,0 1.2,0 1.2,0 1.2,0 1.2,0 1.2,0 1.2,0 1.2,0 1.2,0 1.2,-0.1 1.2,0 1.2,0 1.2,0 1.2,0 1.2,-0.1 1.2,0 1.2,0 1.2,-0.1 1.2,0 1.2,0 1.2,-0.1 1.2,-0.1 1.2,-0.1 1.2,-0.2 1.2,-0.1 1.2,-0.2 1.2,-0.2 1.2,-0.2 1.2,-0.2 1.2,-0.2 1.2,-0.2 1.2,-0.2 1.2,-0.2 1.2,-0.3 1.2,-0.3 1.2,-0.3 1.2,-0.3 1.2,-0.3 1.2,-0.4 1.2,-0.4 1.2,-0.4 1.2,-0.4 1.2,-0.5 1.2,-0.4 1.2,-0.5M194.2,644.4l1.2,-0.5 1.2,-0.3 1.2,-0.1 1.3,0.2 1.2,0.3 1.2,0.5M221.9,663.5l1.2,0.5 1.2,0.2 1.2,0.1 1.2,-0.1 1.2,-0.1 1.2,-0.1 1.2,-0.2 1.2,-0.3 1.2,-0.2 1.2,-0.2 1.2,-0.2 1.2,-0.2 1.2,-0.2 1.2,-0.1 1.2,-0.2 1.2,-0.1 1.2,-0.2 1.2,-0.1 1.2,-0.1 1.2,-0.1 1.2,-0.2 1.2,-0.1 1.2,-0.1 1.2,-0.1 1.2,-0.1 1.2,-0.2 1.2,-0.1 1.2,-0.1 1.2,-0.1 1.2,-0.1 1.2,-0.1 1.2,-0.1 1.2,-0.1 1.2,-0.1 1.2,-0.1 1.2,-0.1 1.2,-0.1 1.2,-0.2 1.2,-0.1 1.2,-0.1 1.2,-0.1 1.2,-0.1 1.2,-0.2 1.2,-0.1 1.2,-0.1 1.2,-0.1 1.2,-0.1 1.2,-0.1 1.2,-0.2 1.2,-0.1 1.2,-0.1 1.2,-0.1 1.2,-0.1 1.2,-0.1 1.2,0 1.2,-0.1 1.2,-0.1 1.2,-0.1 1.2,0 1.2,-0.1 1.2,0 1.2,-0.1 1.2,0 1.2,0 1.2,0 1.2,0 1.2,0 1.2,0.1 1.2,0 1.2,0.1 1.2,0.1 1.2,0 1.2,0.1 1.2,0 1.2,0.1 1.2,0 1.2,0 1.2,-0.1 1.2,-0.3 1.2,-0.3 1.2,-0.4 1.2,-0.4 1.2,-0.4 1.2,-0.3 1.2,-0.3 1.2,-0.4 1.2,-0.4 1.2,-0.4 1.2,-0.4 1.2,-0.4 1.2,-0.3 1.2,-0.4 1.2,-0.2 1.2,-0.2 1.2,-0.2 1.2,0 1.2,0 1.2,0.1 1.2,0.1 1.2,0.2 1.2,0.2 1.2,0.2 1.2,0.2 1.2,0.4M363.5,671.1l1.2,0.2 1.2,-0.1 1.2,-0.3 1.2,-0.4 1.2,-0.5 1.2,-0.6 1.2,-0.5 1.2,-0.5 1.2,-0.5 1.2,-0.5 1.2,-0.5 1.2,-0.6 1.2,-0.6 1.2,-0.5 1.2,-0.6 1.2,-0.5 1.2,-0.5 1.2,-0.5 1.2,-0.4 1.2,-0.4 1.2,-0.3 1.2,-0.2 1.2,-0.3 1.2,-0.3 1.2,-0.2 1.2,-0.3 1.2,-0.2 1.2,-0.2 1.2,-0.2 1.2,-0.2 1.2,-0.1 1.2,-0.1 1.3,-0.2 1.2,0 1.2,-0.1 1.2,-0.1 1.2,-0.1 1.2,0 1.2,-0.1 1.2,0 1.2,-0.1 1.2,0 1.2,-0.1 1.2,0 1.2,0 1.2,-0.1 1.2,0 1.2,0 1.2,0 1.2,-0.1 1.2,0 1.2,0 1.2,0 1.2,0 1.2,-0.1 1.2,0 1.2,0 1.2,0 1.2,0 1.2,-0.1 1.2,0 1.2,0 1.2,0 1.2,0 1.2,0 1.2,-0.1 1.2,0 1.2,0 1.2,0 1.2,0 1.2,0 1.2,-0.1 1.2,0 1.2,0 1.2,0 1.2,0 1.2,0 1.2,0 1.2,-0.1 1.2,0 1.2,0 1.2,0 1.2,0 1.2,0 1.2,0 1.2,0 1.2,0 1.2,-0.1 1.2,0 1.2,0 1.2,0 1.2,0 1.2,0 1.2,0 1.2,0 1.2,0 1.2,0 1.2,0 1.2,0 1.2,0 1.2,-0.1 1.2,0 1.2,0 1.2,0 1.2,0 1.2,0 1.2,0 1.2,0 1.2,0 1.2,0 1.2,0 1.2,0 1.2,0 1.2,0 1.2,0 1.2,0 1.2,0" stroke="#000" stroke-width="7.6" stroke-linecap="round"/>
<path d="M107.5,684.8l1.2,0.1 1.2,0.1 1.2,0.1 1.2,0.1 1.2,0.1 1.2,0.1 1.2,0.1 1.2,0.1 1.2,0 1.2,0.1 1.2,0 1.2,0.1 1.2,0 1.2,0.1 1.2,0 1.2,0.1 1.2,0 1.2,0 1.2,0.1 1.2,0 1.2,0 1.2,0 1.2,0 1.2,0.1 1.2,0 1.2,0 1.2,0 1.2,0 1.2,0 1.2,0 1.2,0 1.2,0 1.3,0 1.2,0 1.2,0 1.2,0 1.2,0 1.2,0 1.2,-0.1 1.2,0 1.2,-0.1 1.2,0 1.2,-0.1 1.2,-0.1 1.2,0 1.2,-0.1 1.2,-0.1 1.2,-0.1 1.2,-0.1 1.2,-0.1 1.2,-0.2 1.2,-0.1 1.2,-0.1 1.2,-0.2 1.2,-0.1 1.2,-0.1 1.2,-0.2 1.2,-0.2 1.2,-0.2 1.2,-0.2 1.2,-0.3 1.2,-0.4 1.2,-0.4 1.2,-0.4 1.2,-0.4 1.2,-0.4 1.2,-0.5 1.2,-0.4 1.2,-0.4 1.2,-0.4 1.2,-0.5 1.2,-0.5 1.2,-0.5 1.2,-0.5 1.2,-0.4 1.2,-0.3 1.2,-0.2 1.2,0 1.2,0.2 1.2,0.2 1.2,0.3 1.2,0.4 1.2,0.5 1.2,0.5 1.2,0.5 1.2,0.6 1.2,0.5 1.2,0.5 1.2,0.5 1.2,0.4 1.2,0.5 1.2,0.6 1.2,0.5 1.2,0.5 1.2,0.5 1.2,0.5 1.2,0.3 1.2,0.3 1.2,0.2 1.3,0.2 1.2,0.2 1.2,0.2 1.2,0.2 1.2,0.1 1.2,0.1 1.2,0.1 1.2,0 1.2,0 1.2,0 1.2,-0.1 1.2,0 1.2,-0.1 1.2,0 1.2,-0.1 1.2,-0.1 1.2,0 1.2,-0.1 1.2,-0.1 1.2,0 1.2,-0.1 1.2,0 1.2,-0.1 1.2,-0.1 1.2,0 1.2,-0.1 1.2,-0.1 1.2,0 1.2,-0.1 1.2,-0.1 1.2,0 1.2,-0.1 1.2,-0.1 1.2,0 1.2,-0.1 1.2,-0.1 1.2,0 1.2,-0.1 1.2,0 1.2,-0.1 1.2,0 1.2,-0.1 1.2,0 1.2,-0.1 1.2,0 1.2,0 1.2,-0.1 1.2,0 1.2,0 1.2,-0.1 1.2,0 1.2,0 1.2,-0.1 1.2,0 1.2,0 1.2,-0.1 1.2,0 1.2,-0.1 1.2,0 1.2,0 1.2,-0.1 1.2,0 1.2,-0.1 1.2,0 1.2,-0.1 1.3,-0.1 1.2,0 1.2,-0.1 1.2,0 1.2,-0.1 1.2,-0.1 1.2,-0.1 1.2,0 1.2,-0.1 1.2,-0.1 1.2,-0.1 1.2,-0.1 1.2,-0.2 1.2,-0.2 1.2,-0.3 1.2,-0.3 1.2,-0.4 1.2,-0.3 1.2,-0.4 1.2,-0.4 1.2,-0.3 1.2,-0.4 1.2,-0.3 1.2,-0.3 1.2,-0.3 1.2,-0.2 1.2,-0.2 1.2,-0.1 1.2,0 1.2,0.1 1.2,0.3 1.2,0.4 1.2,0.4 1.2,0.6M362.2,691.3l1.2,0.4 1.2,0.1 1.2,0 1.2,-0.2 1.2,-0.2 1.2,-0.2 1.2,-0.3 1.2,-0.3 1.2,-0.4 1.2,-0.3 1.2,-0.4 1.2,-0.3 1.2,-0.3 1.2,-0.2 1.2,-0.3 1.2,-0.2 1.2,-0.3 1.2,-0.3 1.2,-0.3 1.3,-0.2 1.2,-0.3 1.2,-0.3 1.2,-0.2 1.2,-0.2 1.2,-0.2 1.2,-0.2 1.2,-0.1 1.2,-0.1 1.2,-0.1 1.2,-0.1 1.2,0 1.2,0 1.2,-0.1 1.2,0 1.2,-0.1 1.2,0 1.2,0 1.2,-0.1 1.2,0 1.2,0 1.2,0 1.2,0 1.2,-0.1 1.2,0 1.2,0 1.2,0 1.2,0 1.2,0 1.2,0 1.2,0 1.2,0 1.2,0 1.2,0 1.2,0 1.2,0 1.2,0 1.2,0 1.2,0 1.2,0 1.2,0 1.2,0 1.2,0 1.2,0 1.2,0 1.2,0 1.2,0 1.2,0 1.2,0 1.2,0 1.2,0 1.2,0 1.2,0 1.2,0 1.2,0 1.2,0 1.2,0 1.2,0 1.2,0 1.2,0.1 1.2,0 1.2,0 1.2,0 1.2,0 1.2,0 1.3,0 1.2,0 1.2,0 1.2,0 1.2,0 1.2,0 1.2,0 1.2,0 1.2,0.1 1.2,0 1.2,0 1.2,0 1.2,0 1.2,0 1.2,0 1.2,0 1.2,0.1 1.2,0 1.2,0 1.2,0 1.2,0 1.2,0 1.2,0.1 1.2,0 1.2,0 1.2,0 1.2,0 1.2,0.1 1.2,0 1.2,0 1.2,0 1.2,0 1.2,0.1 1.2,0" stroke="#000" stroke-width="6.8" stroke-linecap="round"/>
<path d="M106.4,707.1l1.2,0 1.2,0 1.2,0 1.2,0 1.2,0 1.2,0 1.2,0 1.2,0 1.2,0 1.2,0 1.2,0 1.2,0 1.2,0 1.2,0 1.2,0 1.2,0 1.2,0 1.2,-0.1 1.2,0 1.2,0 1.2,0 1.2,0 1.2,0 1.2,0 1.2,0 1.2,0 1.2,0 1.2,0 1.2,-0.1 1.2,0 1.2,0 1.2,0 1.2,0 1.2,0 1.2,0 1.2,-0.1 1.2,0 1.2,0 1.2,0 1.2,0 1.2,0 1.3,-0.1 1.2,0 1.2,0 1.2,0 1.2,0 1.2,-0.1 1.2,0 1.2,0 1.2,0 1.2,-0.1 1.2,0 1.2,0 1.2,-0.1 1.2,0 1.2,0 1.2,0 1.2,-0.1 1.2,0 1.2,-0.1 1.2,-0.2 1.2,-0.3 1.2,-0.3 1.2,-0.3 1.2,-0.4 1.2,-0.3 1.2,-0.4 1.2,-0.4 1.2,-0.3 1.2,-0.3 1.2,-0.2 1.2,-0.4 1.2,-0.3 1.2,-0.3 1.2,-0.3 1.2,-0.3 1.2,-0.3 1.2,-0.2 1.2,-0.2 1.2,-0.1 1.2,0 1.2,0.1 1.2,0.1 1.2,0.3 1.2,0.3 1.2,0.4 1.2,0.4 1.2,0.5 1.2,0.5 1.2,0.4 1.2,0.5 1.2,0.4 1.2,0.4 1.2,0.5 1.2,0.5 1.2,0.5 1.2,0.6 1.2,0.5 1.2,0.5 1.2,0.5 1.2,0.3 1.2,0.3 1.2,0.1 1.2,0 1.2,0 1.2,0 1.2,0 1.2,0 1.2,-0.1 1.2,0 1.2,0 1.2,0 1.2,0 1.2,-0.1 1.2,0 1.2,0 1.2,-0.1 1.2,0 1.2,-0.1 1.2,0 1.2,-0.1 1.2,0 1.2,-0.1 1.2,0 1.3,-0.1 1.2,0 1.2,-0.1 1.2,0 1.2,-0.1 1.2,-0.1 1.2,0 1.2,-0.1 1.2,-0.1 1.2,0 1.2,-0.1 1.2,-0.1 1.2,0 1.2,-0.1 1.2,-0.1 1.2,-0.1 1.2,0 1.2,-0.1 1.2,-0.1 1.2,-0.1 1.2,0 1.2,-0.1 1.2,-0.1 1.2,-0.1 1.2,0 1.2,-0.1 1.2,-0.1 1.2,-0.1 1.2,0 1.2,-0.1 1.2,-0.1 1.2,0 1.2,-0.1 1.2,-0.1 1.2,-0.1 1.2,0 1.2,-0.1 1.2,-0.1 1.2,0 1.2,-0.1 1.2,-0.1 1.2,0 1.2,-0.1 1.2,-0.1 1.2,-0.1 1.2,0 1.2,-0.1 1.2,-0.1 1.2,-0.1 1.2,-0.1 1.2,0 1.2,-0.1 1.2,-0.1 1.2,-0.1 1.2,-0.1 1.2,-0.1 1.2,-0.1 1.2,-0.1 1.2,-0.1 1.2,-0.2 1.2,-0.1 1.2,-0.1 1.2,-0.1 1.2,-0.1 1.2,-0.1 1.2,0 1.2,0.1 1.2,0.1 1.2,0.3 1.2,0.3 1.2,0.4 1.2,0.4 1.2,0.4 1.2,0.4 1.2,0.3 1.2,0.3 1.2,0.3 1.2,0.3 1.2,0.4 1.2,0.3 1.2,0.3 1.2,0.4 1.3,0.3 1.2,0.2 1.2,0.3 1.2,0.2 1.2,0.2 1.2,0.1 1.2,0 1.2,0 1.2,-0.1 1.2,-0.1 1.2,-0.1 1.2,-0.2 1.2,-0.1 1.2,-0.2 1.2,-0.2 1.2,-0.2 1.2,-0.2 1.2,-0.2 1.2,-0.2 1.2,-0.2 1.2,-0.1 1.2,-0.2 1.2,-0.1 1.2,0 1.2,-0.1 1.2,-0.1 1.2,-0.1 1.2,-0.1 1.2,-0.1 1.2,-0.1 1.2,-0.1 1.2,-0.1 1.2,-0.1 1.2,-0.1 1.2,0 1.2,-0.1 1.2,-0.1 1.2,-0.1 1.2,-0.1 1.2,0 1.2,-0.1 1.2,-0.1 1.2,0 1.2,-0.1 1.2,0 1.2,-0.1 1.2,0 1.2,-0.1 1.2,0 1.2,0 1.2,-0.1 1.2,0 1.2,0 1.2,0 1.2,0 1.2,0 1.2,0 1.2,0 1.2,0 1.2,0 1.2,0 1.2,0 1.2,0 1.2,0 1.2,0 1.2,0 1.2,0 1.2,0 1.2,0 1.2,0 1.2,0 1.2,0 1.2,0 1.2,0 1.2,0 1.2,0 1.2,0 1.2,0 1.2,0 1.2,0 1.2,0.1 1.2,0 1.2,0 1.3,0 1.2,0 1.2,0 1.2,0 1.2,0 1.2,0 1.2,0 1.2,0 1.2,0.1 1.2,0 1.2,0 1.2,0 1.2,0 1.2,0 1.2,0.1 1.2,0 1.2,0 1.2,0 1.2,0 1.2,0.1 1.2,0 1.2,0 1.2,0 1.2,0.1 1.2,0 1.2,0 1.2,0 1.2,0.1 1.2,0 1.2,0 1.2,0.1 1.2,0 1.2,0 1.2,0.1 1.2,0 1.2,0 1.2,0.1 1.2,0 1.2,0.1 1.2,0 1.2,0.1 1.2,0" stroke="#000" stroke-width="6.6" stroke-linecap="round"/>
<path d="M97.0,733.2l1.2,0 1.2,0 1.2,0 1.2,0 1.2,0 1.2,0 1.2,0 1.2,0 1.2,0 1.2,0 1.2,0 1.2,0 1.2,0 1.2,0 1.2,0 1.2,0 1.2,0 1.2,0 1.2,0 1.2,0 1.2,0 1.2,0 1.2,0 1.2,0 1.2,0 1.2,0 1.2,0 1.2,0 1.2,0 1.2,0 1.2,0 1.2,0 1.2,0 1.2,0 1.2,0 1.2,0 1.2,0 1.2,0 1.2,0 1.2,0 1.2,0 1.2,0 1.2,0 1.2,0 1.2,0 1.2,0 1.2,0 1.2,0 1.2,-0.1 1.2,0 1.2,0 1.2,-0.1 1.2,0 1.2,-0.1 1.2,0 1.2,-0.1 1.2,0 1.2,-0.1 1.2,0 1.2,-0.1 1.2,-0.1 1.2,0 1.2,-0.1 1.2,0 1.2,-0.1 1.2,-0.1 1.2,0 1.2,-0.1 1.2,-0.1 1.2,-0.1 1.2,-0.1 1.2,-0.1 1.2,-0.1 1.2,-0.2 1.2,-0.1 1.2,-0.1 1.2,-0.1 1.2,-0.1 1.2,-0.1 1.2,-0.1 1.2,-0.1 1.2,0 1.2,-0.1 1.2,0 1.3,0 1.2,0.1 1.2,0 1.2,0.2 1.2,0.1 1.2,0.2 1.2,0.2 1.2,0.2 1.2,0.2 1.2,0.2 1.2,0.2 1.2,0.3 1.2,0.2 1.2,0.2 1.2,0.1 1.2,0.2 1.2,0.1 1.2,0.2 1.2,0.1 1.2,0.1 1.2,0.2 1.2,0.1 1.2,0.2 1.2,0.1 1.2,0.1 1.2,0.2 1.2,0.1 1.2,0 1.2,0.1 1.2,0.1 1.2,0 1.2,0 1.2,0 1.2,0 1.2,0 1.2,0 1.2,-0.1 1.2,0 1.2,0 1.2,0 1.2,-0.1 1.2,0 1.2,-0.1 1.2,0 1.2,0 1.2,-0.1 1.2,0 1.2,-0.1 1.2,0 1.2,-0.1 1.2,-0.1 1.2,0 1.2,-0.1 1.2,0 1.2,-0.1 1.2,0 1.2,-0.1 1.2,-0.1 1.2,0 1.2,-0.1 1.2,-0.1 1.2,0 1.2,-0.1 1.2,0 1.2,-0.1 1.2,-0.1 1.2,0 1.2,-0.1 1.2,0 1.2,-0.1 1.2,0 1.2,-0.1 1.2,0 1.2,-0.1 1.2,0 1.2,0 1.2,-0.1 1.2,0 1.2,0 1.2,0 1.2,-0.1 1.2,0 1.2,0 1.2,0 1.2,0 1.2,0 1.2,0 1.2,0 1.2,0 1.2,0 1.2,0.1 1.2,0 1.2,0 1.2,0 1.2,0.1 1.2,0 1.2,0 1.2,0.1 1.2,0 1.2,0.1 1.2,0 1.2,0.1 1.2,0 1.2,0.1 1.2,0 1.2,0.1 1.2,0 1.2,0.1 1.2,0 1.2,0.1 1.2,0 1.2,0.1 1.2,0 1.2,0.1 1.2,0.1 1.2,0.1 1.2,0.1 1.2,0.1 1.2,0.1 1.2,0.1 1.2,0.1 1.2,0.2 1.2,0.1 1.2,0.1 1.2,0.2 1.2,0.1 1.2,0.1 1.2,0.1 1.2,0.1 1.2,0.1 1.2,0 1.2,0.1 1.2,0 1.2,0 1.2,0 1.2,-0.1 1.2,-0.1 1.2,-0.1 1.2,-0.1 1.2,-0.1 1.2,-0.1 1.2,-0.1 1.2,-0.2 1.2,-0.1 1.2,-0.1 1.2,-0.2 1.2,-0.1 1.2,-0.1 1.2,-0.1 1.2,-0.1 1.2,-0.1 1.2,-0.1 1.2,0 1.2,-0.1 1.2,0 1.2,-0.1 1.2,0 1.2,-0.1 1.2,0 1.2,-0.1 1.2,0 1.2,-0.1 1.2,0 1.2,-0.1 1.2,0 1.2,0 1.2,-0.1 1.2,0 1.2,-0.1 1.2,0 1.3,0 1.2,-0.1 1.2,0 1.2,0 1.2,0 1.2,-0.1 1.2,0 1.2,0 1.2,0 1.2,-0.1 1.2,0 1.2,0 1.2,0 1.2,0 1.2,0 1.2,0 1.2,0 1.2,0 1.2,0 1.2,0 1.2,0 1.2,0 1.2,0 1.2,0 1.2,0 1.2,0 1.2,0 1.2,0 1.2,0 1.2,0 1.2,0 1.2,0 1.2,0 1.2,0 1.2,-0.1 1.2,0 1.2,0 1.2,0 1.2,0 1.2,0 1.2,0 1.2,0 1.2,0 1.2,0 1.2,0 1.2,0 1.2,0 1.2,0 1.2,0 1.2,0 1.2,0 1.2,0 1.2,0 1.2,0 1.2,0 1.2,0 1.2,0 1.2,0 1.2,0 1.2,0 1.2,0 1.2,0 1.2,0 1.2,0 1.2,0 1.2,0 1.2,0 1.2,0 1.2,0 1.2,0 1.2,0 1.2,0 1.2,0 1.2,0 1.2,0 1.2,0 1.2,0 1.2,0 1.2,0 1.2,0 1.2,0 1.2,0 1.2,0 1.2,0 1.2,0" stroke="#000" stroke-width="6.4" stroke-linecap="round"/>
<path d="M94.7,469.4h4.6v4.6h-4.6zM97.2,468.0h4.6v4.6h-4.6zM99.8,469.1h4.6v4.6h-4.6zM102.3,469.6h4.6v4.6h-4.6zM104.9,470.0h4.6v4.6h-4.6zM107.4,468.0h4.6v4.6h-4.6zM109.9,467.0h4.6v4.6h-4.6zM112.5,467.5h4.6v4.6h-4.6zM115.0,469.2h4.6v4.6h-4.6zM117.6,468.3h4.6v4.6h-4.6zM120.1,467.0h4.6v4.6h-4.6zM122.6,465.8h4.6v4.6h-4.6zM125.2,466.6h4.6v4.6h-4.6zM127.7,465.8h4.6v4.6h-4.6zM130.3,466.7h4.6v4.6h-4.6zM132.8,465.2h4.6v4.6h-4.6zM135.3,465.8h4.6v4.6h-4.6zM137.9,464.3h4.6v4.6h-4.6zM140.4,465.4h4.6v4.6h-4.6zM143.0,465.8h4.6v4.6h-4.6zM145.5,464.5h4.6v4.6h-4.6zM148.0,463.6h4.6v4.6h-4.6zM150.6,463.2h4.6v4.6h-4.6zM153.1,464.7h4.6v4.6h-4.6zM155.7,464.9h4.6v4.6h-4.6zM158.2,464.1h4.6v4.6h-4.6zM160.7,462.5h4.6v4.6h-4.6zM163.3,460.8h4.6v4.6h-4.6zM165.8,459.4h4.6v4.6h-4.6zM168.4,457.6h4.6v4.6h-4.6zM219.2,478.4h4.6v4.6h-4.6zM221.7,475.9h4.6v4.6h-4.6zM224.2,474.0h4.6v4.6h-4.6zM226.8,474.7h4.6v4.6h-4.6zM229.3,474.2h4.6v4.6h-4.6zM231.9,472.8h4.6v4.6h-4.6zM234.4,471.0h4.6v4.6h-4.6zM236.9,471.3h4.6v4.6h-4.6zM239.5,471.6h4.6v4.6h-4.6zM242.0,471.5h4.6v4.6h-4.6zM244.6,470.4h4.6v4.6h-4.6zM247.1,470.1h4.6v4.6h-4.6zM249.6,468.8h4.6v4.6h-4.6zM252.2,469.4h4.6v4.6h-4.6zM254.7,468.8h4.6v4.6h-4.6zM257.3,469.6h4.6v4.6h-4.6zM259.8,468.8h4.6v4.6h-4.6zM262.3,469.6h4.6v4.6h-4.6zM264.9,469.1h4.6v4.6h-4.6zM267.4,468.0h4.6v4.6h-4.6zM270.0,466.5h4.6v4.6h-4.6zM272.5,465.5h4.6v4.6h-4.6zM275.0,466.7h4.6v4.6h-4.6zM277.6,466.6h4.6v4.6h-4.6zM280.1,467.2h4.6v4.6h-4.6zM282.7,467.0h4.6v4.6h-4.6zM285.2,467.4h4.6v4.6h-4.6zM287.7,467.3h4.6v4.6h-4.6zM290.3,468.6h4.6v4.6h-4.6zM292.8,467.7h4.6v4.6h-4.6zM295.4,468.8h4.6v4.6h-4.6zM297.9,467.0h4.6v4.6h-4.6zM300.4,468.4h4.6v4.6h-4.6zM303.0,467.9h4.6v4.6h-4.6zM305.5,467.2h4.6v4.6h-4.6zM308.1,466.2h4.6v4.6h-4.6zM310.6,466.3h4.6v4.6h-4.6zM313.1,466.0h4.6v4.6h-4.6zM315.7,467.2h4.6v4.6h-4.6zM318.2,465.2h4.6v4.6h-4.6zM320.8,465.1h4.6v4.6h-4.6zM323.3,465.0h4.6v4.6h-4.6zM325.8,465.2h4.6v4.6h-4.6zM328.4,464.0h4.6v4.6h-4.6zM330.9,460.8h4.6v4.6h-4.6zM333.5,461.4h4.6v4.6h-4.6zM336.0,462.8h4.6v4.6h-4.6zM338.5,463.7h4.6v4.6h-4.6zM341.1,463.2h4.6v4.6h-4.6zM343.6,464.6h4.6v4.6h-4.6zM346.2,467.3h4.6v4.6h-4.6zM358.9,485.6h4.6v4.6h-4.6zM361.4,485.4h4.6v4.6h-4.6zM371.6,475.5h4.6v4.6h-4.6zM374.1,472.9h4.6v4.6h-4.6zM376.6,471.5h4.6v4.6h-4.6zM379.2,470.5h4.6v4.6h-4.6zM381.7,469.3h4.6v4.6h-4.6zM384.3,468.5h4.6v4.6h-4.6zM386.8,469.1h4.6v4.6h-4.6zM389.3,468.3h4.6v4.6h-4.6zM391.9,468.1h4.6v4.6h-4.6zM394.4,466.7h4.6v4.6h-4.6zM397.0,468.2h4.6v4.6h-4.6zM399.5,467.7h4.6v4.6h-4.6zM402.0,468.1h4.6v4.6h-4.6zM404.6,468.1h4.6v4.6h-4.6zM407.1,468.1h4.6v4.6h-4.6zM409.7,468.8h4.6v4.6h-4.6zM412.2,469.2h4.6v4.6h-4.6zM414.7,469.6h4.6v4.6h-4.6zM417.3,469.4h4.6v4.6h-4.6zM419.8,468.4h4.6v4.6h-4.6zM422.4,467.6h4.6v4.6h-4.6zM424.9,468.0h4.6v4.6h-4.6zM427.4,470.3h4.6v4.6h-4.6zM430.0,470.1h4.6v4.6h-4.6zM432.5,469.7h4.6v4.6h-4.6zM435.1,468.4h4.6v4.6h-4.6zM437.6,468.5h4.6v4.6h-4.6zM440.1,468.0h4.6v4.6h-4.6zM442.7,467.5h4.6v4.6h-4.6zM445.2,466.6h4.6v4.6h-4.6zM447.8,466.5h4.6v4.6h-4.6zM450.3,466.2h4.6v4.6h-4.6zM452.8,468.0h4.6v4.6h-4.6zM455.4,468.9h4.6v4.6h-4.6zM457.9,470.1h4.6v4.6h-4.6zM460.5,469.6h4.6v4.6h-4.6zM463.0,470.9h4.6v4.6h-4.6zM465.5,470.2h4.6v4.6h-4.6zM468.1,470.4h4.6v4.6h-4.6zM470.6,470.0h4.6v4.6h-4.6zM473.2,470.1h4.6v4.6h-4.6zM475.7,470.2h4.6v4.6h-4.6zM478.2,468.6h4.6v4.6h-4.6zM480.8,466.9h4.6v4.6h-4.6zM483.3,467.7h4.6v4.6h-4.6zM485.9,468.2h4.6v4.6h-4.6zM488.4,468.2h4.6v4.6h-4.6zM490.9,465.6h4.6v4.6h-4.6zM493.5,465.8h4.6v4.6h-4.6zM496.0,468.0h4.6v4.6h-4.6zM498.6,468.7h4.6v4.6h-4.6zM501.1,468.0h4.6v4.6h-4.6z" stroke="#000" stroke-width="1.80"/>
<path d="M170.7,455.0h5.0v5.0h-5.0zM173.2,452.4h5.0v5.0h-5.0zM175.8,449.7h5.0v5.0h-5.0zM178.3,445.2h5.0v5.0h-5.0zM180.9,439.3h5.0v5.0h-5.0zM183.4,434.7h5.0v5.0h-5.0zM185.9,431.3h5.0v5.0h-5.0zM188.5,432.4h5.0v5.0h-5.0zM191.0,443.8h5.0v5.0h-5.0zM193.6,458.0h5.0v5.0h-5.0zM196.1,474.2h5.0v5.0h-5.0zM198.6,488.7h5.0v5.0h-5.0zM201.2,502.4h5.0v5.0h-5.0zM203.7,503.8h5.0v5.0h-5.0zM206.3,500.1h5.0v5.0h-5.0zM208.8,494.7h5.0v5.0h-5.0zM211.3,488.2h5.0v5.0h-5.0zM213.9,484.1h5.0v5.0h-5.0zM216.4,481.3h5.0v5.0h-5.0zM348.5,471.4h5.0v5.0h-5.0zM351.0,474.9h5.0v5.0h-5.0zM353.6,479.1h5.0v5.0h-5.0zM356.1,482.4h5.0v5.0h-5.0zM363.7,485.7h5.0v5.0h-5.0zM366.3,483.9h5.0v5.0h-5.0zM368.8,480.2h5.0v5.0h-5.0z" stroke="#000" stroke-width="2.20"/>
<path d="M94.7,523.9h4.6v4.6h-4.6zM97.2,524.6h4.6v4.6h-4.6zM99.8,524.3h4.6v4.6h-4.6zM102.3,524.6h4.6v4.6h-4.6zM104.9,524.9h4.6v4.6h-4.6zM107.4,525.0h4.6v4.6h-4.6zM109.9,524.7h4.6v4.6h-4.6zM112.5,525.8h4.6v4.6h-4.6zM115.0,525.0h4.6v4.6h-4.6zM117.6,525.0h4.6v4.6h-4.6zM120.1,523.0h4.6v4.6h-4.6zM122.6,524.0h4.6v4.6h-4.6zM125.2,524.0h4.6v4.6h-4.6zM127.7,524.6h4.6v4.6h-4.6zM130.3,523.8h4.6v4.6h-4.6zM132.8,524.1h4.6v4.6h-4.6zM135.3,524.1h4.6v4.6h-4.6zM137.9,523.9h4.6v4.6h-4.6zM140.4,521.9h4.6v4.6h-4.6zM143.0,520.2h4.6v4.6h-4.6zM145.5,519.2h4.6v4.6h-4.6zM148.0,519.9h4.6v4.6h-4.6zM150.6,521.1h4.6v4.6h-4.6zM153.1,521.6h4.6v4.6h-4.6zM155.7,520.5h4.6v4.6h-4.6zM158.2,520.0h4.6v4.6h-4.6zM160.7,519.9h4.6v4.6h-4.6zM163.3,520.1h4.6v4.6h-4.6zM165.8,518.6h4.6v4.6h-4.6zM168.4,515.8h4.6v4.6h-4.6zM209.0,547.6h4.6v4.6h-4.6zM221.7,530.7h4.6v4.6h-4.6zM224.2,528.1h4.6v4.6h-4.6zM226.8,527.1h4.6v4.6h-4.6zM229.3,527.5h4.6v4.6h-4.6zM231.9,528.3h4.6v4.6h-4.6zM234.4,528.0h4.6v4.6h-4.6zM236.9,526.5h4.6v4.6h-4.6zM239.5,524.7h4.6v4.6h-4.6zM242.0,523.9h4.6v4.6h-4.6zM244.6,523.6h4.6v4.6h-4.6zM247.1,523.1h4.6v4.6h-4.6zM249.6,522.8h4.6v4.6h-4.6zM252.2,524.3h4.6v4.6h-4.6zM254.7,523.7h4.6v4.6h-4.6zM257.3,523.2h4.6v4.6h-4.6zM259.8,521.9h4.6v4.6h-4.6zM262.3,522.8h4.6v4.6h-4.6zM264.9,522.2h4.6v4.6h-4.6zM267.4,522.4h4.6v4.6h-4.6zM270.0,523.1h4.6v4.6h-4.6zM272.5,525.4h4.6v4.6h-4.6zM275.0,526.1h4.6v4.6h-4.6zM277.6,524.0h4.6v4.6h-4.6zM280.1,522.1h4.6v4.6h-4.6zM282.7,520.2h4.6v4.6h-4.6zM285.2,521.5h4.6v4.6h-4.6zM287.7,523.0h4.6v4.6h-4.6zM290.3,524.6h4.6v4.6h-4.6zM292.8,524.3h4.6v4.6h-4.6zM295.4,522.9h4.6v4.6h-4.6zM297.9,522.7h4.6v4.6h-4.6zM300.4,523.8h4.6v4.6h-4.6zM303.0,523.9h4.6v4.6h-4.6zM305.5,522.2h4.6v4.6h-4.6zM308.1,519.4h4.6v4.6h-4.6zM310.6,518.0h4.6v4.6h-4.6zM313.1,519.1h4.6v4.6h-4.6zM315.7,520.0h4.6v4.6h-4.6zM318.2,521.7h4.6v4.6h-4.6zM320.8,520.4h4.6v4.6h-4.6zM323.3,519.6h4.6v4.6h-4.6zM325.8,517.9h4.6v4.6h-4.6zM328.4,518.6h4.6v4.6h-4.6zM330.9,517.7h4.6v4.6h-4.6zM333.5,517.4h4.6v4.6h-4.6zM336.0,515.1h4.6v4.6h-4.6zM338.5,513.5h4.6v4.6h-4.6zM341.1,513.2h4.6v4.6h-4.6zM343.6,512.2h4.6v4.6h-4.6zM346.2,512.7h4.6v4.6h-4.6zM348.7,513.2h4.6v4.6h-4.6zM361.4,541.1h4.6v4.6h-4.6zM363.9,540.8h4.6v4.6h-4.6zM374.1,527.1h4.6v4.6h-4.6zM376.6,525.3h4.6v4.6h-4.6zM379.2,525.6h4.6v4.6h-4.6zM381.7,524.8h4.6v4.6h-4.6zM384.3,524.3h4.6v4.6h-4.6zM386.8,524.2h4.6v4.6h-4.6zM389.3,523.3h4.6v4.6h-4.6zM391.9,523.6h4.6v4.6h-4.6zM394.4,523.1h4.6v4.6h-4.6zM397.0,522.1h4.6v4.6h-4.6zM399.5,522.3h4.6v4.6h-4.6zM402.0,521.2h4.6v4.6h-4.6zM404.6,521.4h4.6v4.6h-4.6zM407.1,520.6h4.6v4.6h-4.6zM409.7,521.1h4.6v4.6h-4.6zM412.2,521.4h4.6v4.6h-4.6zM414.7,522.3h4.6v4.6h-4.6zM417.3,521.5h4.6v4.6h-4.6zM419.8,521.1h4.6v4.6h-4.6zM422.4,519.8h4.6v4.6h-4.6zM424.9,519.3h4.6v4.6h-4.6zM427.4,519.2h4.6v4.6h-4.6zM430.0,520.8h4.6v4.6h-4.6zM432.5,523.6h4.6v4.6h-4.6zM435.1,523.2h4.6v4.6h-4.6zM437.6,523.4h4.6v4.6h-4.6zM440.1,522.0h4.6v4.6h-4.6zM442.7,522.6h4.6v4.6h-4.6zM445.2,521.6h4.6v4.6h-4.6zM447.8,521.9h4.6v4.6h-4.6zM450.3,521.7h4.6v4.6h-4.6zM452.8,521.5h4.6v4.6h-4.6zM455.4,520.4h4.6v4.6h-4.6zM457.9,521.0h4.6v4.6h-4.6zM460.5,521.7h4.6v4.6h-4.6zM463.0,521.9h4.6v4.6h-4.6zM465.5,521.9h4.6v4.6h-4.6zM468.1,520.4h4.6v4.6h-4.6zM470.6,519.3h4.6v4.6h-4.6zM473.2,519.7h4.6v4.6h-4.6zM475.7,520.7h4.6v4.6h-4.6zM478.2,522.9h4.6v4.6h-4.6zM480.8,522.5h4.6v4.6h-4.6zM483.3,522.4h4.6v4.6h-4.6zM485.9,522.5h4.6v4.6h-4.6zM488.4,522.2h4.6v4.6h-4.6zM490.9,521.0h4.6v4.6h-4.6zM493.5,519.8h4.6v4.6h-4.6zM496.0,521.5h4.6v4.6h-4.6zM498.6,523.5h4.6v4.6h-4.6zM501.1,522.1h4.6v4.6h-4.6z" stroke="#000" stroke-width="1.80"/>
<path d="M170.7,514.3h5.0v5.0h-5.0zM173.2,511.4h5.0v5.0h-5.0zM175.8,509.4h5.0v5.0h-5.0zM178.3,504.0h5.0v5.0h-5.0zM180.9,500.2h5.0v5.0h-5.0zM183.4,495.4h5.0v5.0h-5.0zM185.9,491.2h5.0v5.0h-5.0zM188.5,485.9h5.0v5.0h-5.0zM191.0,484.5h5.0v5.0h-5.0zM193.6,491.1h5.0v5.0h-5.0zM196.1,502.9h5.0v5.0h-5.0zM198.6,519.1h5.0v5.0h-5.0zM201.2,529.1h5.0v5.0h-5.0zM203.7,540.2h5.0v5.0h-5.0zM206.3,548.0h5.0v5.0h-5.0zM211.3,544.1h5.0v5.0h-5.0zM213.9,541.1h5.0v5.0h-5.0zM216.4,537.5h5.0v5.0h-5.0zM219.0,534.1h5.0v5.0h-5.0zM351.0,519.0h5.0v5.0h-5.0zM353.6,525.2h5.0v5.0h-5.0zM356.1,531.0h5.0v5.0h-5.0zM358.7,535.5h5.0v5.0h-5.0zM366.3,537.5h5.0v5.0h-5.0zM368.8,533.5h5.0v5.0h-5.0zM371.4,529.0h5.0v5.0h-5.0z" stroke="#000" stroke-width="2.20"/>
<path d="M94.7,576.4h4.6v4.6h-4.6zM97.2,575.5h4.6v4.6h-4.6zM99.8,574.0h4.6v4.6h-4.6zM102.3,573.8h4.6v4.6h-4.6zM104.9,573.9h4.6v4.6h-4.6zM107.4,574.9h4.6v4.6h-4.6zM109.9,576.6h4.6v4.6h-4.6zM112.5,577.6h4.6v4.6h-4.6zM115.0,579.1h4.6v4.6h-4.6zM117.6,578.9h4.6v4.6h-4.6zM120.1,577.9h4.6v4.6h-4.6zM122.6,576.8h4.6v4.6h-4.6zM125.2,575.6h4.6v4.6h-4.6zM127.7,576.2h4.6v4.6h-4.6zM130.3,576.5h4.6v4.6h-4.6zM132.8,577.4h4.6v4.6h-4.6zM135.3,576.5h4.6v4.6h-4.6zM137.9,575.8h4.6v4.6h-4.6zM140.4,574.5h4.6v4.6h-4.6zM143.0,574.9h4.6v4.6h-4.6zM145.5,575.5h4.6v4.6h-4.6zM148.0,576.8h4.6v4.6h-4.6zM150.6,576.4h4.6v4.6h-4.6zM153.1,576.2h4.6v4.6h-4.6zM155.7,575.0h4.6v4.6h-4.6zM158.2,574.5h4.6v4.6h-4.6zM160.7,574.5h4.6v4.6h-4.6zM163.3,573.9h4.6v4.6h-4.6zM165.8,572.4h4.6v4.6h-4.6zM168.4,570.5h4.6v4.6h-4.6zM170.9,568.5h4.6v4.6h-4.6zM188.7,547.5h4.6v4.6h-4.6zM191.2,546.9h4.6v4.6h-4.6zM214.1,592.9h4.6v4.6h-4.6zM216.6,592.5h4.6v4.6h-4.6zM221.7,589.7h4.6v4.6h-4.6zM224.2,586.5h4.6v4.6h-4.6zM226.8,585.1h4.6v4.6h-4.6zM229.3,583.8h4.6v4.6h-4.6zM231.9,583.5h4.6v4.6h-4.6zM234.4,582.6h4.6v4.6h-4.6zM236.9,581.2h4.6v4.6h-4.6zM239.5,578.7h4.6v4.6h-4.6zM242.0,577.2h4.6v4.6h-4.6zM244.6,576.2h4.6v4.6h-4.6zM247.1,577.1h4.6v4.6h-4.6zM249.6,578.2h4.6v4.6h-4.6zM252.2,578.2h4.6v4.6h-4.6zM254.7,578.6h4.6v4.6h-4.6zM257.3,576.7h4.6v4.6h-4.6zM259.8,577.1h4.6v4.6h-4.6zM262.3,576.0h4.6v4.6h-4.6zM264.9,577.2h4.6v4.6h-4.6zM267.4,577.0h4.6v4.6h-4.6zM270.0,577.7h4.6v4.6h-4.6zM272.5,576.1h4.6v4.6h-4.6zM275.0,575.2h4.6v4.6h-4.6zM277.6,574.4h4.6v4.6h-4.6zM280.1,575.6h4.6v4.6h-4.6zM282.7,576.5h4.6v4.6h-4.6zM285.2,577.6h4.6v4.6h-4.6zM287.7,575.8h4.6v4.6h-4.6zM290.3,574.3h4.6v4.6h-4.6zM292.8,572.8h4.6v4.6h-4.6zM295.4,573.9h4.6v4.6h-4.6zM297.9,575.1h4.6v4.6h-4.6zM300.4,574.5h4.6v4.6h-4.6zM303.0,575.4h4.6v4.6h-4.6zM305.5,575.2h4.6v4.6h-4.6zM308.1,576.2h4.6v4.6h-4.6zM310.6,574.8h4.6v4.6h-4.6zM313.1,574.2h4.6v4.6h-4.6zM315.7,574.0h4.6v4.6h-4.6zM318.2,574.8h4.6v4.6h-4.6zM320.8,576.0h4.6v4.6h-4.6zM323.3,575.3h4.6v4.6h-4.6zM325.8,574.3h4.6v4.6h-4.6zM328.4,572.7h4.6v4.6h-4.6zM330.9,573.0h4.6v4.6h-4.6zM333.5,573.3h4.6v4.6h-4.6zM336.0,571.4h4.6v4.6h-4.6zM338.5,570.3h4.6v4.6h-4.6zM341.1,569.4h4.6v4.6h-4.6zM343.6,570.4h4.6v4.6h-4.6zM346.2,571.0h4.6v4.6h-4.6zM361.4,590.4h4.6v4.6h-4.6zM363.9,592.8h4.6v4.6h-4.6zM366.5,590.3h4.6v4.6h-4.6zM369.0,586.4h4.6v4.6h-4.6zM376.6,582.2h4.6v4.6h-4.6zM379.2,580.1h4.6v4.6h-4.6zM381.7,578.1h4.6v4.6h-4.6zM384.3,577.5h4.6v4.6h-4.6zM386.8,575.8h4.6v4.6h-4.6zM389.3,574.4h4.6v4.6h-4.6zM391.9,574.6h4.6v4.6h-4.6zM394.4,574.6h4.6v4.6h-4.6zM397.0,575.0h4.6v4.6h-4.6zM399.5,576.2h4.6v4.6h-4.6zM402.0,575.4h4.6v4.6h-4.6zM404.6,575.6h4.6v4.6h-4.6zM407.1,574.4h4.6v4.6h-4.6zM409.7,575.3h4.6v4.6h-4.6zM412.2,575.9h4.6v4.6h-4.6zM414.7,576.0h4.6v4.6h-4.6zM417.3,575.6h4.6v4.6h-4.6zM419.8,574.2h4.6v4.6h-4.6zM422.4,574.6h4.6v4.6h-4.6zM424.9,575.7h4.6v4.6h-4.6zM427.4,575.1h4.6v4.6h-4.6zM430.0,572.7h4.6v4.6h-4.6zM432.5,572.5h4.6v4.6h-4.6zM435.1,573.5h4.6v4.6h-4.6zM437.6,575.2h4.6v4.6h-4.6zM440.1,574.3h4.6v4.6h-4.6zM442.7,573.6h4.6v4.6h-4.6zM445.2,573.9h4.6v4.6h-4.6zM447.8,573.9h4.6v4.6h-4.6zM450.3,574.4h4.6v4.6h-4.6zM452.8,573.5h4.6v4.6h-4.6zM455.4,573.9h4.6v4.6h-4.6zM457.9,573.6h4.6v4.6h-4.6zM460.5,574.6h4.6v4.6h-4.6zM463.0,573.9h4.6v4.6h-4.6zM465.5,574.9h4.6v4.6h-4.6zM468.1,575.0h4.6v4.6h-4.6zM470.6,574.7h4.6v4.6h-4.6zM473.2,573.6h4.6v4.6h-4.6zM475.7,573.2h4.6v4.6h-4.6zM478.2,574.8h4.6v4.6h-4.6zM480.8,574.6h4.6v4.6h-4.6zM483.3,574.6h4.6v4.6h-4.6zM485.9,573.7h4.6v4.6h-4.6zM488.4,575.4h4.6v4.6h-4.6zM490.9,576.2h4.6v4.6h-4.6zM493.5,576.6h4.6v4.6h-4.6zM496.0,575.3h4.6v4.6h-4.6zM498.6,574.5h4.6v4.6h-4.6zM501.1,574.8h4.6v4.6h-4.6z" stroke="#000" stroke-width="1.80"/>
<path d="M173.2,566.8h5.0v5.0h-5.0zM175.8,564.1h5.0v5.0h-5.0zM178.3,561.5h5.0v5.0h-5.0zM180.9,557.7h5.0v5.0h-5.0zM183.4,553.5h5.0v5.0h-5.0zM185.9,549.6h5.0v5.0h-5.0zM193.6,547.5h5.0v5.0h-5.0zM196.1,553.1h5.0v5.0h-5.0zM198.6,558.6h5.0v5.0h-5.0zM201.2,566.3h5.0v5.0h-5.0zM203.7,574.3h5.0v5.0h-5.0zM206.3,582.4h5.0v5.0h-5.0zM208.8,588.0h5.0v5.0h-5.0zM211.3,592.4h5.0v5.0h-5.0zM219.0,590.4h5.0v5.0h-5.0zM348.5,573.6h5.0v5.0h-5.0zM351.0,575.3h5.0v5.0h-5.0zM353.6,579.1h5.0v5.0h-5.0zM356.1,581.0h5.0v5.0h-5.0zM358.7,586.9h5.0v5.0h-5.0zM371.4,585.0h5.0v5.0h-5.0zM373.9,584.5h5.0v5.0h-5.0z" stroke="#000" stroke-width="2.20"/>
<path d="M94.7,629.6h4.6v4.6h-4.6zM97.2,628.6h4.6v4.6h-4.6zM99.8,628.4h4.6v4.6h-4.6zM102.3,629.2h4.6v4.6h-4.6zM104.9,630.4h4.6v4.6h-4.6zM107.4,630.5h4.6v4.6h-4.6zM109.9,630.3h4.6v4.6h-4.6zM112.5,629.3h4.6v4.6h-4.6zM115.0,629.4h4.6v4.6h-4.6zM117.6,628.5h4.6v4.6h-4.6zM120.1,630.2h4.6v4.6h-4.6zM122.6,630.2h4.6v4.6h-4.6zM125.2,631.5h4.6v4.6h-4.6zM127.7,631.6h4.6v4.6h-4.6zM130.3,632.2h4.6v4.6h-4.6zM132.8,632.4h4.6v4.6h-4.6zM135.3,632.1h4.6v4.6h-4.6zM137.9,632.3h4.6v4.6h-4.6zM140.4,631.0h4.6v4.6h-4.6zM143.0,630.3h4.6v4.6h-4.6zM145.5,629.1h4.6v4.6h-4.6zM148.0,629.5h4.6v4.6h-4.6zM150.6,629.7h4.6v4.6h-4.6zM153.1,629.4h4.6v4.6h-4.6zM155.7,628.8h4.6v4.6h-4.6zM158.2,627.7h4.6v4.6h-4.6zM160.7,628.4h4.6v4.6h-4.6zM163.3,627.5h4.6v4.6h-4.6zM165.8,626.9h4.6v4.6h-4.6zM168.4,624.9h4.6v4.6h-4.6zM170.9,623.1h4.6v4.6h-4.6zM173.4,620.6h4.6v4.6h-4.6zM176.0,618.4h4.6v4.6h-4.6zM178.5,616.7h4.6v4.6h-4.6zM186.1,607.4h4.6v4.6h-4.6zM188.7,605.1h4.6v4.6h-4.6zM191.2,604.4h4.6v4.6h-4.6zM193.8,604.2h4.6v4.6h-4.6zM196.3,605.8h4.6v4.6h-4.6zM216.6,642.5h4.6v4.6h-4.6zM219.2,643.3h4.6v4.6h-4.6zM221.7,642.9h4.6v4.6h-4.6zM224.2,641.1h4.6v4.6h-4.6zM226.8,639.5h4.6v4.6h-4.6zM229.3,637.9h4.6v4.6h-4.6zM231.9,637.1h4.6v4.6h-4.6zM234.4,635.9h4.6v4.6h-4.6zM236.9,634.3h4.6v4.6h-4.6zM239.5,633.2h4.6v4.6h-4.6zM242.0,632.6h4.6v4.6h-4.6zM244.6,632.6h4.6v4.6h-4.6zM247.1,632.8h4.6v4.6h-4.6zM249.6,632.1h4.6v4.6h-4.6zM252.2,630.8h4.6v4.6h-4.6zM254.7,629.5h4.6v4.6h-4.6zM257.3,628.9h4.6v4.6h-4.6zM259.8,629.6h4.6v4.6h-4.6zM262.3,630.3h4.6v4.6h-4.6zM264.9,629.9h4.6v4.6h-4.6zM267.4,629.9h4.6v4.6h-4.6zM270.0,629.1h4.6v4.6h-4.6zM272.5,629.0h4.6v4.6h-4.6zM275.0,629.0h4.6v4.6h-4.6zM277.6,628.6h4.6v4.6h-4.6zM280.1,629.4h4.6v4.6h-4.6zM282.7,628.4h4.6v4.6h-4.6zM285.2,628.5h4.6v4.6h-4.6zM287.7,628.1h4.6v4.6h-4.6zM290.3,628.1h4.6v4.6h-4.6zM292.8,627.9h4.6v4.6h-4.6zM295.4,626.9h4.6v4.6h-4.6zM297.9,627.7h4.6v4.6h-4.6zM300.4,628.7h4.6v4.6h-4.6zM303.0,629.0h4.6v4.6h-4.6zM305.5,627.5h4.6v4.6h-4.6zM308.1,626.9h4.6v4.6h-4.6zM310.6,626.8h4.6v4.6h-4.6zM313.1,627.4h4.6v4.6h-4.6zM315.7,626.9h4.6v4.6h-4.6zM318.2,627.5h4.6v4.6h-4.6zM320.8,626.7h4.6v4.6h-4.6zM323.3,626.8h4.6v4.6h-4.6zM325.8,624.2h4.6v4.6h-4.6zM328.4,623.0h4.6v4.6h-4.6zM330.9,620.3h4.6v4.6h-4.6zM333.5,618.7h4.6v4.6h-4.6zM336.0,618.8h4.6v4.6h-4.6zM338.5,619.0h4.6v4.6h-4.6zM341.1,620.4h4.6v4.6h-4.6zM343.6,620.8h4.6v4.6h-4.6zM361.4,641.7h4.6v4.6h-4.6zM363.9,641.5h4.6v4.6h-4.6zM366.5,641.6h4.6v4.6h-4.6zM369.0,640.7h4.6v4.6h-4.6zM374.1,635.4h4.6v4.6h-4.6zM376.6,633.2h4.6v4.6h-4.6zM379.2,631.3h4.6v4.6h-4.6zM381.7,629.8h4.6v4.6h-4.6zM384.3,628.1h4.6v4.6h-4.6zM386.8,627.9h4.6v4.6h-4.6zM389.3,628.1h4.6v4.6h-4.6zM391.9,628.2h4.6v4.6h-4.6zM394.4,628.2h4.6v4.6h-4.6zM397.0,627.7h4.6v4.6h-4.6zM399.5,628.2h4.6v4.6h-4.6zM402.0,627.2h4.6v4.6h-4.6zM404.6,627.9h4.6v4.6h-4.6zM407.1,628.0h4.6v4.6h-4.6zM409.7,629.1h4.6v4.6h-4.6zM412.2,628.8h4.6v4.6h-4.6zM414.7,628.4h4.6v4.6h-4.6zM417.3,628.0h4.6v4.6h-4.6zM419.8,629.3h4.6v4.6h-4.6zM422.4,629.9h4.6v4.6h-4.6zM424.9,629.6h4.6v4.6h-4.6zM427.4,628.9h4.6v4.6h-4.6zM430.0,628.1h4.6v4.6h-4.6zM432.5,628.5h4.6v4.6h-4.6zM435.1,627.2h4.6v4.6h-4.6zM437.6,627.5h4.6v4.6h-4.6zM440.1,628.0h4.6v4.6h-4.6zM442.7,628.0h4.6v4.6h-4.6zM445.2,628.0h4.6v4.6h-4.6zM447.8,626.9h4.6v4.6h-4.6zM450.3,627.5h4.6v4.6h-4.6zM452.8,628.2h4.6v4.6h-4.6zM455.4,628.8h4.6v4.6h-4.6zM457.9,629.1h4.6v4.6h-4.6zM460.5,629.6h4.6v4.6h-4.6zM463.0,629.4h4.6v4.6h-4.6zM465.5,629.4h4.6v4.6h-4.6zM468.1,628.4h4.6v4.6h-4.6zM470.6,628.2h4.6v4.6h-4.6zM473.2,627.2h4.6v4.6h-4.6zM475.7,627.9h4.6v4.6h-4.6zM478.2,627.8h4.6v4.6h-4.6zM480.8,629.3h4.6v4.6h-4.6zM483.3,627.8h4.6v4.6h-4.6zM485.9,628.3h4.6v4.6h-4.6zM488.4,628.0h4.6v4.6h-4.6zM490.9,629.1h4.6v4.6h-4.6zM493.5,628.4h4.6v4.6h-4.6zM496.0,627.6h4.6v4.6h-4.6zM498.6,626.7h4.6v4.6h-4.6zM501.1,626.4h4.6v4.6h-4.6z" stroke="#000" stroke-width="1.80"/>
<path d="M180.9,613.7h5.0v5.0h-5.0zM183.4,609.5h5.0v5.0h-5.0zM198.6,607.9h5.0v5.0h-5.0zM201.2,611.7h5.0v5.0h-5.0zM203.7,617.3h5.0v5.0h-5.0zM206.3,624.7h5.0v5.0h-5.0zM208.8,631.9h5.0v5.0h-5.0zM211.3,637.9h5.0v5.0h-5.0zM213.9,640.6h5.0v5.0h-5.0zM346.0,623.2h5.0v5.0h-5.0zM348.5,626.0h5.0v5.0h-5.0zM351.0,629.4h5.0v5.0h-5.0zM353.6,633.8h5.0v5.0h-5.0zM356.1,637.0h5.0v5.0h-5.0zM358.7,640.0h5.0v5.0h-5.0zM371.4,639.1h5.0v5.0h-5.0z" stroke="#000" stroke-width="2.20"/>
<path d="M94.7,657.5h4.6v4.6h-4.6zM97.2,656.6h4.6v4.6h-4.6zM99.8,656.2h4.6v4.6h-4.6zM102.3,655.0h4.6v4.6h-4.6zM104.9,655.5h4.6v4.6h-4.6zM107.4,656.1h4.6v4.6h-4.6zM109.9,655.6h4.6v4.6h-4.6zM112.5,656.3h4.6v4.6h-4.6zM115.0,656.7h4.6v4.6h-4.6zM117.6,657.9h4.6v4.6h-4.6zM120.1,656.4h4.6v4.6h-4.6zM122.6,655.9h4.6v4.6h-4.6zM125.2,656.0h4.6v4.6h-4.6zM127.7,656.7h4.6v4.6h-4.6zM130.3,657.0h4.6v4.6h-4.6zM132.8,656.0h4.6v4.6h-4.6zM135.3,655.3h4.6v4.6h-4.6zM137.9,655.6h4.6v4.6h-4.6zM140.4,656.7h4.6v4.6h-4.6zM143.0,657.9h4.6v4.6h-4.6zM145.5,657.9h4.6v4.6h-4.6zM148.0,657.3h4.6v4.6h-4.6zM150.6,655.8h4.6v4.6h-4.6zM153.1,656.1h4.6v4.6h-4.6zM155.7,656.1h4.6v4.6h-4.6zM158.2,656.1h4.6v4.6h-4.6zM160.7,654.4h4.6v4.6h-4.6zM163.3,654.0h4.6v4.6h-4.6zM165.8,653.6h4.6v4.6h-4.6zM168.4,653.9h4.6v4.6h-4.6zM170.9,652.8h4.6v4.6h-4.6zM173.4,652.5h4.6v4.6h-4.6zM176.0,651.5h4.6v4.6h-4.6zM178.5,650.7h4.6v4.6h-4.6zM181.1,647.7h4.6v4.6h-4.6zM183.6,645.6h4.6v4.6h-4.6zM186.1,644.2h4.6v4.6h-4.6zM188.7,643.6h4.6v4.6h-4.6zM191.2,642.3h4.6v4.6h-4.6zM193.8,641.7h4.6v4.6h-4.6zM196.3,642.3h4.6v4.6h-4.6zM198.8,642.2h4.6v4.6h-4.6zM201.4,643.2h4.6v4.6h-4.6zM214.1,657.3h4.6v4.6h-4.6zM216.6,659.5h4.6v4.6h-4.6zM219.2,660.1h4.6v4.6h-4.6zM221.7,662.5h4.6v4.6h-4.6zM224.2,662.1h4.6v4.6h-4.6zM226.8,661.6h4.6v4.6h-4.6zM229.3,660.1h4.6v4.6h-4.6zM231.9,660.7h4.6v4.6h-4.6zM234.4,660.4h4.6v4.6h-4.6zM236.9,660.4h4.6v4.6h-4.6zM239.5,660.3h4.6v4.6h-4.6zM242.0,659.5h4.6v4.6h-4.6zM244.6,659.0h4.6v4.6h-4.6zM247.1,658.6h4.6v4.6h-4.6zM249.6,660.0h4.6v4.6h-4.6zM252.2,658.7h4.6v4.6h-4.6zM254.7,657.3h4.6v4.6h-4.6zM257.3,656.7h4.6v4.6h-4.6zM259.8,659.0h4.6v4.6h-4.6zM262.3,659.3h4.6v4.6h-4.6zM264.9,657.1h4.6v4.6h-4.6zM267.4,656.0h4.6v4.6h-4.6zM270.0,656.3h4.6v4.6h-4.6zM272.5,657.9h4.6v4.6h-4.6zM275.0,657.2h4.6v4.6h-4.6zM277.6,656.8h4.6v4.6h-4.6zM280.1,655.7h4.6v4.6h-4.6zM282.7,656.1h4.6v4.6h-4.6zM285.2,655.7h4.6v4.6h-4.6zM287.7,655.3h4.6v4.6h-4.6zM290.3,655.4h4.6v4.6h-4.6zM292.8,654.7h4.6v4.6h-4.6zM295.4,654.5h4.6v4.6h-4.6zM297.9,654.9h4.6v4.6h-4.6zM300.4,655.4h4.6v4.6h-4.6zM303.0,655.8h4.6v4.6h-4.6zM305.5,654.8h4.6v4.6h-4.6zM308.1,655.0h4.6v4.6h-4.6zM310.6,656.0h4.6v4.6h-4.6zM313.1,656.5h4.6v4.6h-4.6zM315.7,656.7h4.6v4.6h-4.6zM318.2,655.5h4.6v4.6h-4.6zM320.8,653.1h4.6v4.6h-4.6zM323.3,651.5h4.6v4.6h-4.6zM325.8,649.6h4.6v4.6h-4.6zM328.4,650.1h4.6v4.6h-4.6zM330.9,649.1h4.6v4.6h-4.6zM333.5,650.0h4.6v4.6h-4.6zM336.0,649.1h4.6v4.6h-4.6zM338.5,649.9h4.6v4.6h-4.6zM341.1,649.9h4.6v4.6h-4.6zM343.6,651.0h4.6v4.6h-4.6zM346.2,652.3h4.6v4.6h-4.6zM361.4,668.4h4.6v4.6h-4.6zM363.9,668.9h4.6v4.6h-4.6zM366.5,668.2h4.6v4.6h-4.6zM369.0,666.2h4.6v4.6h-4.6zM371.6,665.0h4.6v4.6h-4.6zM374.1,663.6h4.6v4.6h-4.6zM376.6,663.8h4.6v4.6h-4.6zM379.2,662.6h4.6v4.6h-4.6zM381.7,662.0h4.6v4.6h-4.6zM384.3,659.4h4.6v4.6h-4.6zM386.8,658.8h4.6v4.6h-4.6zM389.3,657.1h4.6v4.6h-4.6zM391.9,656.9h4.6v4.6h-4.6zM394.4,656.8h4.6v4.6h-4.6zM397.0,656.5h4.6v4.6h-4.6zM399.5,656.4h4.6v4.6h-4.6zM402.0,655.3h4.6v4.6h-4.6zM404.6,656.3h4.6v4.6h-4.6zM407.1,656.6h4.6v4.6h-4.6zM409.7,657.5h4.6v4.6h-4.6zM412.2,657.1h4.6v4.6h-4.6zM414.7,657.0h4.6v4.6h-4.6zM417.3,656.3h4.6v4.6h-4.6zM419.8,654.7h4.6v4.6h-4.6zM422.4,655.4h4.6v4.6h-4.6zM424.9,655.8h4.6v4.6h-4.6zM427.4,656.8h4.6v4.6h-4.6zM430.0,655.5h4.6v4.6h-4.6zM432.5,656.3h4.6v4.6h-4.6zM435.1,656.8h4.6v4.6h-4.6zM437.6,657.2h4.6v4.6h-4.6zM440.1,656.1h4.6v4.6h-4.6zM442.7,655.0h4.6v4.6h-4.6zM445.2,655.5h4.6v4.6h-4.6zM447.8,656.4h4.6v4.6h-4.6zM450.3,657.2h4.6v4.6h-4.6zM452.8,656.0h4.6v4.6h-4.6zM455.4,655.6h4.6v4.6h-4.6zM457.9,655.9h4.6v4.6h-4.6zM460.5,656.6h4.6v4.6h-4.6zM463.0,656.6h4.6v4.6h-4.6zM465.5,655.9h4.6v4.6h-4.6zM468.1,656.6h4.6v4.6h-4.6zM470.6,655.9h4.6v4.6h-4.6zM473.2,656.2h4.6v4.6h-4.6zM475.7,655.9h4.6v4.6h-4.6zM478.2,656.9h4.6v4.6h-4.6zM480.8,656.4h4.6v4.6h-4.6zM483.3,655.5h4.6v4.6h-4.6zM485.9,654.6h4.6v4.6h-4.6zM488.4,655.3h4.6v4.6h-4.6zM490.9,656.0h4.6v4.6h-4.6zM493.5,656.6h4.6v4.6h-4.6zM496.0,656.0h4.6v4.6h-4.6zM498.6,656.4h4.6v4.6h-4.6zM501.1,655.4h4.6v4.6h-4.6z" stroke="#000" stroke-width="1.80"/>
<path d="M203.7,644.6h5.0v5.0h-5.0zM206.3,647.9h5.0v5.0h-5.0zM208.8,650.7h5.0v5.0h-5.0zM211.3,654.5h5.0v5.0h-5.0zM348.5,654.4h5.0v5.0h-5.0zM351.0,657.5h5.0v5.0h-5.0zM353.6,660.3h5.0v5.0h-5.0zM356.1,662.8h5.0v5.0h-5.0zM358.7,666.1h5.0v5.0h-5.0z" stroke="#000" stroke-width="2.20"/>
<path d="M105.2,682.9h4.6v4.6h-4.6zM107.7,682.6h4.6v4.6h-4.6zM110.3,682.5h4.6v4.6h-4.6zM112.8,681.9h4.6v4.6h-4.6zM115.4,682.5h4.6v4.6h-4.6zM117.9,682.9h4.6v4.6h-4.6zM120.4,683.6h4.6v4.6h-4.6zM123.0,683.7h4.6v4.6h-4.6zM125.5,683.6h4.6v4.6h-4.6zM128.1,683.8h4.6v4.6h-4.6zM130.6,683.8h4.6v4.6h-4.6zM133.1,683.6h4.6v4.6h-4.6zM135.7,683.4h4.6v4.6h-4.6zM138.2,683.8h4.6v4.6h-4.6zM140.8,684.4h4.6v4.6h-4.6zM143.3,684.1h4.6v4.6h-4.6zM145.8,683.8h4.6v4.6h-4.6zM148.4,684.1h4.6v4.6h-4.6zM150.9,684.1h4.6v4.6h-4.6zM153.5,683.9h4.6v4.6h-4.6zM156.0,683.0h4.6v4.6h-4.6zM158.5,682.3h4.6v4.6h-4.6zM161.1,682.4h4.6v4.6h-4.6zM163.6,682.3h4.6v4.6h-4.6zM166.2,683.3h4.6v4.6h-4.6zM168.7,683.0h4.6v4.6h-4.6zM171.2,682.8h4.6v4.6h-4.6zM173.8,681.9h4.6v4.6h-4.6zM176.3,681.1h4.6v4.6h-4.6zM178.9,680.6h4.6v4.6h-4.6zM181.4,679.9h4.6v4.6h-4.6zM183.9,679.0h4.6v4.6h-4.6zM186.5,678.5h4.6v4.6h-4.6zM189.0,677.8h4.6v4.6h-4.6zM191.6,677.2h4.6v4.6h-4.6zM194.1,675.8h4.6v4.6h-4.6zM196.6,674.7h4.6v4.6h-4.6zM199.2,674.8h4.6v4.6h-4.6zM201.7,675.0h4.6v4.6h-4.6zM204.3,675.9h4.6v4.6h-4.6zM206.8,676.9h4.6v4.6h-4.6zM209.3,678.4h4.6v4.6h-4.6zM211.9,679.5h4.6v4.6h-4.6zM214.4,680.4h4.6v4.6h-4.6zM217.0,680.7h4.6v4.6h-4.6zM219.5,681.9h4.6v4.6h-4.6zM222.0,683.1h4.6v4.6h-4.6zM224.6,684.1h4.6v4.6h-4.6zM227.1,684.4h4.6v4.6h-4.6zM229.7,683.9h4.6v4.6h-4.6zM232.2,683.6h4.6v4.6h-4.6zM234.7,684.0h4.6v4.6h-4.6zM237.3,684.1h4.6v4.6h-4.6zM239.8,684.6h4.6v4.6h-4.6zM242.4,684.3h4.6v4.6h-4.6zM244.9,684.1h4.6v4.6h-4.6zM247.4,684.4h4.6v4.6h-4.6zM250.0,684.2h4.6v4.6h-4.6zM252.5,683.6h4.6v4.6h-4.6zM255.1,683.7h4.6v4.6h-4.6zM257.6,683.7h4.6v4.6h-4.6zM260.1,683.7h4.6v4.6h-4.6zM262.7,682.9h4.6v4.6h-4.6zM265.2,682.5h4.6v4.6h-4.6zM267.8,682.9h4.6v4.6h-4.6zM270.3,683.0h4.6v4.6h-4.6zM272.8,682.6h4.6v4.6h-4.6zM275.4,682.4h4.6v4.6h-4.6zM277.9,681.9h4.6v4.6h-4.6zM280.5,681.8h4.6v4.6h-4.6zM283.0,681.9h4.6v4.6h-4.6zM285.5,682.2h4.6v4.6h-4.6zM288.1,682.5h4.6v4.6h-4.6zM290.6,682.4h4.6v4.6h-4.6zM293.2,682.8h4.6v4.6h-4.6zM295.7,682.5h4.6v4.6h-4.6zM298.2,682.4h4.6v4.6h-4.6zM300.8,681.4h4.6v4.6h-4.6zM303.3,681.5h4.6v4.6h-4.6zM305.9,681.4h4.6v4.6h-4.6zM308.4,682.0h4.6v4.6h-4.6zM310.9,681.8h4.6v4.6h-4.6zM313.5,681.7h4.6v4.6h-4.6zM316.0,681.8h4.6v4.6h-4.6zM318.6,681.1h4.6v4.6h-4.6zM321.1,680.2h4.6v4.6h-4.6zM323.6,678.7h4.6v4.6h-4.6zM326.2,678.3h4.6v4.6h-4.6zM328.7,678.0h4.6v4.6h-4.6zM331.3,677.0h4.6v4.6h-4.6zM333.8,675.9h4.6v4.6h-4.6zM336.3,675.1h4.6v4.6h-4.6zM338.9,675.5h4.6v4.6h-4.6zM341.4,677.0h4.6v4.6h-4.6zM344.0,678.9h4.6v4.6h-4.6zM346.5,680.8h4.6v4.6h-4.6zM349.0,681.3h4.6v4.6h-4.6zM351.6,683.0h4.6v4.6h-4.6zM354.1,684.4h4.6v4.6h-4.6zM356.7,686.8h4.6v4.6h-4.6zM359.2,688.1h4.6v4.6h-4.6zM361.7,689.7h4.6v4.6h-4.6zM364.3,690.0h4.6v4.6h-4.6zM366.8,689.7h4.6v4.6h-4.6zM369.4,688.7h4.6v4.6h-4.6zM371.9,687.6h4.6v4.6h-4.6zM374.4,686.6h4.6v4.6h-4.6zM377.0,685.9h4.6v4.6h-4.6zM379.5,685.4h4.6v4.6h-4.6zM382.1,684.6h4.6v4.6h-4.6zM384.6,684.1h4.6v4.6h-4.6zM387.1,682.7h4.6v4.6h-4.6zM389.7,682.9h4.6v4.6h-4.6zM392.2,682.7h4.6v4.6h-4.6zM394.8,682.9h4.6v4.6h-4.6zM397.3,682.7h4.6v4.6h-4.6zM399.8,682.1h4.6v4.6h-4.6zM402.4,682.6h4.6v4.6h-4.6zM404.9,682.2h4.6v4.6h-4.6zM407.5,682.6h4.6v4.6h-4.6zM410.0,681.9h4.6v4.6h-4.6zM412.5,682.0h4.6v4.6h-4.6zM415.1,682.0h4.6v4.6h-4.6zM417.6,682.1h4.6v4.6h-4.6zM420.2,681.7h4.6v4.6h-4.6zM422.7,681.7h4.6v4.6h-4.6zM425.2,682.3h4.6v4.6h-4.6zM427.8,682.6h4.6v4.6h-4.6zM430.3,683.1h4.6v4.6h-4.6zM432.9,682.6h4.6v4.6h-4.6zM435.4,682.9h4.6v4.6h-4.6zM437.9,682.5h4.6v4.6h-4.6zM440.5,682.3h4.6v4.6h-4.6zM443.0,682.6h4.6v4.6h-4.6zM445.6,682.6h4.6v4.6h-4.6zM448.1,683.1h4.6v4.6h-4.6zM450.6,683.0h4.6v4.6h-4.6zM453.2,683.0h4.6v4.6h-4.6zM455.7,683.2h4.6v4.6h-4.6zM458.3,682.6h4.6v4.6h-4.6zM460.8,683.0h4.6v4.6h-4.6zM463.3,682.9h4.6v4.6h-4.6zM465.9,682.9h4.6v4.6h-4.6zM468.4,682.1h4.6v4.6h-4.6zM471.0,681.7h4.6v4.6h-4.6zM473.5,682.0h4.6v4.6h-4.6zM476.0,682.7h4.6v4.6h-4.6zM478.6,683.0h4.6v4.6h-4.6zM481.1,683.5h4.6v4.6h-4.6zM483.7,682.7h4.6v4.6h-4.6zM486.2,683.4h4.6v4.6h-4.6zM488.7,683.1h4.6v4.6h-4.6zM491.3,683.7h4.6v4.6h-4.6zM493.8,682.4h4.6v4.6h-4.6zM496.4,682.1h4.6v4.6h-4.6zM498.9,681.8h4.6v4.6h-4.6zM501.4,682.5h4.6v4.6h-4.6z" stroke="#000" stroke-width="1.80"/>
<path d="M104.1,704.8h4.6v4.6h-4.6zM106.6,704.3h4.6v4.6h-4.6zM109.2,704.8h4.6v4.6h-4.6zM111.7,704.4h4.6v4.6h-4.6zM114.3,705.0h4.6v4.6h-4.6zM116.8,705.1h4.6v4.6h-4.6zM119.3,705.2h4.6v4.6h-4.6zM121.9,704.8h4.6v4.6h-4.6zM124.4,704.3h4.6v4.6h-4.6zM127.0,704.0h4.6v4.6h-4.6zM129.5,704.6h4.6v4.6h-4.6zM132.0,705.0h4.6v4.6h-4.6zM134.6,705.1h4.6v4.6h-4.6zM137.1,704.8h4.6v4.6h-4.6zM139.7,704.6h4.6v4.6h-4.6zM142.2,704.8h4.6v4.6h-4.6zM144.7,704.7h4.6v4.6h-4.6zM147.3,704.9h4.6v4.6h-4.6zM149.8,705.1h4.6v4.6h-4.6zM152.4,704.5h4.6v4.6h-4.6zM154.9,704.3h4.6v4.6h-4.6zM157.4,703.9h4.6v4.6h-4.6zM160.0,703.8h4.6v4.6h-4.6zM162.5,703.7h4.6v4.6h-4.6zM165.1,704.5h4.6v4.6h-4.6zM167.6,704.8h4.6v4.6h-4.6zM170.1,704.7h4.6v4.6h-4.6zM172.7,704.2h4.6v4.6h-4.6zM175.2,704.7h4.6v4.6h-4.6zM177.8,704.6h4.6v4.6h-4.6zM180.3,704.1h4.6v4.6h-4.6zM182.8,702.6h4.6v4.6h-4.6zM185.4,701.7h4.6v4.6h-4.6zM187.9,700.6h4.6v4.6h-4.6zM190.5,699.8h4.6v4.6h-4.6zM193.0,699.1h4.6v4.6h-4.6zM195.5,698.9h4.6v4.6h-4.6zM198.1,698.4h4.6v4.6h-4.6zM200.6,697.9h4.6v4.6h-4.6zM203.2,698.0h4.6v4.6h-4.6zM205.7,698.8h4.6v4.6h-4.6zM208.2,699.9h4.6v4.6h-4.6zM210.8,700.8h4.6v4.6h-4.6zM213.3,702.1h4.6v4.6h-4.6zM215.9,702.6h4.6v4.6h-4.6zM218.4,703.7h4.6v4.6h-4.6zM220.9,704.4h4.6v4.6h-4.6zM223.5,705.8h4.6v4.6h-4.6zM226.0,706.1h4.6v4.6h-4.6zM228.6,706.6h4.6v4.6h-4.6zM231.1,706.7h4.6v4.6h-4.6zM233.6,706.4h4.6v4.6h-4.6zM236.2,706.3h4.6v4.6h-4.6zM238.7,706.2h4.6v4.6h-4.6zM241.3,706.4h4.6v4.6h-4.6zM243.8,706.7h4.6v4.6h-4.6zM246.3,706.6h4.6v4.6h-4.6zM248.9,706.8h4.6v4.6h-4.6zM251.4,706.2h4.6v4.6h-4.6zM254.0,705.9h4.6v4.6h-4.6zM256.5,705.6h4.6v4.6h-4.6zM259.0,705.5h4.6v4.6h-4.6zM261.6,705.0h4.6v4.6h-4.6zM264.1,705.0h4.6v4.6h-4.6zM266.7,705.2h4.6v4.6h-4.6zM269.2,705.5h4.6v4.6h-4.6zM271.7,705.4h4.6v4.6h-4.6zM274.3,705.3h4.6v4.6h-4.6zM276.8,705.1h4.6v4.6h-4.6zM279.4,704.5h4.6v4.6h-4.6zM281.9,704.1h4.6v4.6h-4.6zM284.4,703.6h4.6v4.6h-4.6zM287.0,703.4h4.6v4.6h-4.6zM289.5,703.3h4.6v4.6h-4.6zM292.1,703.1h4.6v4.6h-4.6zM294.6,703.6h4.6v4.6h-4.6zM297.1,703.7h4.6v4.6h-4.6zM299.7,704.1h4.6v4.6h-4.6zM302.2,703.9h4.6v4.6h-4.6zM304.8,703.0h4.6v4.6h-4.6zM307.3,702.2h4.6v4.6h-4.6zM309.8,701.7h4.6v4.6h-4.6zM312.4,702.0h4.6v4.6h-4.6zM314.9,702.3h4.6v4.6h-4.6zM317.5,702.1h4.6v4.6h-4.6zM320.0,701.9h4.6v4.6h-4.6zM322.5,701.7h4.6v4.6h-4.6zM325.1,701.5h4.6v4.6h-4.6zM327.6,701.1h4.6v4.6h-4.6zM330.2,701.0h4.6v4.6h-4.6zM332.7,700.7h4.6v4.6h-4.6zM335.2,701.1h4.6v4.6h-4.6zM337.8,701.6h4.6v4.6h-4.6zM340.3,702.7h4.6v4.6h-4.6zM342.9,703.6h4.6v4.6h-4.6zM345.4,704.3h4.6v4.6h-4.6zM347.9,705.1h4.6v4.6h-4.6zM350.5,705.7h4.6v4.6h-4.6zM353.0,706.3h4.6v4.6h-4.6zM355.6,706.5h4.6v4.6h-4.6zM358.1,706.8h4.6v4.6h-4.6zM360.6,707.4h4.6v4.6h-4.6zM363.2,707.4h4.6v4.6h-4.6zM365.7,707.6h4.6v4.6h-4.6zM368.3,706.8h4.6v4.6h-4.6zM370.8,706.4h4.6v4.6h-4.6zM373.3,705.2h4.6v4.6h-4.6zM375.9,705.1h4.6v4.6h-4.6zM378.4,705.0h4.6v4.6h-4.6zM381.0,705.2h4.6v4.6h-4.6zM383.5,704.7h4.6v4.6h-4.6zM386.0,703.7h4.6v4.6h-4.6zM388.6,704.0h4.6v4.6h-4.6zM391.1,703.8h4.6v4.6h-4.6zM393.7,704.5h4.6v4.6h-4.6zM396.2,703.7h4.6v4.6h-4.6zM398.7,703.6h4.6v4.6h-4.6zM401.3,703.5h4.6v4.6h-4.6zM403.8,703.6h4.6v4.6h-4.6zM406.4,703.7h4.6v4.6h-4.6zM408.9,703.2h4.6v4.6h-4.6zM411.4,703.2h4.6v4.6h-4.6zM414.0,703.1h4.6v4.6h-4.6zM416.5,702.9h4.6v4.6h-4.6zM419.1,703.2h4.6v4.6h-4.6zM421.6,703.3h4.6v4.6h-4.6zM424.1,703.5h4.6v4.6h-4.6zM426.7,703.6h4.6v4.6h-4.6zM429.2,703.3h4.6v4.6h-4.6zM431.8,702.8h4.6v4.6h-4.6zM434.3,702.5h4.6v4.6h-4.6zM436.8,702.7h4.6v4.6h-4.6zM439.4,702.9h4.6v4.6h-4.6zM441.9,702.7h4.6v4.6h-4.6zM444.5,702.2h4.6v4.6h-4.6zM447.0,702.2h4.6v4.6h-4.6zM449.5,702.0h4.6v4.6h-4.6zM452.1,702.4h4.6v4.6h-4.6zM454.6,702.8h4.6v4.6h-4.6zM457.2,703.1h4.6v4.6h-4.6zM459.7,703.2h4.6v4.6h-4.6zM462.2,702.7h4.6v4.6h-4.6zM464.8,702.6h4.6v4.6h-4.6zM467.3,703.0h4.6v4.6h-4.6zM469.9,703.2h4.6v4.6h-4.6zM472.4,703.2h4.6v4.6h-4.6zM474.9,702.9h4.6v4.6h-4.6zM477.5,703.1h4.6v4.6h-4.6zM480.0,703.4h4.6v4.6h-4.6zM482.6,703.7h4.6v4.6h-4.6zM485.1,703.8h4.6v4.6h-4.6zM487.6,703.8h4.6v4.6h-4.6zM490.2,704.0h4.6v4.6h-4.6zM492.7,704.2h4.6v4.6h-4.6zM495.3,704.7h4.6v4.6h-4.6zM497.8,704.2h4.6v4.6h-4.6zM500.3,704.2h4.6v4.6h-4.6z" stroke="#000" stroke-width="1.80"/>
<path d="M94.7,730.9h4.6v4.6h-4.6zM97.2,730.7h4.6v4.6h-4.6zM99.8,730.4h4.6v4.6h-4.6zM102.3,730.2h4.6v4.6h-4.6zM104.9,730.3h4.6v4.6h-4.6zM107.4,730.9h4.6v4.6h-4.6zM109.9,730.7h4.6v4.6h-4.6zM112.5,730.5h4.6v4.6h-4.6zM115.0,730.3h4.6v4.6h-4.6zM117.6,730.6h4.6v4.6h-4.6zM120.1,730.8h4.6v4.6h-4.6zM122.6,730.6h4.6v4.6h-4.6zM125.2,730.6h4.6v4.6h-4.6zM127.7,731.0h4.6v4.6h-4.6zM130.3,731.0h4.6v4.6h-4.6zM132.8,731.3h4.6v4.6h-4.6zM135.3,731.2h4.6v4.6h-4.6zM137.9,731.3h4.6v4.6h-4.6zM140.4,731.2h4.6v4.6h-4.6zM143.0,730.9h4.6v4.6h-4.6zM145.5,730.9h4.6v4.6h-4.6zM148.0,730.3h4.6v4.6h-4.6zM150.6,730.8h4.6v4.6h-4.6zM153.1,730.6h4.6v4.6h-4.6zM155.7,730.9h4.6v4.6h-4.6zM158.2,730.4h4.6v4.6h-4.6zM160.7,730.4h4.6v4.6h-4.6zM163.3,730.4h4.6v4.6h-4.6zM165.8,730.0h4.6v4.6h-4.6zM168.4,730.0h4.6v4.6h-4.6zM170.9,729.9h4.6v4.6h-4.6zM173.4,730.0h4.6v4.6h-4.6zM176.0,729.8h4.6v4.6h-4.6zM178.5,729.1h4.6v4.6h-4.6zM181.1,729.2h4.6v4.6h-4.6zM183.6,729.0h4.6v4.6h-4.6zM186.1,729.0h4.6v4.6h-4.6zM188.7,728.4h4.6v4.6h-4.6zM191.2,728.6h4.6v4.6h-4.6zM193.8,728.5h4.6v4.6h-4.6zM196.3,728.4h4.6v4.6h-4.6zM198.8,728.0h4.6v4.6h-4.6zM201.4,728.4h4.6v4.6h-4.6zM203.9,729.1h4.6v4.6h-4.6zM206.5,729.9h4.6v4.6h-4.6zM209.0,730.2h4.6v4.6h-4.6zM211.5,730.7h4.6v4.6h-4.6zM214.1,731.2h4.6v4.6h-4.6zM216.6,731.5h4.6v4.6h-4.6zM219.2,731.7h4.6v4.6h-4.6zM221.7,731.7h4.6v4.6h-4.6zM224.2,732.2h4.6v4.6h-4.6zM226.8,732.2h4.6v4.6h-4.6zM229.3,732.3h4.6v4.6h-4.6zM231.9,732.2h4.6v4.6h-4.6zM234.4,732.5h4.6v4.6h-4.6zM236.9,732.7h4.6v4.6h-4.6zM239.5,732.8h4.6v4.6h-4.6zM242.0,732.5h4.6v4.6h-4.6zM244.6,732.2h4.6v4.6h-4.6zM247.1,731.9h4.6v4.6h-4.6zM249.6,732.2h4.6v4.6h-4.6zM252.2,731.9h4.6v4.6h-4.6zM254.7,731.4h4.6v4.6h-4.6zM257.3,731.1h4.6v4.6h-4.6zM259.8,731.3h4.6v4.6h-4.6zM262.3,731.9h4.6v4.6h-4.6zM264.9,731.5h4.6v4.6h-4.6zM267.4,731.6h4.6v4.6h-4.6zM270.0,731.3h4.6v4.6h-4.6zM272.5,731.0h4.6v4.6h-4.6zM275.0,730.9h4.6v4.6h-4.6zM277.6,730.6h4.6v4.6h-4.6zM280.1,731.0h4.6v4.6h-4.6zM282.7,731.0h4.6v4.6h-4.6zM285.2,731.3h4.6v4.6h-4.6zM287.7,731.0h4.6v4.6h-4.6zM290.3,730.9h4.6v4.6h-4.6zM292.8,730.1h4.6v4.6h-4.6zM295.4,730.2h4.6v4.6h-4.6zM297.9,729.7h4.6v4.6h-4.6zM300.4,730.2h4.6v4.6h-4.6zM303.0,730.2h4.6v4.6h-4.6zM305.5,730.5h4.6v4.6h-4.6zM308.1,730.2h4.6v4.6h-4.6zM310.6,730.3h4.6v4.6h-4.6zM313.1,730.7h4.6v4.6h-4.6zM315.7,731.0h4.6v4.6h-4.6zM318.2,731.1h4.6v4.6h-4.6zM320.8,731.2h4.6v4.6h-4.6zM323.3,731.2h4.6v4.6h-4.6zM325.8,731.2h4.6v4.6h-4.6zM328.4,731.0h4.6v4.6h-4.6zM330.9,730.9h4.6v4.6h-4.6zM333.5,730.8h4.6v4.6h-4.6zM336.0,731.4h4.6v4.6h-4.6zM338.5,731.8h4.6v4.6h-4.6zM341.1,732.4h4.6v4.6h-4.6zM343.6,732.5h4.6v4.6h-4.6zM346.2,732.6h4.6v4.6h-4.6zM348.7,732.4h4.6v4.6h-4.6zM351.2,732.7h4.6v4.6h-4.6zM353.8,732.8h4.6v4.6h-4.6zM356.3,732.8h4.6v4.6h-4.6zM358.9,733.1h4.6v4.6h-4.6zM361.4,733.3h4.6v4.6h-4.6zM363.9,733.4h4.6v4.6h-4.6zM366.5,732.7h4.6v4.6h-4.6zM369.0,731.9h4.6v4.6h-4.6zM371.6,731.9h4.6v4.6h-4.6zM374.1,731.8h4.6v4.6h-4.6zM376.6,731.6h4.6v4.6h-4.6zM379.2,730.7h4.6v4.6h-4.6zM381.7,730.3h4.6v4.6h-4.6zM384.3,730.7h4.6v4.6h-4.6zM386.8,731.2h4.6v4.6h-4.6zM389.3,731.2h4.6v4.6h-4.6zM391.9,730.8h4.6v4.6h-4.6zM394.4,730.9h4.6v4.6h-4.6zM397.0,731.3h4.6v4.6h-4.6zM399.5,731.6h4.6v4.6h-4.6zM402.0,731.2h4.6v4.6h-4.6zM404.6,730.4h4.6v4.6h-4.6zM407.1,730.3h4.6v4.6h-4.6zM409.7,730.3h4.6v4.6h-4.6zM412.2,730.2h4.6v4.6h-4.6zM414.7,730.1h4.6v4.6h-4.6zM417.3,729.9h4.6v4.6h-4.6zM419.8,730.0h4.6v4.6h-4.6zM422.4,730.2h4.6v4.6h-4.6zM424.9,730.3h4.6v4.6h-4.6zM427.4,730.4h4.6v4.6h-4.6zM430.0,730.3h4.6v4.6h-4.6zM432.5,730.2h4.6v4.6h-4.6zM435.1,730.7h4.6v4.6h-4.6zM437.6,730.7h4.6v4.6h-4.6zM440.1,730.7h4.6v4.6h-4.6zM442.7,730.5h4.6v4.6h-4.6zM445.2,730.0h4.6v4.6h-4.6zM447.8,730.3h4.6v4.6h-4.6zM450.3,730.1h4.6v4.6h-4.6zM452.8,730.4h4.6v4.6h-4.6zM455.4,730.6h4.6v4.6h-4.6zM457.9,730.6h4.6v4.6h-4.6zM460.5,730.5h4.6v4.6h-4.6zM463.0,730.1h4.6v4.6h-4.6zM465.5,729.8h4.6v4.6h-4.6zM468.1,729.6h4.6v4.6h-4.6zM470.6,729.5h4.6v4.6h-4.6zM473.2,729.5h4.6v4.6h-4.6zM475.7,729.5h4.6v4.6h-4.6zM478.2,729.9h4.6v4.6h-4.6zM480.8,730.0h4.6v4.6h-4.6zM483.3,730.6h4.6v4.6h-4.6zM485.9,731.0h4.6v4.6h-4.6zM488.4,730.8h4.6v4.6h-4.6zM490.9,730.6h4.6v4.6h-4.6zM493.5,729.9h4.6v4.6h-4.6zM496.0,730.3h4.6v4.6h-4.6zM498.6,730.3h4.6v4.6h-4.6zM501.1,730.2h4.6v4.6h-4.6z" stroke="#000" stroke-width="1.80"/>
<path d="M97.0,684.8H108.5" stroke="#000" stroke-width="6.6"/>
<rect x="99.2" y="683.8" width="2" height="2" fill="#fff" stroke="none"/>
<rect x="103.7" y="683.8" width="2" height="2" fill="#fff" stroke="none"/>
<path d="M97.0,707.1H107.5" stroke="#000" stroke-width="6.6"/>
<rect x="99.2" y="706.1" width="2" height="2" fill="#fff" stroke="none"/>
<rect x="103.7" y="706.1" width="2" height="2" fill="#fff" stroke="none"/>
<rect x="187.0" y="427.5" width="5" height="5" stroke="#000" stroke-width="1.6" fill="#fff"/>
<rect x="207.5" y="506.7" width="5" height="5" stroke="#000" stroke-width="1.6" fill="#fff"/>
<rect x="210.5" y="552.9" width="5" height="5" stroke="#000" stroke-width="1.6" fill="#fff"/>
<rect x="216.2" y="598.8" width="5" height="5" stroke="#000" stroke-width="1.6" fill="#fff"/>
<path d="M97.0,471.0C106.3,471.0 115.7,470.7 125.0,470.4C134.6,470.1 144.1,469.3 153.7,467.9C156.9,467.4 160.1,466.5 163.3,465.2C166.5,463.9 169.7,461.6 172.9,458.5C175.5,456.0 178.0,451.3 180.6,447.0C182.4,444.0 184.2,439.5 186.0,437.0C187.4,435.1 188.7,432.4 190.1,432.4C191.7,432.4 193.2,444.2 194.8,451.9C195.9,457.5 197.1,465.3 198.2,472.1C199.3,478.7 200.4,486.9 201.5,492.3C202.6,497.9 203.8,506.4 204.9,506.4C206.5,506.4 208.0,502.8 209.6,500.4C211.4,497.6 213.2,492.7 215.0,489.6C216.8,486.5 218.6,483.2 220.4,481.5C223.1,478.9 225.8,477.2 228.5,476.1C231.6,474.9 234.8,474.0 237.9,473.5C241.9,472.8 246.0,472.6 250.0,472.1C253.1,471.7 256.1,471.0 259.2,470.9C265.6,470.6 272.1,470.4 278.5,470.4C284.9,470.4 291.3,470.8 297.7,470.8C305.1,470.8 312.6,470.1 320.0,469.2C324.1,468.7 328.2,466.4 332.3,465.6C335.9,464.9 339.5,463.9 343.1,463.9C344.9,463.9 346.7,465.3 348.5,466.9C349.8,468.0 351.0,471.6 352.3,473.8C353.8,476.5 355.4,479.2 356.9,481.5C358.7,484.2 360.5,488.9 362.3,488.9C364.1,488.9 365.9,486.5 367.7,484.6C369.2,483.0 370.8,479.2 372.3,477.7C374.4,475.6 376.4,473.9 378.5,473.1C381.6,471.9 384.6,471.1 387.7,470.8C391.8,470.5 395.9,470.2 400.0,470.2C410.0,470.2 420.0,470.5 430.0,470.5C454.7,470.5 479.3,470.5 504.0,470.2" stroke="#e81018" stroke-width="3.1"/>
<path d="M97.0,526.2C106.3,526.2 115.5,526.1 124.8,526.0C131.2,525.9 137.6,525.6 144.0,525.2C149.2,524.9 154.3,524.2 159.5,523.3C162.7,522.7 165.8,521.9 169.0,520.4C171.6,519.2 174.2,516.0 176.8,512.7C178.7,510.3 180.6,506.2 182.5,503.0C184.4,499.8 186.4,496.1 188.3,493.5C189.7,491.6 191.2,488.6 192.6,488.6C194.2,488.6 195.9,494.3 197.5,500.2C198.4,503.5 199.3,513.2 200.2,517.7C201.5,524.4 202.9,529.0 204.2,533.8C206.0,540.2 207.8,551.0 209.6,551.0C211.4,551.0 213.2,548.1 215.0,546.0C216.8,543.9 218.6,540.0 220.4,537.9C222.6,535.3 224.9,533.0 227.1,531.8C230.2,530.2 233.4,529.2 236.5,528.5C241.0,527.5 245.5,526.7 250.0,526.4C256.3,526.0 262.5,525.8 268.8,525.6C278.4,525.2 288.1,525.0 297.7,524.6C305.1,524.3 312.6,523.9 320.0,523.1C324.1,522.6 328.2,521.2 332.3,520.0C334.9,519.3 337.4,518.4 340.0,517.5C342.1,516.8 344.1,515.4 346.2,515.4C347.7,515.4 349.3,516.0 350.8,516.9C352.3,517.8 353.9,523.1 355.4,526.2C356.9,529.3 358.5,532.8 360.0,535.4C361.5,538.0 363.1,542.3 364.6,542.3C366.7,542.3 368.7,537.6 370.8,535.4C372.8,533.2 374.9,530.4 376.9,529.2C380.0,527.3 383.1,526.0 386.2,525.4C390.8,524.5 395.4,523.8 400.0,523.8C434.7,523.8 469.3,523.8 504.0,524.0" stroke="#e81018" stroke-width="3.1"/>
<path d="M97.0,579.0C114.7,579.0 132.3,578.9 150.0,578.8C156.7,578.7 163.3,576.5 170.0,573.8C174.2,572.0 178.3,565.4 182.5,561.2C186.2,557.5 190.0,550.0 193.8,550.0C196.7,550.0 199.6,558.6 202.5,565.0C205.0,570.5 207.5,581.9 210.0,587.5C211.8,591.6 213.7,597.5 215.5,597.5C218.7,597.5 221.8,592.0 225.0,590.0C230.0,586.8 235.0,583.4 240.0,582.3C249.6,580.2 259.2,579.0 268.8,578.5C278.4,578.0 288.1,577.5 297.7,577.5C305.1,577.5 312.6,577.6 320.0,577.6C324.1,577.6 328.2,575.8 332.3,574.8C335.4,574.1 338.4,572.4 341.5,572.4C344.1,572.4 346.6,573.4 349.2,574.6C351.3,575.6 353.3,579.6 355.4,582.3C357.4,585.0 359.5,588.9 361.5,590.8C363.3,592.5 365.1,594.6 366.9,594.6C368.7,594.6 370.5,592.4 372.3,590.8C374.4,589.0 376.4,585.4 378.5,583.8C381.1,581.8 383.6,579.7 386.2,579.2C390.8,578.3 395.4,577.9 400.0,577.7C410.0,577.2 420.0,576.8 430.0,576.8C454.7,576.8 479.3,576.8 504.0,577.7" stroke="#e81018" stroke-width="3.1"/>
<path d="M97.0,632.3C108.0,632.3 119.0,632.3 130.0,632.3C136.7,632.3 143.3,632.2 150.0,632.0C154.1,631.9 158.2,631.1 162.3,630.2C165.9,629.4 169.5,627.1 173.1,625.0C175.7,623.5 178.2,621.9 180.8,619.6C182.8,617.7 184.9,613.5 186.9,611.9C189.7,609.7 192.6,607.3 195.4,607.3C197.2,607.3 199.0,608.8 200.8,610.4C202.3,611.7 203.9,615.1 205.4,618.1C206.9,621.1 208.5,625.2 210.0,628.8C211.5,632.4 213.1,637.5 214.6,639.6C216.5,642.2 218.4,645.0 220.3,645.0C223.5,645.0 226.8,641.7 230.0,640.5C236.7,638.0 243.3,635.7 250.0,634.5C258.3,633.0 266.7,632.0 275.0,631.3C283.3,630.6 291.7,629.6 300.0,629.6C306.7,629.6 313.3,629.6 320.0,629.6C323.1,629.6 326.1,626.9 329.2,625.6C332.3,624.3 335.4,621.6 338.5,621.6C340.5,621.6 342.6,621.9 344.6,622.3C346.7,622.7 348.7,626.0 350.8,628.5C352.8,630.9 354.9,635.2 356.9,637.7C359.5,640.8 362.0,645.4 364.6,645.4C366.7,645.4 368.7,643.6 370.8,642.3C373.4,640.7 375.9,636.9 378.5,635.4C381.6,633.6 384.6,632.0 387.7,631.5C391.8,630.8 395.9,630.3 400.0,630.3C410.0,630.3 420.0,630.8 430.0,630.8C454.7,630.8 479.3,630.8 504.0,630.6" stroke="#e81018" stroke-width="3.1"/>
<path d="M97.0,658.7C108.0,658.8 119.0,658.8 130.0,658.8C136.7,658.8 143.3,658.7 150.0,658.5C155.1,658.4 160.3,657.4 165.4,656.5C170.5,655.6 175.7,654.0 180.8,651.9C183.9,650.7 186.9,647.9 190.0,646.5C192.6,645.3 195.1,643.5 197.7,643.5C199.7,643.5 201.8,644.7 203.8,645.8C206.4,647.2 208.9,652.3 211.5,655.0C214.1,657.7 216.6,660.9 219.2,662.2C221.1,663.2 223.1,664.3 225.0,664.3C229.2,664.3 233.3,663.0 237.5,662.5C245.8,661.5 254.2,660.7 262.5,660.0C275.0,658.9 287.5,657.2 300.0,657.2C304.6,657.2 309.2,657.7 313.8,657.7C316.9,657.7 319.9,656.2 323.0,655.4C327.6,654.2 332.3,651.9 336.9,651.9C340.0,651.9 343.1,652.4 346.2,653.1C349.3,653.8 352.3,659.3 355.4,662.3C358.5,665.3 361.5,671.3 364.6,671.3C367.7,671.3 370.7,669.3 373.8,668.1C378.4,666.4 383.1,663.4 387.7,662.3C393.1,661.0 398.4,659.9 403.8,659.5C409.2,659.1 414.6,658.9 420.0,658.8C448.0,658.3 476.0,658.0 504.0,658.0" stroke="#e81018" stroke-width="3.1"/>
<path d="M107.5,684.8C121.7,686.2 135.8,686.2 150.0,686.2C158.9,686.2 167.9,685.3 176.8,684.2C181.3,683.6 185.7,681.6 190.2,680.2C193.6,679.1 197.1,676.8 200.5,676.8C205.2,676.8 209.8,679.8 214.5,681.5C218.1,682.8 221.6,684.9 225.2,685.6C228.8,686.3 232.4,686.9 236.0,686.9C240.7,686.9 245.3,686.5 250.0,686.3C258.3,685.9 266.7,685.3 275.0,685.0C283.3,684.7 291.7,684.6 300.0,684.2C306.2,683.9 312.3,683.7 318.5,683.1C325.4,682.5 332.3,678.5 339.2,678.5C343.1,678.5 346.9,681.2 350.8,683.1C355.4,685.3 360.0,691.8 364.6,691.8C369.2,691.8 373.9,689.7 378.5,688.8C384.6,687.6 390.8,685.6 396.9,685.4C404.6,685.1 412.3,684.9 420.0,684.9C448.0,684.9 476.0,684.9 504.0,685.5" stroke="#e81018" stroke-width="3.1"/>
<path d="M106.4,707.1C129.9,707.1 153.3,706.9 176.8,706.3C181.3,706.2 185.7,704.1 190.2,703.1C194.7,702.1 199.2,700.4 203.7,700.4C208.2,700.4 212.7,703.0 217.2,704.4C221.7,705.8 226.1,709.0 230.6,709.0C253.7,709.0 276.9,707.1 300.0,705.8C307.7,705.4 315.3,704.9 323.0,704.3C326.9,704.0 330.7,703.3 334.6,703.3C338.5,703.3 342.3,705.3 346.2,706.2C351.6,707.4 356.9,709.6 362.3,709.6C368.5,709.6 374.6,707.8 380.8,707.3C393.9,706.3 406.9,705.2 420.0,705.2C448.0,705.2 476.0,705.2 504.0,706.3" stroke="#e81018" stroke-width="3.1"/>
<path d="M97.0,733.2C114.7,733.2 132.3,733.2 150.0,733.2C158.9,733.2 167.9,732.6 176.8,732.2C184.0,731.8 191.1,730.6 198.3,730.6C204.6,730.6 210.9,732.5 217.2,733.2C223.5,733.9 229.7,734.9 236.0,734.9C257.3,734.9 278.7,732.7 300.0,732.7C311.5,732.7 323.1,733.3 334.6,733.8C342.3,734.2 350.0,735.7 357.7,735.7C365.4,735.7 373.1,734.1 380.8,733.8C393.9,733.2 406.9,732.7 420.0,732.7C448.0,732.6 476.0,732.6 504.0,732.6" stroke="#e81018" stroke-width="3.1"/>
</g>
<rect x="97.0" y="421.2" width="406.0" height="327.6" fill="none" stroke="#000" stroke-width="2.2"/>
<g font-family='"Liberation Sans", Arial, sans-serif' fill="#000" stroke="#000" stroke-width="0.90">
<g font-size="24.0">
<text x="97.0" y="775.7" text-anchor="middle">3.0</text>
<text x="198.5" y="775.7" text-anchor="middle">3.5</text>
<text x="300.0" y="775.7" text-anchor="middle">4.0</text>
<text x="401.5" y="775.7" text-anchor="middle">4.5</text>
<text x="503.0" y="775.7" text-anchor="middle">5.0</text>
<text x="88.8" y="730.1" text-anchor="end">0.0</text>
<text x="88.8" y="679.8" text-anchor="end">0.1</text>
<text x="88.8" y="629.4" text-anchor="end">0.2</text>
<text x="88.8" y="579.1" text-anchor="end">0.3</text>
<text x="88.8" y="528.7" text-anchor="end">0.4</text>
<text x="88.8" y="478.3" text-anchor="end">0.5</text>
<text x="88.8" y="428.0" text-anchor="end">0.6</text>
</g>
<text x="201.6" y="804.2" font-size="24.5" textLength="196.8" lengthAdjust="spacingAndGlyphs">Frequency (GHz)</text>
<text transform="translate(26.3,655.3) rotate(-90)" font-size="25">V<tspan font-size="16" dy="12.0">mix</tspan><tspan dy="-10.5"> (mV)</tspan></text>
<text x="102.5" y="447.4" font-size="25">(b)</text>
<text x="248.1" y="441.5" font-size="17.7" word-spacing="1.0">MR = 67%</text>
<g font-size="17.7" text-anchor="end" word-spacing="1.6">
<text x="497.2" y="459.0">430 mV</text>
<text x="497.2" y="514.4">373 mV</text>
<text x="497.2" y="567.6">317 mV</text>
<text x="497.2" y="623.9">259 mV</text>
<text x="497.2" y="652.7">198 mV</text>
<text x="497.2" y="679.0">135 mV</text>
<text x="497.2" y="702.0">69 mV</text>
<text x="497.2" y="727.1">0 mV</text>
</g>
</g>
</g>
<g id="p2">
<path d="M90.2,1156.2v-6.5 M157.9,1156.2v-6.5 M225.5,1156.2v-6.5 M293.2,1156.2v-6.5 M360.8,1156.2v-6.5 M428.4,1156.2v-6.5 M496.1,1156.2v-6.5 M124.0,1156.2v-3.8 M191.7,1156.2v-3.8 M259.3,1156.2v-3.8 M327.0,1156.2v-3.8 M394.6,1156.2v-3.8 M462.3,1156.2v-3.8 M90.2,1141.1h6.5 M90.2,1078.5h6.5 M90.2,1015.9h6.5 M90.2,953.3h6.5 M90.2,890.7h6.5 M90.2,828.1h6.5 M90.2,1109.8h3.8 M90.2,1047.2h3.8 M90.2,984.6h3.8 M90.2,922.0h3.8 M90.2,859.4h3.8" stroke="#000" stroke-width="1.8" fill="none"/>
<clipPath id="c2"><rect x="90.2" y="828.8" width="405.9" height="327.4"/></clipPath>
<g clip-path="url(#c2)" fill="none" stroke-linejoin="round" stroke-linecap="butt">
<path d="M90.0,866.0l1.2,0 1.2,0 1.2,0 1.2,0 1.2,0 1.2,0 1.2,0 1.2,-0.1 1.2,0 1.2,0 1.2,0 1.2,-0.1 1.2,0 1.2,0 1.2,0 1.2,-0.1 1.2,0 1.2,-0.1 1.2,0 1.2,-0.1 1.2,0 1.2,-0.2 1.2,-0.3 1.2,-0.5M164.5,869.9l1.2,-0.5 1.2,-0.5 1.2,-0.4 1.2,-0.3 1.2,-0.3 1.2,-0.2 1.2,-0.2 1.2,-0.1 1.2,-0.1 1.2,-0.1 1.2,-0.1 1.2,-0.1 1.2,-0.1 1.2,0 1.2,-0.1 1.2,0 1.2,-0.1 1.2,-0.1 1.2,0 1.2,-0.1 1.2,-0.1 1.2,0 1.2,-0.1 1.2,-0.1 1.2,0 1.2,-0.1 1.2,0 1.2,-0.1 1.2,-0.1 1.2,0 1.2,-0.1 1.2,-0.1 1.2,-0.1 1.2,-0.1 1.2,-0.2 1.2,-0.1 1.2,-0.2 1.2,-0.2 1.2,-0.2 1.2,-0.2 1.2,-0.3 1.2,-0.3 1.2,-0.3 1.2,-0.4 1.2,-0.6M251.0,869.0l1.2,-0.3 1.2,-0.3 1.2,-0.3 1.2,-0.2 1.2,-0.2 1.2,-0.1 1.2,-0.2 1.2,-0.1 1.2,-0.1 1.2,-0.1 1.2,-0.1 1.2,-0.1 1.2,-0.1 1.2,-0.1 1.2,-0.1 1.2,-0.1 1.2,0 1.2,-0.1 1.2,-0.1 1.2,-0.1 1.2,0 1.2,-0.1 1.2,0 1.2,-0.1 1.2,-0.1 1.2,0 1.2,-0.1 1.2,0 1.2,-0.1 1.2,-0.1 1.2,0 1.2,-0.1 1.2,-0.1 1.2,-0.1 1.2,0 1.2,-0.1 1.2,-0.1 1.2,-0.1 1.2,-0.1 1.2,-0.1 1.2,-0.2 1.2,-0.1 1.2,-0.1 1.2,-0.1 1.2,-0.2 1.2,-0.1 1.2,-0.2 1.2,-0.1 1.2,-0.2 1.2,-0.2 1.2,-0.2 1.2,-0.3 1.2,-0.4 1.2,-0.3 1.2,-0.3 1.2,-0.3 1.2,-0.1 1.2,-0.1 1.2,0 1.2,0.2 1.2,0.2M331.4,874.8l1.2,-0.3M339.8,868.6l1.2,-0.5 1.2,-0.5 1.2,-0.5 1.3,-0.5 1.2,-0.4 1.2,-0.4 1.2,-0.3 1.2,-0.3 1.2,-0.2 1.2,-0.2 1.2,-0.2 1.2,-0.1 1.2,-0.1 1.2,-0.1 1.2,-0.1 1.2,-0.1 1.2,0 1.2,0 1.2,0.2 1.2,0.5M369.9,868.3l1.2,0.3 1.2,0.1 1.2,-0.2 1.2,-0.2 1.2,-0.4 1.2,-0.4 1.2,-0.5 1.2,-0.4 1.2,-0.3 1.2,-0.4 1.2,-0.5 1.2,-0.3 1.2,-0.3 1.2,0 1.2,0 1.2,0 1.2,0 1.2,0 1.2,0 1.2,0 1.2,0 1.2,0 1.2,0 1.2,0 1.2,0 1.2,0 1.2,0 1.2,0.2 1.2,0.4 1.2,0.4 1.2,0.6M409.5,867.6l1.2,0.5 1.2,0.5 1.2,0.4 1.2,0.2 1.2,0 1.2,-0.3 1.2,-0.4 1.2,-0.6M421.5,866.7l1.2,-0.5 1.2,-0.4 1.2,-0.2 1.2,0 1.2,0 1.2,0 1.2,0 1.2,0 1.2,0.1 1.2,0 1.2,0 1.2,0 1.2,0.1 1.2,0 1.2,0 1.2,0.1 1.2,0 1.2,0 1.2,0 1.3,0 1.2,0.1 1.2,0 1.2,0 1.2,0 1.2,0 1.2,0 1.2,0 1.2,0 1.2,0 1.2,0 1.2,0 1.2,0 1.2,0 1.2,0 1.2,0 1.2,0 1.2,0 1.2,0 1.2,0 1.2,0 1.2,0 1.2,0 1.2,0 1.2,0 1.2,0 1.2,0 1.2,0 1.2,0 1.2,0 1.2,0 1.2,0 1.2,0 1.2,0 1.2,0 1.2,0 1.2,0 1.2,0 1.2,0 1.2,0 1.2,0 1.2,0 1.2,0" stroke="#000" stroke-width="7.2" stroke-linecap="round"/>
<path d="M90.0,933.8l1.2,-0.1 1.2,0 1.2,0 1.2,0 1.2,0 1.2,-0.1 1.2,0 1.2,-0.1 1.2,0 1.2,-0.1 1.2,0 1.2,-0.1 1.2,-0.1 1.2,-0.1 1.2,0 1.2,-0.1 1.2,-0.1 1.2,-0.1 1.2,-0.1 1.2,-0.1 1.2,-0.1 1.2,-0.1 1.2,-0.2 1.2,-0.2 1.2,-0.2 1.2,-0.2 1.2,-0.3 1.2,-0.3 1.2,-0.4 1.2,-0.4 1.2,-0.4 1.2,-0.4 1.2,-0.5M172.9,938.6l1.2,-0.5 1.2,-0.6 1.2,-0.4 1.2,-0.5 1.2,-0.4 1.2,-0.3 1.2,-0.3 1.2,-0.3 1.2,-0.2 1.2,-0.1 1.2,-0.1 1.2,-0.2 1.2,-0.1 1.2,-0.1 1.2,0 1.2,-0.1 1.2,-0.1 1.2,0 1.2,-0.1 1.2,0 1.2,0 1.2,0 1.2,0 1.2,0 1.2,0 1.2,0 1.2,0 1.2,0 1.2,0 1.2,0 1.2,0 1.2,0 1.2,0 1.2,-0.1 1.2,-0.1 1.2,-0.1 1.2,-0.1 1.2,-0.2 1.2,-0.2 1.2,-0.3 1.2,-0.2 1.2,-0.3 1.2,-0.4M230.5,929.1l1.2,-0.4 1.2,-0.5 1.2,-0.5 1.2,-0.4 1.2,-0.4 1.2,-0.3 1.2,-0.2 1.2,-0.1M265.4,934.5l1.2,-0.5 1.2,-0.3 1.2,-0.3 1.2,-0.2 1.2,-0.1 1.2,-0.1 1.2,-0.1 1.2,-0.1 1.2,-0.1 1.2,0 1.2,-0.1 1.2,0 1.2,-0.1 1.2,0 1.2,-0.1 1.2,0 1.2,-0.1 1.2,0 1.2,-0.1 1.2,0 1.2,-0.1 1.2,-0.1 1.2,0 1.2,-0.1 1.2,-0.1 1.2,-0.1 1.2,-0.2 1.2,-0.1 1.2,-0.1 1.2,-0.1 1.2,-0.2 1.2,-0.1 1.2,-0.1 1.2,-0.2 1.2,-0.2 1.2,-0.1 1.2,-0.2 1.2,-0.2 1.2,-0.2 1.2,-0.2 1.2,-0.2 1.2,-0.2 1.2,-0.3 1.2,-0.3 1.2,-0.4 1.2,-0.4 1.2,-0.4 1.2,-0.4 1.2,-0.2 1.2,-0.2 1.2,0.1M342.2,937.3l1.2,-0.5 1.3,-0.6 1.2,-0.5 1.2,-0.5 1.2,-0.5 1.2,-0.5 1.2,-0.5 1.2,-0.4 1.2,-0.5 1.2,-0.4 1.2,-0.4 1.2,-0.4 1.2,-0.4 1.2,-0.5 1.2,-0.5 1.2,-0.4 1.2,-0.3 1.2,-0.2 1.2,-0.1M373.5,936.6l1.2,0 1.2,-0.1 1.2,-0.1 1.2,-0.1 1.2,-0.1 1.2,-0.2 1.2,-0.1 1.2,-0.2 1.2,-0.1 1.2,-0.1 1.2,-0.1 1.2,-0.2 1.2,-0.1 1.2,-0.1 1.2,-0.1 1.2,-0.2 1.2,-0.1 1.2,-0.1 1.2,-0.1 1.2,-0.1 1.2,-0.1 1.2,-0.1 1.2,0 1.2,0 1.2,0.2 1.2,0.3 1.2,0.3 1.2,0.5 1.2,0.4 1.2,0.4 1.2,0.2 1.2,0.2 1.2,0 1.2,-0.2 1.2,-0.2 1.2,-0.3 1.2,-0.4 1.2,-0.4 1.2,-0.5 1.2,-0.4 1.2,-0.4 1.2,-0.4 1.2,-0.3 1.2,-0.2 1.2,-0.1 1.2,0 1.2,0 1.2,0 1.2,0 1.2,0 1.2,0 1.2,0 1.2,0 1.2,0 1.2,0 1.2,0 1.2,0 1.2,0 1.2,0 1.3,0 1.2,0 1.2,0 1.2,0 1.2,0 1.2,0 1.2,0 1.2,0 1.2,0 1.2,0 1.2,0 1.2,0 1.2,0 1.2,0 1.2,0 1.2,0 1.2,0 1.2,0 1.2,0 1.2,0 1.2,0 1.2,0 1.2,0 1.2,0 1.2,0 1.2,0 1.2,0 1.2,0 1.2,0 1.2,0 1.2,0 1.2,0 1.2,0 1.2,0 1.2,0 1.2,0 1.2,0 1.2,0 1.2,0 1.2,0 1.2,0 1.2,0 1.2,0" stroke="#000" stroke-width="7.0" stroke-linecap="round"/>
<path d="M90.0,987.5l1.2,0 1.2,0 1.2,0 1.2,0 1.2,0 1.2,0 1.2,-0.1 1.2,0 1.2,0 1.2,0 1.2,-0.1 1.2,0 1.2,0 1.2,-0.1 1.2,0 1.2,-0.1 1.2,0 1.2,-0.1 1.2,0 1.2,-0.1 1.2,0 1.2,-0.1 1.2,-0.1 1.2,-0.1 1.2,0 1.2,-0.1 1.2,-0.1 1.2,-0.1 1.2,-0.1 1.2,-0.1 1.2,-0.1 1.2,-0.1 1.2,-0.3 1.2,-0.4 1.2,-0.6M150.1,969.8l1.2,-0.3M181.3,990.9l1.2,-0.4 1.2,-0.5 1.2,-0.4 1.2,-0.3 1.2,-0.3 1.2,-0.3 1.2,-0.3 1.2,-0.2 1.2,-0.2 1.2,-0.1 1.2,-0.2 1.2,-0.1 1.2,-0.1 1.2,-0.1 1.2,-0.1 1.2,-0.1 1.2,-0.1 1.2,0 1.2,-0.1 1.2,0 1.2,-0.1 1.2,-0.1 1.2,0 1.2,-0.1 1.2,0 1.2,-0.1 1.2,-0.1 1.2,0 1.2,-0.1 1.2,-0.1 1.2,-0.1 1.2,-0.1 1.2,-0.1 1.2,-0.1 1.2,-0.2 1.2,-0.2 1.2,-0.2 1.2,-0.2 1.2,-0.2 1.2,-0.2 1.2,-0.2 1.2,-0.3 1.2,-0.2 1.2,-0.3 1.2,-0.3 1.2,-0.4 1.2,-0.4 1.2,-0.5 1.2,-0.4 1.2,-0.2 1.3,-0.1 1.2,0.3M253.4,998.0l1.2,-0.4M261.8,992.4l1.2,-0.5 1.2,-0.6 1.2,-0.5 1.2,-0.6 1.2,-0.4 1.2,-0.4 1.2,-0.4 1.2,-0.2 1.2,-0.2 1.2,-0.2 1.2,-0.1 1.2,-0.2 1.2,-0.1 1.2,-0.2 1.2,-0.1 1.2,-0.1 1.2,0 1.2,-0.1 1.2,0 1.2,0 1.2,0 1.2,0.1 1.2,0.1 1.2,0.1 1.2,0 1.2,0.1 1.2,0.1 1.2,0.1 1.2,0.1 1.2,0 1.2,0 1.2,0 1.2,-0.1 1.2,0 1.2,-0.1 1.2,-0.1 1.2,-0.1 1.2,-0.2 1.2,-0.1 1.2,-0.1 1.2,-0.2 1.2,-0.2 1.2,-0.1 1.2,-0.2 1.2,-0.1 1.2,-0.2 1.2,-0.1 1.2,-0.2 1.2,-0.1 1.2,-0.1 1.2,-0.1 1.2,-0.1 1.2,-0.1 1.2,0 1.2,0 1.2,0 1.2,0.1 1.2,0.1 1.2,0.2 1.2,0.1 1.2,0.2 1.2,0.2 1.2,0.3 1.2,0.4 1.2,0.5 1.2,0.5 1.2,0.5 1.2,0.3 1.3,0.2 1.2,0 1.2,-0.1 1.2,-0.1 1.2,-0.2 1.2,-0.2 1.2,-0.3 1.2,-0.2 1.2,-0.3 1.2,-0.2 1.2,-0.2 1.2,-0.3 1.2,-0.2 1.2,-0.3 1.2,-0.3 1.2,-0.3 1.2,-0.3 1.2,-0.3 1.2,-0.3 1.2,-0.2 1.2,-0.2 1.2,-0.1 1.2,0 1.2,0.1 1.2,0.4 1.2,0.5M378.3,987.4l1.2,0.5 1.2,0.4 1.2,0.3 1.2,0 1.2,0 1.2,0 1.2,0 1.2,0 1.2,0 1.2,0 1.2,0 1.2,0 1.2,0 1.2,0 1.2,0 1.2,0 1.2,0 1.2,0 1.2,0 1.2,0 1.2,0 1.2,0 1.2,0 1.2,0 1.2,0 1.2,0 1.2,0 1.2,0 1.2,0 1.2,0 1.2,0 1.2,0 1.2,0 1.2,0 1.2,0 1.2,0 1.2,-0.1 1.2,0 1.2,0 1.2,0 1.2,0 1.2,0 1.2,0 1.2,0 1.2,0 1.2,0 1.2,0 1.2,0 1.2,0 1.2,0 1.2,0 1.2,-0.1 1.2,0 1.2,0 1.2,0 1.3,0 1.2,0 1.2,0 1.2,0 1.2,0 1.2,0 1.2,-0.1 1.2,0 1.2,0 1.2,0 1.2,0 1.2,0 1.2,0 1.2,0 1.2,-0.1 1.2,0 1.2,0 1.2,0 1.2,0 1.2,0 1.2,0 1.2,-0.1 1.2,0 1.2,0 1.2,0 1.2,0 1.2,0 1.2,0 1.2,-0.1 1.2,0 1.2,0 1.2,0 1.2,0 1.2,0 1.2,-0.1 1.2,0 1.2,0 1.2,0 1.2,0 1.2,0 1.2,-0.1 1.2,0 1.2,0" stroke="#000" stroke-width="7.0" stroke-linecap="round"/>
<path d="M90.0,1023.0l1.2,0 1.2,0 1.2,0 1.2,0 1.2,0 1.2,0 1.2,0 1.2,0 1.2,0 1.2,0 1.2,0 1.2,0 1.2,0 1.2,0 1.2,0 1.2,0 1.2,0 1.2,0 1.2,0 1.2,0 1.2,0 1.2,0 1.2,0 1.2,0 1.2,0 1.2,0 1.2,0 1.2,0 1.2,0 1.2,0 1.2,0 1.2,0 1.2,-0.1 1.2,-0.2 1.2,-0.3 1.2,-0.3 1.2,-0.3 1.2,-0.4 1.2,-0.5 1.2,-0.4 1.2,-0.5 1.2,-0.6 1.3,-0.5 1.2,-0.5 1.2,-0.5 1.2,-0.5M152.5,1012.7l1.2,-0.5 1.2,-0.2M169.3,1034.5l1.2,-0.1M180.1,1027.8l1.2,-0.3 1.2,-0.3 1.2,-0.3 1.2,-0.2 1.2,-0.2 1.2,-0.2 1.2,-0.2 1.2,-0.1 1.2,-0.2 1.2,-0.1 1.2,-0.1 1.2,-0.2 1.2,-0.1 1.2,-0.1 1.2,-0.1 1.2,-0.1 1.2,0 1.2,-0.1 1.2,-0.1 1.2,0 1.2,-0.1 1.2,-0.1 1.2,0 1.2,-0.1 1.2,0 1.2,-0.1 1.2,-0.1 1.2,0 1.2,-0.1 1.2,-0.1 1.2,-0.1 1.2,-0.1 1.2,-0.1 1.2,-0.1 1.2,-0.1 1.2,-0.2 1.2,-0.1 1.2,-0.2 1.2,-0.2 1.2,-0.2 1.2,-0.2 1.2,-0.2 1.2,-0.2 1.2,-0.3 1.2,-0.2 1.2,-0.3 1.2,-0.3 1.2,-0.2 1.2,-0.3 1.2,-0.3 1.2,-0.3 1.3,-0.4 1.2,-0.5 1.2,-0.6 1.2,-0.5 1.2,-0.3 1.2,0.1M261.8,1030.2l1.2,0.2 1.2,-0.4M269.0,1027.3l1.2,-0.3 1.2,-0.3 1.2,-0.2 1.2,-0.2 1.2,-0.2 1.2,-0.2 1.2,-0.1 1.2,-0.2 1.2,-0.1 1.2,-0.1 1.2,-0.1 1.2,-0.1 1.2,-0.1 1.2,-0.1 1.2,-0.1 1.2,0 1.2,-0.1 1.2,-0.1 1.2,-0.1 1.2,0 1.2,-0.1 1.2,-0.1 1.2,0 1.2,-0.1 1.2,0 1.2,-0.1 1.2,0 1.2,-0.1 1.2,-0.1 1.2,0 1.2,-0.1 1.2,0 1.2,-0.1 1.2,0 1.2,-0.1 1.2,-0.1 1.2,0 1.2,-0.1 1.2,-0.1 1.2,0 1.2,-0.1 1.2,-0.1 1.2,0 1.2,-0.1 1.2,-0.1 1.2,0 1.2,-0.1 1.2,0 1.2,-0.1 1.2,0 1.2,-0.1 1.2,0 1.2,-0.1 1.2,0 1.2,0 1.2,-0.1 1.2,0 1.2,0 1.2,0 1.2,0 1.2,0 1.2,0 1.3,0 1.2,0 1.2,0 1.2,0 1.2,0 1.2,0 1.2,0 1.2,0 1.2,0 1.2,0 1.2,0 1.2,0 1.2,0 1.2,0 1.2,0 1.2,0 1.2,0 1.2,0 1.2,0 1.2,0 1.2,0 1.2,0 1.2,0 1.2,0 1.2,0 1.2,0 1.2,0 1.2,0 1.2,0 1.2,0 1.2,0 1.2,0 1.2,0 1.2,0 1.2,0 1.2,0 1.2,0 1.2,0 1.2,0 1.2,0 1.2,0 1.2,0 1.2,0 1.2,0 1.2,0 1.2,0 1.2,0 1.2,0 1.2,0 1.2,0 1.2,0 1.2,0 1.2,0 1.2,0 1.2,0 1.2,0 1.2,0 1.2,0 1.2,0 1.2,0 1.2,0 1.2,0 1.2,0 1.2,0 1.2,0 1.2,0 1.2,0 1.2,0 1.2,0.1 1.2,0 1.2,0 1.2,0 1.2,0 1.2,0 1.2,0 1.2,0 1.2,0 1.2,0 1.2,0 1.2,0 1.2,0 1.2,0 1.2,0 1.2,0 1.3,0 1.2,0 1.2,0 1.2,0 1.2,0 1.2,0 1.2,0 1.2,0 1.2,0 1.2,0 1.2,0 1.2,0 1.2,0 1.2,0 1.2,0 1.2,0 1.2,0.1 1.2,0 1.2,0 1.2,0 1.2,0 1.2,0 1.2,0 1.2,0 1.2,0 1.2,0 1.2,0 1.2,0 1.2,0 1.2,0 1.2,0 1.2,0 1.2,0 1.2,0 1.2,0 1.2,0.1 1.2,0 1.2,0 1.2,0 1.2,0 1.2,0 1.2,0 1.2,0" stroke="#000" stroke-width="6.8" stroke-linecap="round"/>
<path d="M90.0,1050.0l1.2,0 1.2,0 1.2,0 1.2,0 1.2,0 1.2,0 1.2,0 1.2,-0.1 1.2,0 1.2,0 1.2,0 1.2,0 1.2,0 1.2,-0.1 1.2,0 1.2,0 1.2,0 1.2,-0.1 1.2,0 1.2,0 1.2,-0.1 1.2,0 1.2,-0.1 1.2,0 1.2,0 1.2,-0.1 1.2,0 1.2,-0.1 1.2,0 1.2,-0.1 1.2,0 1.2,-0.1 1.2,-0.1 1.2,0 1.2,-0.1 1.2,-0.1 1.2,0 1.2,-0.1 1.2,-0.2 1.2,-0.3 1.2,-0.4 1.2,-0.5 1.3,-0.6M147.7,1043.6l1.2,-0.6 1.2,-0.5 1.2,-0.5 1.2,-0.3 1.2,-0.3 1.2,-0.1 1.2,0M171.7,1054.2l1.2,0.5 1.2,0.2 1.2,0.1 1.2,-0.1 1.2,-0.1 1.2,-0.3 1.2,-0.3 1.2,-0.4 1.2,-0.4 1.2,-0.5 1.2,-0.4 1.2,-0.5 1.2,-0.4 1.2,-0.5 1.2,-0.4 1.2,-0.3 1.2,-0.3 1.2,-0.2 1.2,-0.2 1.2,-0.1 1.2,-0.1 1.2,-0.1 1.2,-0.1 1.2,-0.1 1.2,-0.1 1.2,-0.1 1.2,-0.1 1.2,-0.1 1.2,-0.1 1.2,0 1.2,-0.1 1.2,-0.1 1.2,0 1.2,-0.1 1.2,-0.1 1.2,0 1.2,-0.1 1.2,-0.1 1.2,0 1.2,-0.1 1.2,-0.1 1.2,-0.1 1.2,-0.1 1.2,-0.1 1.2,-0.1 1.2,-0.1 1.2,-0.1 1.2,-0.1 1.2,-0.1 1.2,-0.2 1.2,-0.1 1.2,-0.1 1.2,-0.1 1.2,-0.1 1.2,-0.1 1.2,-0.1 1.2,0 1.2,-0.1 1.3,-0.1 1.2,0 1.2,-0.1 1.2,0 1.2,0 1.2,0 1.2,0.2 1.2,0.3 1.2,0.3 1.2,0.4 1.2,0.5 1.2,0.5 1.2,0.4 1.2,0.5 1.2,0.4M264.2,1052.0l1.2,0.4 1.2,0.1 1.2,0 1.2,-0.1 1.2,-0.2 1.2,-0.2 1.2,-0.2 1.2,-0.2 1.2,-0.3 1.2,-0.2 1.2,-0.2 1.2,-0.2 1.2,-0.2 1.2,-0.1 1.2,-0.2 1.2,-0.1 1.2,-0.1 1.2,-0.2 1.2,-0.1 1.2,-0.1 1.2,-0.2 1.2,-0.1 1.2,-0.1 1.2,-0.1 1.2,-0.1 1.2,0 1.2,-0.1 1.2,-0.1 1.2,0 1.2,0 1.2,-0.1 1.2,0 1.2,0 1.2,0 1.2,-0.1 1.2,0 1.2,0 1.2,0 1.2,-0.1 1.2,0 1.2,0 1.2,0 1.2,0 1.2,0 1.2,-0.1 1.2,0 1.2,0 1.2,0 1.2,0 1.2,0 1.2,0 1.2,0 1.2,0 1.2,-0.1 1.2,0 1.2,0 1.2,0 1.2,0 1.2,0 1.2,0 1.2,0 1.2,0 1.2,0 1.2,-0.1 1.2,0 1.2,0 1.3,0 1.2,0 1.2,0 1.2,-0.1 1.2,0 1.2,0 1.2,0 1.2,0 1.2,-0.1 1.2,0 1.2,0 1.2,0 1.2,-0.1 1.2,0 1.2,-0.1 1.2,0 1.2,-0.1 1.2,0 1.2,-0.1 1.2,-0.1 1.2,0 1.2,-0.1 1.2,-0.1 1.2,-0.1 1.2,0 1.2,-0.1 1.2,0 1.2,-0.1 1.2,0 1.2,-0.1 1.2,0 1.2,-0.1 1.2,0 1.2,0 1.2,0 1.2,0 1.2,0 1.2,0 1.2,0 1.2,0 1.2,0 1.2,0 1.2,0 1.2,0 1.2,0 1.2,0 1.2,0 1.2,0 1.2,0 1.2,0 1.2,0 1.2,0 1.2,0 1.2,0 1.2,0 1.2,0 1.2,0 1.2,0 1.2,0 1.2,0 1.2,0 1.2,0 1.2,0 1.2,0 1.2,0.1 1.2,0 1.2,0 1.2,0 1.2,0 1.2,0 1.2,0 1.2,0 1.2,0 1.2,0 1.2,0 1.2,0 1.2,0 1.2,0.1 1.2,0 1.2,0 1.2,0 1.2,0 1.2,0 1.2,0 1.3,0 1.2,0.1 1.2,0 1.2,0 1.2,0 1.2,0 1.2,0 1.2,0.1 1.2,0 1.2,0 1.2,0 1.2,0 1.2,0.1 1.2,0 1.2,0 1.2,0 1.2,0.1 1.2,0 1.2,0 1.2,0 1.2,0.1 1.2,0 1.2,0 1.2,0 1.2,0.1 1.2,0 1.2,0 1.2,0.1 1.2,0 1.2,0.1 1.2,0 1.2,0 1.2,0.1 1.2,0 1.2,0 1.2,0.1 1.2,0 1.2,0.1 1.2,0 1.2,0.1 1.2,0 1.2,0.1 1.2,0" stroke="#000" stroke-width="6.6" stroke-linecap="round"/>
<path d="M97.5,1074.5l1.2,0 1.2,0 1.2,0 1.2,0 1.2,0 1.2,0 1.2,0 1.2,0 1.2,0 1.2,0 1.2,-0.1 1.2,0 1.2,0 1.2,0 1.2,0 1.2,0 1.2,0 1.2,-0.1 1.2,0 1.2,0 1.2,0 1.2,0 1.2,0 1.2,-0.1 1.2,0 1.2,0 1.2,0 1.2,-0.1 1.2,-0.1 1.2,-0.1 1.2,-0.1 1.2,-0.2 1.2,-0.1 1.2,-0.2 1.2,-0.2 1.2,-0.2 1.2,-0.2 1.2,-0.1 1.2,-0.2 1.2,-0.2 1.2,-0.1 1.2,-0.2 1.2,-0.1 1.2,-0.2 1.2,-0.1 1.2,0 1.2,-0.1 1.2,0 1.2,0 1.2,0.2 1.2,0.2 1.2,0.2 1.2,0.4 1.2,0.4 1.2,0.4 1.2,0.4 1.2,0.4 1.2,0.4 1.2,0.4 1.2,0.4 1.2,0.3 1.2,0.3 1.2,0.1 1.2,0.1 1.2,0 1.2,0 1.2,0 1.2,-0.1 1.2,0 1.2,-0.1 1.2,0 1.2,-0.1 1.2,-0.1 1.2,0 1.2,-0.1 1.2,-0.1 1.2,-0.1 1.2,-0.1 1.2,-0.1 1.2,-0.1 1.2,-0.1 1.2,-0.1 1.2,-0.1 1.2,0 1.2,-0.1 1.2,-0.1 1.2,-0.1 1.2,-0.1 1.2,0 1.2,-0.1 1.2,-0.1 1.2,0 1.2,-0.1 1.2,-0.1 1.2,0 1.2,-0.1 1.2,-0.1 1.2,0 1.2,-0.1 1.2,-0.1 1.2,-0.1 1.2,0 1.2,-0.1 1.2,-0.1 1.2,0 1.2,-0.1 1.2,-0.1 1.2,0 1.2,-0.1 1.2,0 1.2,-0.1 1.2,0 1.2,-0.1 1.2,0 1.2,-0.1 1.2,0 1.2,0 1.2,-0.1 1.2,0 1.2,0 1.2,0 1.2,0 1.2,0 1.2,0.1 1.2,0.1 1.2,0.2 1.2,0.2 1.2,0.2 1.2,0.3 1.2,0.2 1.2,0.3 1.2,0.3 1.2,0.3 1.2,0.2 1.2,0.3 1.2,0.2 1.2,0.2 1.2,0.2 1.2,0.1 1.2,0.1 1.2,0 1.2,0 1.2,0 1.2,-0.1 1.2,-0.1 1.2,-0.1 1.2,-0.1 1.2,-0.1 1.2,-0.2 1.2,-0.1 1.2,-0.1 1.2,-0.2 1.2,-0.1 1.2,-0.1 1.2,-0.2 1.2,-0.1 1.2,-0.1 1.2,0 1.2,-0.1 1.2,0 1.2,0 1.2,0 1.2,0 1.2,0 1.2,0 1.3,0 1.2,0 1.2,0 1.2,0 1.2,0 1.2,0 1.2,0.1 1.2,0 1.2,0 1.2,0 1.2,0 1.2,0 1.2,0 1.2,0 1.2,0 1.2,0 1.2,0 1.2,0.1 1.2,0 1.2,0 1.2,0 1.2,0 1.2,0 1.2,0 1.2,0 1.2,0 1.2,0 1.2,0 1.2,0.1 1.2,0 1.2,0 1.2,0 1.2,0 1.2,0 1.2,0 1.2,0 1.2,0 1.2,0 1.2,0 1.2,0 1.2,0 1.2,0 1.2,0 1.2,0 1.2,0 1.2,0 1.2,0 1.2,0 1.2,0 1.2,0 1.2,0 1.2,0 1.2,0 1.2,0 1.2,0 1.2,0.1 1.2,0 1.2,0 1.2,0 1.2,0 1.2,0 1.2,0 1.2,0 1.2,0 1.2,0 1.2,0 1.2,0 1.2,0 1.2,0 1.2,0 1.2,0 1.2,0 1.2,0 1.2,0 1.2,0 1.2,0 1.2,0 1.2,0 1.2,0 1.2,0 1.2,0 1.2,0 1.2,0 1.2,0 1.2,0 1.2,0 1.2,0 1.2,0 1.2,0 1.2,0 1.2,0 1.2,0 1.2,0 1.2,0 1.2,0 1.2,0 1.2,0 1.2,0 1.2,0 1.2,0 1.2,0 1.2,0 1.2,0 1.2,0 1.2,0.1 1.2,0 1.2,0 1.2,0 1.2,0 1.2,0 1.2,0 1.2,0 1.2,0 1.2,0 1.2,0 1.2,0 1.2,0 1.2,0 1.2,0 1.2,0 1.2,0 1.2,0 1.2,0 1.2,0 1.2,0 1.2,0 1.2,0 1.2,0 1.2,0 1.2,0 1.2,0 1.2,0 1.2,0 1.2,0 1.2,0 1.2,0 1.2,0 1.2,0 1.2,0 1.2,0 1.2,0 1.2,0 1.2,0 1.2,0 1.2,0 1.2,0 1.2,0 1.2,0 1.2,0 1.2,0 1.2,0 1.2,0 1.2,0 1.2,0 1.2,0 1.2,0 1.2,0 1.2,0 1.2,0 1.2,0 1.2,0 1.2,0 1.2,0 1.2,0 1.2,0 1.2,0 1.2,0" stroke="#000" stroke-width="6.4" stroke-linecap="round"/>
<path d="M90.0,1107.0l1.2,-0.1 1.2,-0.1 1.2,-0.1 1.2,-0.1 1.2,-0.1 1.2,-0.1 1.2,-0.1 1.2,-0.1 1.2,0 1.2,-0.1 1.2,-0.1 1.2,0 1.2,-0.1 1.2,0 1.2,-0.1 1.2,0 1.2,-0.1 1.2,0 1.2,0 1.2,0 1.2,-0.1 1.2,0 1.2,0 1.2,0 1.2,0 1.2,-0.1 1.2,0 1.2,0 1.2,0 1.2,0 1.2,0 1.2,0 1.2,0 1.2,0 1.2,0 1.2,0 1.2,0 1.2,0 1.2,0 1.2,0.1 1.2,0.1 1.2,0.1 1.3,0.1 1.2,0.1 1.2,0.1 1.2,0.2 1.2,0.1 1.2,0.2 1.2,0.2 1.2,0.1 1.2,0.2 1.2,0.1 1.2,0.2 1.2,0.1 1.2,0.2 1.2,0.1 1.2,0.1 1.2,0 1.2,0.1 1.2,0 1.2,0 1.2,0 1.2,0 1.2,0 1.2,0 1.2,-0.1 1.2,0 1.2,0 1.2,-0.1 1.2,0 1.2,0 1.2,-0.1 1.2,0 1.2,0 1.2,-0.1 1.2,0 1.2,-0.1 1.2,0 1.2,-0.1 1.2,0 1.2,-0.1 1.2,0 1.2,-0.1 1.2,-0.1 1.2,0 1.2,-0.1 1.2,0 1.2,-0.1 1.2,0 1.2,-0.1 1.2,0 1.2,-0.1 1.2,0 1.2,-0.1 1.2,0 1.2,-0.1 1.2,0 1.2,0 1.2,-0.1 1.2,0 1.2,0 1.2,-0.1 1.2,0 1.2,0 1.2,0 1.2,0 1.2,0 1.2,0 1.2,0 1.2,0 1.2,0 1.2,0 1.2,0 1.2,0 1.2,0 1.2,0 1.2,0 1.2,0 1.2,0 1.2,0 1.2,0 1.2,0 1.2,0 1.2,0 1.2,0 1.2,0 1.3,0 1.2,0 1.2,0 1.2,0 1.2,0 1.2,0 1.2,0 1.2,0 1.2,0 1.2,0 1.2,0 1.2,0 1.2,0 1.2,0 1.2,0.1 1.2,0 1.2,0 1.2,0 1.2,0 1.2,0 1.2,0 1.2,0 1.2,0 1.2,0 1.2,0 1.2,0 1.2,0 1.2,0 1.2,0 1.2,0 1.2,0 1.2,0 1.2,0.1 1.2,0 1.2,0 1.2,0 1.2,0 1.2,0 1.2,0 1.2,0 1.2,0 1.2,0 1.2,0 1.2,0 1.2,0 1.2,0 1.2,0 1.2,0 1.2,0 1.2,0 1.2,0 1.2,0 1.2,0.1 1.2,0 1.2,0 1.2,0 1.2,0 1.2,0 1.2,0 1.2,0 1.2,0 1.2,0 1.2,0 1.2,0 1.2,0 1.2,0 1.2,0 1.2,0 1.2,0 1.2,0 1.2,0 1.2,0 1.2,0 1.2,0 1.2,0 1.2,0 1.2,0 1.2,0 1.2,0 1.2,0 1.2,0 1.2,0 1.2,0 1.2,0 1.2,0 1.3,0 1.2,0 1.2,0 1.2,0 1.2,0 1.2,0 1.2,0 1.2,0 1.2,0 1.2,0 1.2,0 1.2,0 1.2,0 1.2,0 1.2,0 1.2,0 1.2,0 1.2,0 1.2,0 1.2,0 1.2,0 1.2,0 1.2,0 1.2,0 1.2,0 1.2,0 1.2,0 1.2,0 1.2,0 1.2,0 1.2,0 1.2,0 1.2,0 1.2,0 1.2,0 1.2,0 1.2,0 1.2,0 1.2,0 1.2,0 1.2,0 1.2,0 1.2,0 1.2,0 1.2,0 1.2,0 1.2,0 1.2,0 1.2,0 1.2,0 1.2,0 1.2,0 1.2,0 1.2,0 1.2,0 1.2,0 1.2,0 1.2,0 1.2,0 1.2,0 1.2,0 1.2,0 1.2,0 1.2,0 1.2,0 1.2,0 1.2,0 1.2,0 1.2,0 1.2,0 1.2,0 1.2,0 1.2,0 1.2,0 1.2,0 1.2,0 1.2,0 1.2,0 1.2,0 1.2,0 1.2,0 1.2,0 1.2,0 1.2,0 1.3,0 1.2,0 1.2,0 1.2,0 1.2,0 1.2,0 1.2,0 1.2,0 1.2,0 1.2,0 1.2,0 1.2,0 1.2,0 1.2,0 1.2,0 1.2,0 1.2,0 1.2,0 1.2,0 1.2,0 1.2,0 1.2,0 1.2,0 1.2,0 1.2,0 1.2,0 1.2,0 1.2,0 1.2,0 1.2,0 1.2,0 1.2,0 1.2,0 1.2,0 1.2,0 1.2,0 1.2,0 1.2,0 1.2,0 1.2,0 1.2,0 1.2,0 1.2,0" stroke="#000" stroke-width="6.4" stroke-linecap="round"/>
<path d="M97.5,1140.6l1.2,0 1.2,0 1.2,0 1.2,0 1.2,0.1 1.2,0 1.2,0 1.2,0 1.2,0 1.2,0 1.2,0 1.2,0 1.2,0 1.2,0 1.2,0.1 1.2,0 1.2,0 1.2,0 1.2,0 1.2,0 1.2,0 1.2,0 1.2,0 1.2,0 1.2,0.1 1.2,0 1.2,0 1.2,0 1.2,0 1.2,0 1.2,0 1.2,0 1.2,0 1.2,0 1.2,0 1.2,0 1.2,0 1.2,0.1 1.2,0 1.2,0 1.2,0 1.2,0 1.2,0 1.2,0 1.2,0 1.2,0 1.2,0 1.2,0 1.2,0 1.2,0 1.2,0 1.2,0 1.2,0.1 1.2,0 1.2,0 1.2,0 1.2,0 1.2,0 1.2,0 1.2,0 1.2,0 1.2,0 1.2,0 1.2,0 1.2,0 1.2,0 1.2,0 1.2,0 1.2,0 1.2,0 1.2,0 1.2,0 1.2,0 1.2,0.1 1.2,0 1.2,0 1.2,0 1.2,0 1.2,0 1.2,0 1.2,0 1.2,0 1.2,0 1.2,0 1.2,0 1.2,0 1.2,0 1.2,0 1.2,0 1.2,0 1.2,0 1.2,0 1.2,0 1.2,0 1.2,0 1.2,0 1.2,0 1.2,0 1.2,0 1.2,0 1.2,0 1.2,0 1.2,0 1.2,0 1.2,0 1.2,0 1.2,0 1.2,0 1.2,0 1.2,0 1.2,0 1.2,0 1.2,0 1.2,0 1.2,0 1.2,0 1.2,0 1.2,0 1.2,0 1.2,0 1.2,0 1.2,0 1.2,-0.1 1.2,0 1.2,0 1.2,0 1.2,0 1.2,0 1.2,0 1.2,0 1.2,0 1.2,0 1.2,0 1.2,0 1.2,0 1.2,0 1.2,0 1.2,0 1.2,0 1.2,0 1.2,-0.1 1.2,0 1.2,0 1.2,0 1.2,0 1.2,0 1.2,0 1.2,0 1.2,0 1.2,0 1.2,0 1.2,0 1.2,0 1.2,0 1.2,0 1.2,-0.1 1.2,0 1.2,0 1.2,0 1.2,0 1.2,0 1.2,0 1.2,0 1.2,0 1.2,0 1.3,0 1.2,0 1.2,0 1.2,0 1.2,0 1.2,0 1.2,0 1.2,0 1.2,-0.1 1.2,0 1.2,0 1.2,0 1.2,0 1.2,0 1.2,0 1.2,0 1.2,0 1.2,0 1.2,0 1.2,0 1.2,0 1.2,0 1.2,0 1.2,0 1.2,0 1.2,0 1.2,0 1.2,0 1.2,0 1.2,0 1.2,0 1.2,0 1.2,0 1.2,0 1.2,0 1.2,0 1.2,0 1.2,0 1.2,0 1.2,0 1.2,0 1.2,0 1.2,0 1.2,0 1.2,0 1.2,0 1.2,0 1.2,0 1.2,0 1.2,0 1.2,0 1.2,0 1.2,0 1.2,0 1.2,0 1.2,0 1.2,0 1.2,0 1.2,0 1.2,0 1.2,0 1.2,0 1.2,0 1.2,0 1.2,0 1.2,0 1.2,0 1.2,0 1.2,0 1.2,0 1.2,0 1.2,0 1.2,0 1.2,0 1.2,0 1.2,0 1.2,0 1.2,0 1.2,0 1.2,0 1.2,0 1.2,0 1.2,0 1.2,0 1.2,0 1.2,0 1.2,0 1.2,0 1.2,0 1.2,0 1.2,0 1.2,0 1.2,0 1.2,0 1.2,0 1.2,0 1.2,0 1.2,0 1.2,0 1.2,0 1.2,0 1.2,0 1.2,0 1.2,0 1.2,0 1.2,0 1.2,0 1.2,0 1.2,0 1.2,0 1.2,0 1.2,0 1.2,0 1.2,0 1.2,0 1.2,0.1 1.2,0 1.2,0 1.2,0 1.2,0 1.2,0 1.2,0 1.2,0 1.2,0 1.2,0 1.2,0 1.2,0 1.2,0 1.2,0 1.2,0 1.2,0 1.2,0 1.2,0 1.2,0 1.2,0 1.2,0 1.2,0 1.2,0 1.2,0 1.2,0 1.2,0 1.2,0 1.2,0 1.2,0 1.2,0 1.2,0 1.2,0 1.2,0 1.2,0 1.2,0 1.2,0 1.2,0 1.2,0 1.2,0 1.2,0.1 1.2,0 1.2,0 1.2,0 1.2,0 1.2,0 1.2,0 1.2,0 1.2,0 1.2,0 1.2,0 1.2,0 1.2,0" stroke="#000" stroke-width="6.6" stroke-linecap="round"/>
<path d="M87.2,862.6h5.5v5.5h-5.5zM90.6,862.2h5.5v5.5h-5.5zM94.0,861.8h5.5v5.5h-5.5zM97.4,861.5h5.5v5.5h-5.5zM100.8,861.7h5.5v5.5h-5.5zM104.1,862.0h5.5v5.5h-5.5zM107.5,862.1h5.5v5.5h-5.5zM110.9,862.2h5.5v5.5h-5.5zM114.3,862.2h5.5v5.5h-5.5zM117.7,860.5h5.5v5.5h-5.5zM121.0,858.0h5.5v5.5h-5.5zM134.6,841.7h5.5v5.5h-5.5zM161.6,868.1h5.5v5.5h-5.5zM165.0,866.0h5.5v5.5h-5.5zM168.4,864.4h5.5v5.5h-5.5zM171.7,863.6h5.5v5.5h-5.5zM175.1,863.6h5.5v5.5h-5.5zM178.5,863.1h5.5v5.5h-5.5zM181.9,863.0h5.5v5.5h-5.5zM185.3,863.9h5.5v5.5h-5.5zM188.6,863.6h5.5v5.5h-5.5zM192.0,862.7h5.5v5.5h-5.5zM195.4,860.5h5.5v5.5h-5.5zM198.8,860.5h5.5v5.5h-5.5zM202.2,861.6h5.5v5.5h-5.5zM205.5,862.5h5.5v5.5h-5.5zM208.9,861.8h5.5v5.5h-5.5zM212.3,860.9h5.5v5.5h-5.5zM215.7,860.0h5.5v5.5h-5.5zM219.1,858.5h5.5v5.5h-5.5zM229.2,848.2h5.5v5.5h-5.5zM249.5,867.4h5.5v5.5h-5.5zM252.9,865.7h5.5v5.5h-5.5zM256.2,865.2h5.5v5.5h-5.5zM259.6,864.8h5.5v5.5h-5.5zM263.0,865.1h5.5v5.5h-5.5zM266.4,863.7h5.5v5.5h-5.5zM269.8,864.1h5.5v5.5h-5.5zM273.1,863.9h5.5v5.5h-5.5zM276.5,864.5h5.5v5.5h-5.5zM279.9,864.1h5.5v5.5h-5.5zM283.3,863.7h5.5v5.5h-5.5zM286.7,863.6h5.5v5.5h-5.5zM290.0,863.1h5.5v5.5h-5.5zM293.4,862.1h5.5v5.5h-5.5zM296.8,861.3h5.5v5.5h-5.5zM300.2,861.0h5.5v5.5h-5.5zM303.6,860.7h5.5v5.5h-5.5zM306.9,859.9h5.5v5.5h-5.5zM310.3,859.5h5.5v5.5h-5.5zM313.7,859.1h5.5v5.5h-5.5zM317.1,859.3h5.5v5.5h-5.5zM320.5,859.5h5.5v5.5h-5.5zM330.6,872.3h5.5v5.5h-5.5zM337.4,866.6h5.5v5.5h-5.5zM340.7,865.0h5.5v5.5h-5.5zM344.1,863.1h5.5v5.5h-5.5zM347.5,862.8h5.5v5.5h-5.5zM350.9,861.8h5.5v5.5h-5.5zM354.3,861.1h5.5v5.5h-5.5zM357.6,860.7h5.5v5.5h-5.5zM361.0,861.6h5.5v5.5h-5.5zM364.4,863.0h5.5v5.5h-5.5zM367.8,864.9h5.5v5.5h-5.5zM371.2,865.3h5.5v5.5h-5.5zM374.5,865.8h5.5v5.5h-5.5zM377.9,864.9h5.5v5.5h-5.5zM381.3,863.3h5.5v5.5h-5.5zM384.7,862.6h5.5v5.5h-5.5zM388.1,862.3h5.5v5.5h-5.5zM391.4,861.8h5.5v5.5h-5.5zM394.8,861.0h5.5v5.5h-5.5zM398.2,860.9h5.5v5.5h-5.5zM401.6,861.9h5.5v5.5h-5.5zM405.0,864.1h5.5v5.5h-5.5zM408.3,865.3h5.5v5.5h-5.5zM411.7,865.4h5.5v5.5h-5.5zM415.1,864.7h5.5v5.5h-5.5zM418.5,863.6h5.5v5.5h-5.5zM421.9,863.2h5.5v5.5h-5.5zM425.2,862.9h5.5v5.5h-5.5zM428.6,862.8h5.5v5.5h-5.5zM432.0,862.8h5.5v5.5h-5.5zM435.4,863.4h5.5v5.5h-5.5zM438.8,863.7h5.5v5.5h-5.5zM442.1,863.2h5.5v5.5h-5.5zM445.5,863.0h5.5v5.5h-5.5zM448.9,863.5h5.5v5.5h-5.5zM452.3,863.6h5.5v5.5h-5.5zM455.7,862.8h5.5v5.5h-5.5zM459.0,863.1h5.5v5.5h-5.5zM462.4,863.7h5.5v5.5h-5.5zM465.8,864.1h5.5v5.5h-5.5zM469.2,863.7h5.5v5.5h-5.5zM472.6,863.4h5.5v5.5h-5.5zM475.9,864.0h5.5v5.5h-5.5zM479.3,863.9h5.5v5.5h-5.5zM482.7,864.1h5.5v5.5h-5.5zM486.1,863.5h5.5v5.5h-5.5zM489.5,863.1h5.5v5.5h-5.5zM492.8,862.0h5.5v5.5h-5.5z" stroke="#000" stroke-width="1.80"/>
<path d="M124.4,854.7h5.5v5.5h-5.5zM127.8,849.2h5.5v5.5h-5.5zM131.2,845.9h5.5v5.5h-5.5zM137.9,842.7h5.5v5.5h-5.5zM141.3,853.0h5.5v5.5h-5.5zM144.7,869.2h5.5v5.5h-5.5zM148.1,887.1h5.5v5.5h-5.5zM151.5,888.1h5.5v5.5h-5.5zM154.8,878.0h5.5v5.5h-5.5zM158.2,871.6h5.5v5.5h-5.5zM222.4,855.8h5.5v5.5h-5.5zM225.8,850.4h5.5v5.5h-5.5zM232.6,854.3h5.5v5.5h-5.5zM236.0,873.1h5.5v5.5h-5.5zM239.3,881.4h5.5v5.5h-5.5zM242.7,875.7h5.5v5.5h-5.5zM246.1,869.8h5.5v5.5h-5.5zM323.8,864.0h5.5v5.5h-5.5zM327.2,872.0h5.5v5.5h-5.5zM334.0,869.8h5.5v5.5h-5.5z" stroke="#000" stroke-width="2.20"/>
<path d="M87.2,931.2h5.5v5.5h-5.5zM90.6,930.6h5.5v5.5h-5.5zM94.0,930.7h5.5v5.5h-5.5zM97.4,930.8h5.5v5.5h-5.5zM100.8,930.3h5.5v5.5h-5.5zM104.1,930.3h5.5v5.5h-5.5zM107.5,929.7h5.5v5.5h-5.5zM110.9,929.7h5.5v5.5h-5.5zM114.3,929.4h5.5v5.5h-5.5zM117.7,929.4h5.5v5.5h-5.5zM121.0,928.6h5.5v5.5h-5.5zM124.4,927.2h5.5v5.5h-5.5zM127.8,925.3h5.5v5.5h-5.5zM168.4,936.4h5.5v5.5h-5.5zM171.7,934.7h5.5v5.5h-5.5zM175.1,933.5h5.5v5.5h-5.5zM178.5,932.5h5.5v5.5h-5.5zM181.9,933.1h5.5v5.5h-5.5zM185.3,932.1h5.5v5.5h-5.5zM188.6,932.2h5.5v5.5h-5.5zM192.0,931.5h5.5v5.5h-5.5zM195.4,931.0h5.5v5.5h-5.5zM198.8,931.6h5.5v5.5h-5.5zM202.2,932.5h5.5v5.5h-5.5zM205.5,933.1h5.5v5.5h-5.5zM208.9,931.9h5.5v5.5h-5.5zM212.3,930.6h5.5v5.5h-5.5zM215.7,929.6h5.5v5.5h-5.5zM219.1,929.7h5.5v5.5h-5.5zM222.4,928.3h5.5v5.5h-5.5zM225.8,928.3h5.5v5.5h-5.5zM229.2,926.8h5.5v5.5h-5.5zM232.6,926.4h5.5v5.5h-5.5zM236.0,924.3h5.5v5.5h-5.5zM256.2,934.4h5.5v5.5h-5.5zM259.6,932.8h5.5v5.5h-5.5zM263.0,931.2h5.5v5.5h-5.5zM266.4,930.2h5.5v5.5h-5.5zM269.8,929.8h5.5v5.5h-5.5zM273.1,929.8h5.5v5.5h-5.5zM276.5,930.3h5.5v5.5h-5.5zM279.9,930.1h5.5v5.5h-5.5zM283.3,929.7h5.5v5.5h-5.5zM286.7,929.7h5.5v5.5h-5.5zM290.0,929.0h5.5v5.5h-5.5zM293.4,928.4h5.5v5.5h-5.5zM296.8,927.8h5.5v5.5h-5.5zM300.2,926.4h5.5v5.5h-5.5zM303.6,926.2h5.5v5.5h-5.5zM306.9,926.1h5.5v5.5h-5.5zM310.3,927.3h5.5v5.5h-5.5zM313.7,927.5h5.5v5.5h-5.5zM317.1,926.2h5.5v5.5h-5.5zM320.5,923.9h5.5v5.5h-5.5zM323.8,922.6h5.5v5.5h-5.5zM334.0,938.3h5.5v5.5h-5.5zM337.4,936.3h5.5v5.5h-5.5zM340.7,934.0h5.5v5.5h-5.5zM344.1,932.8h5.5v5.5h-5.5zM347.5,930.2h5.5v5.5h-5.5zM350.9,928.7h5.5v5.5h-5.5zM354.3,927.8h5.5v5.5h-5.5zM357.6,927.5h5.5v5.5h-5.5zM361.0,927.1h5.5v5.5h-5.5zM371.2,932.7h5.5v5.5h-5.5zM374.5,933.0h5.5v5.5h-5.5zM377.9,932.1h5.5v5.5h-5.5zM381.3,932.0h5.5v5.5h-5.5zM384.7,931.2h5.5v5.5h-5.5zM388.1,930.5h5.5v5.5h-5.5zM391.4,931.0h5.5v5.5h-5.5zM394.8,930.8h5.5v5.5h-5.5zM398.2,930.8h5.5v5.5h-5.5zM401.6,929.7h5.5v5.5h-5.5zM405.0,931.5h5.5v5.5h-5.5zM408.3,931.7h5.5v5.5h-5.5zM411.7,932.9h5.5v5.5h-5.5zM415.1,931.7h5.5v5.5h-5.5zM418.5,931.3h5.5v5.5h-5.5zM421.9,930.2h5.5v5.5h-5.5zM425.2,930.1h5.5v5.5h-5.5zM428.6,930.8h5.5v5.5h-5.5zM432.0,930.4h5.5v5.5h-5.5zM435.4,930.8h5.5v5.5h-5.5zM438.8,930.3h5.5v5.5h-5.5zM442.1,930.3h5.5v5.5h-5.5zM445.5,930.1h5.5v5.5h-5.5zM448.9,930.0h5.5v5.5h-5.5zM452.3,930.5h5.5v5.5h-5.5zM455.7,929.5h5.5v5.5h-5.5zM459.0,929.4h5.5v5.5h-5.5zM462.4,929.2h5.5v5.5h-5.5zM465.8,929.3h5.5v5.5h-5.5zM469.2,929.2h5.5v5.5h-5.5zM472.6,928.0h5.5v5.5h-5.5zM475.9,928.8h5.5v5.5h-5.5zM479.3,928.7h5.5v5.5h-5.5zM482.7,929.7h5.5v5.5h-5.5zM486.1,929.8h5.5v5.5h-5.5zM489.5,929.4h5.5v5.5h-5.5zM492.8,929.9h5.5v5.5h-5.5z" stroke="#000" stroke-width="1.80"/>
<path d="M131.2,923.1h5.5v5.5h-5.5zM134.6,919.4h5.5v5.5h-5.5zM137.9,914.2h5.5v5.5h-5.5zM141.3,906.3h5.5v5.5h-5.5zM144.7,901.3h5.5v5.5h-5.5zM148.1,918.9h5.5v5.5h-5.5zM151.5,937.3h5.5v5.5h-5.5zM154.8,959.6h5.5v5.5h-5.5zM158.2,954.4h5.5v5.5h-5.5zM161.6,944.2h5.5v5.5h-5.5zM165.0,939.7h5.5v5.5h-5.5zM239.3,925.9h5.5v5.5h-5.5zM242.7,934.7h5.5v5.5h-5.5zM246.1,945.7h5.5v5.5h-5.5zM249.5,948.2h5.5v5.5h-5.5zM252.9,940.7h5.5v5.5h-5.5zM327.2,927.9h5.5v5.5h-5.5zM330.6,935.4h5.5v5.5h-5.5zM364.4,926.7h5.5v5.5h-5.5zM367.8,931.5h5.5v5.5h-5.5z" stroke="#000" stroke-width="2.20"/>
<path d="M87.2,986.4h5.5v5.5h-5.5zM90.6,986.6h5.5v5.5h-5.5zM94.0,986.2h5.5v5.5h-5.5zM97.4,985.2h5.5v5.5h-5.5zM100.8,985.2h5.5v5.5h-5.5zM104.1,985.2h5.5v5.5h-5.5zM107.5,985.6h5.5v5.5h-5.5zM110.9,985.0h5.5v5.5h-5.5zM114.3,984.2h5.5v5.5h-5.5zM117.7,983.5h5.5v5.5h-5.5zM121.0,983.3h5.5v5.5h-5.5zM124.4,983.3h5.5v5.5h-5.5zM127.8,982.7h5.5v5.5h-5.5zM131.2,981.1h5.5v5.5h-5.5zM134.6,978.4h5.5v5.5h-5.5zM137.9,975.1h5.5v5.5h-5.5zM148.1,967.1h5.5v5.5h-5.5zM161.6,1006.4h5.5v5.5h-5.5zM175.1,991.0h5.5v5.5h-5.5zM178.5,988.9h5.5v5.5h-5.5zM181.9,987.9h5.5v5.5h-5.5zM185.3,985.9h5.5v5.5h-5.5zM188.6,984.3h5.5v5.5h-5.5zM192.0,983.7h5.5v5.5h-5.5zM195.4,983.9h5.5v5.5h-5.5zM198.8,984.9h5.5v5.5h-5.5zM202.2,984.7h5.5v5.5h-5.5zM205.5,984.4h5.5v5.5h-5.5zM208.9,983.8h5.5v5.5h-5.5zM212.3,983.2h5.5v5.5h-5.5zM215.7,983.8h5.5v5.5h-5.5zM219.1,983.2h5.5v5.5h-5.5zM222.4,983.3h5.5v5.5h-5.5zM225.8,982.3h5.5v5.5h-5.5zM229.2,981.8h5.5v5.5h-5.5zM232.6,980.5h5.5v5.5h-5.5zM236.0,979.4h5.5v5.5h-5.5zM239.3,977.8h5.5v5.5h-5.5zM242.7,979.2h5.5v5.5h-5.5zM249.5,995.0h5.5v5.5h-5.5zM252.9,994.2h5.5v5.5h-5.5zM256.2,991.9h5.5v5.5h-5.5zM259.6,989.3h5.5v5.5h-5.5zM263.0,988.6h5.5v5.5h-5.5zM266.4,986.3h5.5v5.5h-5.5zM269.8,985.4h5.5v5.5h-5.5zM273.1,984.5h5.5v5.5h-5.5zM276.5,985.2h5.5v5.5h-5.5zM279.9,985.9h5.5v5.5h-5.5zM283.3,986.3h5.5v5.5h-5.5zM286.7,987.1h5.5v5.5h-5.5zM290.0,986.6h5.5v5.5h-5.5zM293.4,986.4h5.5v5.5h-5.5zM296.8,985.5h5.5v5.5h-5.5zM300.2,985.4h5.5v5.5h-5.5zM303.6,985.2h5.5v5.5h-5.5zM306.9,984.7h5.5v5.5h-5.5zM310.3,985.1h5.5v5.5h-5.5zM313.7,984.7h5.5v5.5h-5.5zM317.1,984.2h5.5v5.5h-5.5zM320.5,983.7h5.5v5.5h-5.5zM323.8,983.4h5.5v5.5h-5.5zM327.2,983.4h5.5v5.5h-5.5zM330.6,983.7h5.5v5.5h-5.5zM334.0,984.9h5.5v5.5h-5.5zM337.4,986.6h5.5v5.5h-5.5zM340.7,987.9h5.5v5.5h-5.5zM344.1,987.0h5.5v5.5h-5.5zM347.5,986.3h5.5v5.5h-5.5zM350.9,984.6h5.5v5.5h-5.5zM354.3,985.1h5.5v5.5h-5.5zM357.6,983.9h5.5v5.5h-5.5zM361.0,983.6h5.5v5.5h-5.5zM364.4,981.7h5.5v5.5h-5.5zM367.8,982.4h5.5v5.5h-5.5zM371.2,983.1h5.5v5.5h-5.5zM374.5,984.6h5.5v5.5h-5.5zM377.9,984.9h5.5v5.5h-5.5zM381.3,984.7h5.5v5.5h-5.5zM384.7,985.8h5.5v5.5h-5.5zM388.1,986.3h5.5v5.5h-5.5zM391.4,986.5h5.5v5.5h-5.5zM394.8,986.3h5.5v5.5h-5.5zM398.2,986.5h5.5v5.5h-5.5zM401.6,986.9h5.5v5.5h-5.5zM405.0,986.7h5.5v5.5h-5.5zM408.3,985.5h5.5v5.5h-5.5zM411.7,984.7h5.5v5.5h-5.5zM415.1,985.7h5.5v5.5h-5.5zM418.5,985.8h5.5v5.5h-5.5zM421.9,986.0h5.5v5.5h-5.5zM425.2,985.2h5.5v5.5h-5.5zM428.6,986.0h5.5v5.5h-5.5zM432.0,985.9h5.5v5.5h-5.5zM435.4,985.6h5.5v5.5h-5.5zM438.8,985.0h5.5v5.5h-5.5zM442.1,985.1h5.5v5.5h-5.5zM445.5,985.8h5.5v5.5h-5.5zM448.9,986.4h5.5v5.5h-5.5zM452.3,986.1h5.5v5.5h-5.5zM455.7,985.5h5.5v5.5h-5.5zM459.0,985.4h5.5v5.5h-5.5zM462.4,986.4h5.5v5.5h-5.5zM465.8,985.3h5.5v5.5h-5.5zM469.2,985.1h5.5v5.5h-5.5zM472.6,984.5h5.5v5.5h-5.5zM475.9,984.8h5.5v5.5h-5.5zM479.3,984.9h5.5v5.5h-5.5zM482.7,985.1h5.5v5.5h-5.5zM486.1,985.6h5.5v5.5h-5.5zM489.5,985.2h5.5v5.5h-5.5zM492.8,985.2h5.5v5.5h-5.5z" stroke="#000" stroke-width="1.80"/>
<path d="M141.3,972.0h5.5v5.5h-5.5zM144.7,968.2h5.5v5.5h-5.5zM151.5,971.7h5.5v5.5h-5.5zM154.8,983.6h5.5v5.5h-5.5zM158.2,996.3h5.5v5.5h-5.5zM165.0,1002.4h5.5v5.5h-5.5zM168.4,997.8h5.5v5.5h-5.5zM171.7,993.5h5.5v5.5h-5.5zM246.1,985.0h5.5v5.5h-5.5z" stroke="#000" stroke-width="2.20"/>
<path d="M87.2,1019.6h5.5v5.5h-5.5zM90.6,1021.0h5.5v5.5h-5.5zM94.0,1020.5h5.5v5.5h-5.5zM97.4,1020.0h5.5v5.5h-5.5zM100.8,1018.7h5.5v5.5h-5.5zM104.1,1019.0h5.5v5.5h-5.5zM107.5,1018.6h5.5v5.5h-5.5zM110.9,1019.0h5.5v5.5h-5.5zM114.3,1019.7h5.5v5.5h-5.5zM117.7,1020.4h5.5v5.5h-5.5zM121.0,1019.5h5.5v5.5h-5.5zM124.4,1019.0h5.5v5.5h-5.5zM127.8,1019.5h5.5v5.5h-5.5zM131.2,1020.2h5.5v5.5h-5.5zM134.6,1019.2h5.5v5.5h-5.5zM137.9,1017.4h5.5v5.5h-5.5zM141.3,1015.5h5.5v5.5h-5.5zM144.7,1014.0h5.5v5.5h-5.5zM148.1,1011.3h5.5v5.5h-5.5zM151.5,1009.3h5.5v5.5h-5.5zM168.4,1031.1h5.5v5.5h-5.5zM171.7,1029.1h5.5v5.5h-5.5zM175.1,1026.1h5.5v5.5h-5.5zM178.5,1025.0h5.5v5.5h-5.5zM181.9,1023.9h5.5v5.5h-5.5zM185.3,1024.5h5.5v5.5h-5.5zM188.6,1023.8h5.5v5.5h-5.5zM192.0,1023.4h5.5v5.5h-5.5zM195.4,1022.3h5.5v5.5h-5.5zM198.8,1021.7h5.5v5.5h-5.5zM202.2,1020.5h5.5v5.5h-5.5zM205.5,1020.2h5.5v5.5h-5.5zM208.9,1020.5h5.5v5.5h-5.5zM212.3,1021.8h5.5v5.5h-5.5zM215.7,1021.7h5.5v5.5h-5.5zM219.1,1021.0h5.5v5.5h-5.5zM222.4,1019.5h5.5v5.5h-5.5zM225.8,1019.3h5.5v5.5h-5.5zM229.2,1018.7h5.5v5.5h-5.5zM232.6,1018.8h5.5v5.5h-5.5zM236.0,1017.7h5.5v5.5h-5.5zM239.3,1017.3h5.5v5.5h-5.5zM242.7,1015.1h5.5v5.5h-5.5zM246.1,1014.8h5.5v5.5h-5.5zM249.5,1016.9h5.5v5.5h-5.5zM252.9,1019.9h5.5v5.5h-5.5zM259.6,1027.9h5.5v5.5h-5.5zM263.0,1027.7h5.5v5.5h-5.5zM266.4,1025.5h5.5v5.5h-5.5zM269.8,1023.7h5.5v5.5h-5.5zM273.1,1023.0h5.5v5.5h-5.5zM276.5,1022.7h5.5v5.5h-5.5zM279.9,1022.6h5.5v5.5h-5.5zM283.3,1022.3h5.5v5.5h-5.5zM286.7,1022.4h5.5v5.5h-5.5zM290.0,1022.1h5.5v5.5h-5.5zM293.4,1021.4h5.5v5.5h-5.5zM296.8,1020.8h5.5v5.5h-5.5zM300.2,1020.5h5.5v5.5h-5.5zM303.6,1020.7h5.5v5.5h-5.5zM306.9,1020.8h5.5v5.5h-5.5zM310.3,1021.3h5.5v5.5h-5.5zM313.7,1020.7h5.5v5.5h-5.5zM317.1,1020.5h5.5v5.5h-5.5zM320.5,1020.1h5.5v5.5h-5.5zM323.8,1019.6h5.5v5.5h-5.5zM327.2,1019.5h5.5v5.5h-5.5zM330.6,1019.5h5.5v5.5h-5.5zM334.0,1020.3h5.5v5.5h-5.5zM337.4,1020.2h5.5v5.5h-5.5zM340.7,1019.7h5.5v5.5h-5.5zM344.1,1019.4h5.5v5.5h-5.5zM347.5,1019.3h5.5v5.5h-5.5zM350.9,1019.8h5.5v5.5h-5.5zM354.3,1019.2h5.5v5.5h-5.5zM357.6,1019.6h5.5v5.5h-5.5zM361.0,1019.3h5.5v5.5h-5.5zM364.4,1019.3h5.5v5.5h-5.5zM367.8,1019.0h5.5v5.5h-5.5zM371.2,1019.3h5.5v5.5h-5.5zM374.5,1019.6h5.5v5.5h-5.5zM377.9,1019.1h5.5v5.5h-5.5zM381.3,1019.4h5.5v5.5h-5.5zM384.7,1019.2h5.5v5.5h-5.5zM388.1,1019.8h5.5v5.5h-5.5zM391.4,1018.6h5.5v5.5h-5.5zM394.8,1019.2h5.5v5.5h-5.5zM398.2,1019.2h5.5v5.5h-5.5zM401.6,1020.0h5.5v5.5h-5.5zM405.0,1019.9h5.5v5.5h-5.5zM408.3,1020.2h5.5v5.5h-5.5zM411.7,1020.2h5.5v5.5h-5.5zM415.1,1020.5h5.5v5.5h-5.5zM418.5,1020.1h5.5v5.5h-5.5zM421.9,1019.8h5.5v5.5h-5.5zM425.2,1019.3h5.5v5.5h-5.5zM428.6,1019.2h5.5v5.5h-5.5zM432.0,1020.4h5.5v5.5h-5.5zM435.4,1020.2h5.5v5.5h-5.5zM438.8,1020.2h5.5v5.5h-5.5zM442.1,1019.5h5.5v5.5h-5.5zM445.5,1020.2h5.5v5.5h-5.5zM448.9,1019.9h5.5v5.5h-5.5zM452.3,1020.2h5.5v5.5h-5.5zM455.7,1019.9h5.5v5.5h-5.5zM459.0,1020.9h5.5v5.5h-5.5zM462.4,1020.0h5.5v5.5h-5.5zM465.8,1020.1h5.5v5.5h-5.5zM469.2,1019.5h5.5v5.5h-5.5zM472.6,1020.2h5.5v5.5h-5.5zM475.9,1019.8h5.5v5.5h-5.5zM479.3,1019.5h5.5v5.5h-5.5zM482.7,1018.8h5.5v5.5h-5.5zM486.1,1019.6h5.5v5.5h-5.5zM489.5,1019.4h5.5v5.5h-5.5zM492.8,1019.9h5.5v5.5h-5.5z" stroke="#000" stroke-width="1.80"/>
<path d="M154.8,1011.1h5.5v5.5h-5.5zM158.2,1016.8h5.5v5.5h-5.5zM161.6,1023.4h5.5v5.5h-5.5zM165.0,1030.0h5.5v5.5h-5.5zM256.2,1024.1h5.5v5.5h-5.5z" stroke="#000" stroke-width="2.20"/>
<path d="M87.2,1047.2h5.5v5.5h-5.5zM90.6,1047.5h5.5v5.5h-5.5zM94.0,1047.0h5.5v5.5h-5.5zM97.4,1047.0h5.5v5.5h-5.5zM100.8,1046.4h5.5v5.5h-5.5zM104.1,1046.3h5.5v5.5h-5.5zM107.5,1045.6h5.5v5.5h-5.5zM110.9,1046.0h5.5v5.5h-5.5zM114.3,1046.4h5.5v5.5h-5.5zM117.7,1047.0h5.5v5.5h-5.5zM121.0,1046.9h5.5v5.5h-5.5zM124.4,1046.8h5.5v5.5h-5.5zM127.8,1046.4h5.5v5.5h-5.5zM131.2,1046.1h5.5v5.5h-5.5zM134.6,1044.9h5.5v5.5h-5.5zM137.9,1043.5h5.5v5.5h-5.5zM141.3,1041.9h5.5v5.5h-5.5zM144.7,1039.9h5.5v5.5h-5.5zM148.1,1038.5h5.5v5.5h-5.5zM151.5,1037.6h5.5v5.5h-5.5zM154.8,1039.3h5.5v5.5h-5.5zM161.6,1046.9h5.5v5.5h-5.5zM165.0,1048.4h5.5v5.5h-5.5zM168.4,1050.9h5.5v5.5h-5.5zM171.7,1052.5h5.5v5.5h-5.5zM175.1,1052.8h5.5v5.5h-5.5zM178.5,1051.4h5.5v5.5h-5.5zM181.9,1049.7h5.5v5.5h-5.5zM185.3,1048.1h5.5v5.5h-5.5zM188.6,1047.1h5.5v5.5h-5.5zM192.0,1047.2h5.5v5.5h-5.5zM195.4,1046.8h5.5v5.5h-5.5zM198.8,1046.6h5.5v5.5h-5.5zM202.2,1045.6h5.5v5.5h-5.5zM205.5,1045.6h5.5v5.5h-5.5zM208.9,1045.7h5.5v5.5h-5.5zM212.3,1045.4h5.5v5.5h-5.5zM215.7,1045.2h5.5v5.5h-5.5zM219.1,1045.0h5.5v5.5h-5.5zM222.4,1045.0h5.5v5.5h-5.5zM225.8,1044.4h5.5v5.5h-5.5zM229.2,1044.0h5.5v5.5h-5.5zM232.6,1043.6h5.5v5.5h-5.5zM236.0,1043.9h5.5v5.5h-5.5zM239.3,1043.8h5.5v5.5h-5.5zM242.7,1043.6h5.5v5.5h-5.5zM246.1,1043.3h5.5v5.5h-5.5zM249.5,1044.2h5.5v5.5h-5.5zM252.9,1044.8h5.5v5.5h-5.5zM256.2,1046.1h5.5v5.5h-5.5zM259.6,1047.2h5.5v5.5h-5.5zM263.0,1049.7h5.5v5.5h-5.5zM266.4,1049.5h5.5v5.5h-5.5zM269.8,1049.1h5.5v5.5h-5.5zM273.1,1048.2h5.5v5.5h-5.5zM276.5,1048.1h5.5v5.5h-5.5zM279.9,1048.1h5.5v5.5h-5.5zM283.3,1047.8h5.5v5.5h-5.5zM286.7,1047.3h5.5v5.5h-5.5zM290.0,1046.9h5.5v5.5h-5.5zM293.4,1046.3h5.5v5.5h-5.5zM296.8,1046.1h5.5v5.5h-5.5zM300.2,1046.0h5.5v5.5h-5.5zM303.6,1046.0h5.5v5.5h-5.5zM306.9,1045.4h5.5v5.5h-5.5zM310.3,1045.1h5.5v5.5h-5.5zM313.7,1044.8h5.5v5.5h-5.5zM317.1,1044.7h5.5v5.5h-5.5zM320.5,1045.0h5.5v5.5h-5.5zM323.8,1045.2h5.5v5.5h-5.5zM327.2,1045.4h5.5v5.5h-5.5zM330.6,1045.7h5.5v5.5h-5.5zM334.0,1045.7h5.5v5.5h-5.5zM337.4,1046.2h5.5v5.5h-5.5zM340.7,1045.9h5.5v5.5h-5.5zM344.1,1045.9h5.5v5.5h-5.5zM347.5,1045.4h5.5v5.5h-5.5zM350.9,1045.1h5.5v5.5h-5.5zM354.3,1044.5h5.5v5.5h-5.5zM357.6,1044.4h5.5v5.5h-5.5zM361.0,1044.0h5.5v5.5h-5.5zM364.4,1044.1h5.5v5.5h-5.5zM367.8,1044.1h5.5v5.5h-5.5zM371.2,1044.6h5.5v5.5h-5.5zM374.5,1044.3h5.5v5.5h-5.5zM377.9,1044.1h5.5v5.5h-5.5zM381.3,1044.5h5.5v5.5h-5.5zM384.7,1044.8h5.5v5.5h-5.5zM388.1,1044.6h5.5v5.5h-5.5zM391.4,1043.7h5.5v5.5h-5.5zM394.8,1044.1h5.5v5.5h-5.5zM398.2,1044.1h5.5v5.5h-5.5zM401.6,1044.2h5.5v5.5h-5.5zM405.0,1043.9h5.5v5.5h-5.5zM408.3,1044.3h5.5v5.5h-5.5zM411.7,1044.5h5.5v5.5h-5.5zM415.1,1044.8h5.5v5.5h-5.5zM418.5,1044.7h5.5v5.5h-5.5zM421.9,1044.3h5.5v5.5h-5.5zM425.2,1044.1h5.5v5.5h-5.5zM428.6,1043.6h5.5v5.5h-5.5zM432.0,1043.1h5.5v5.5h-5.5zM435.4,1043.8h5.5v5.5h-5.5zM438.8,1044.1h5.5v5.5h-5.5zM442.1,1044.4h5.5v5.5h-5.5zM445.5,1043.9h5.5v5.5h-5.5zM448.9,1044.0h5.5v5.5h-5.5zM452.3,1044.8h5.5v5.5h-5.5zM455.7,1044.3h5.5v5.5h-5.5zM459.0,1044.7h5.5v5.5h-5.5zM462.4,1044.5h5.5v5.5h-5.5zM465.8,1045.1h5.5v5.5h-5.5zM469.2,1044.7h5.5v5.5h-5.5zM472.6,1045.2h5.5v5.5h-5.5zM475.9,1045.5h5.5v5.5h-5.5zM479.3,1045.8h5.5v5.5h-5.5zM482.7,1045.1h5.5v5.5h-5.5zM486.1,1044.7h5.5v5.5h-5.5zM489.5,1044.2h5.5v5.5h-5.5zM492.8,1044.6h5.5v5.5h-5.5z" stroke="#000" stroke-width="1.80"/>
<path d="M158.2,1043.1h5.5v5.5h-5.5z" stroke="#000" stroke-width="2.20"/>
<path d="M94.8,1071.8h5.5v5.5h-5.5zM98.1,1071.3h5.5v5.5h-5.5zM101.5,1070.7h5.5v5.5h-5.5zM104.9,1070.6h5.5v5.5h-5.5zM108.3,1071.3h5.5v5.5h-5.5zM111.6,1071.8h5.5v5.5h-5.5zM115.0,1071.8h5.5v5.5h-5.5zM118.4,1071.7h5.5v5.5h-5.5zM121.8,1071.6h5.5v5.5h-5.5zM125.2,1072.0h5.5v5.5h-5.5zM128.5,1072.1h5.5v5.5h-5.5zM131.9,1071.9h5.5v5.5h-5.5zM135.3,1071.2h5.5v5.5h-5.5zM138.7,1070.9h5.5v5.5h-5.5zM142.1,1070.2h5.5v5.5h-5.5zM145.4,1069.7h5.5v5.5h-5.5zM148.8,1069.2h5.5v5.5h-5.5zM152.2,1068.6h5.5v5.5h-5.5zM155.6,1068.6h5.5v5.5h-5.5zM159.0,1069.4h5.5v5.5h-5.5zM162.3,1070.9h5.5v5.5h-5.5zM165.7,1072.5h5.5v5.5h-5.5zM169.1,1073.1h5.5v5.5h-5.5zM172.5,1073.1h5.5v5.5h-5.5zM175.9,1072.9h5.5v5.5h-5.5zM179.2,1073.0h5.5v5.5h-5.5zM182.6,1073.2h5.5v5.5h-5.5zM186.0,1073.0h5.5v5.5h-5.5zM189.4,1072.5h5.5v5.5h-5.5zM192.8,1071.9h5.5v5.5h-5.5zM196.1,1071.7h5.5v5.5h-5.5zM199.5,1071.7h5.5v5.5h-5.5zM202.9,1071.5h5.5v5.5h-5.5zM206.3,1071.4h5.5v5.5h-5.5zM209.7,1071.6h5.5v5.5h-5.5zM213.0,1071.5h5.5v5.5h-5.5zM216.4,1071.3h5.5v5.5h-5.5zM219.8,1070.5h5.5v5.5h-5.5zM223.2,1070.1h5.5v5.5h-5.5zM226.6,1069.9h5.5v5.5h-5.5zM229.9,1069.9h5.5v5.5h-5.5zM233.3,1070.0h5.5v5.5h-5.5zM236.7,1070.1h5.5v5.5h-5.5zM240.1,1070.1h5.5v5.5h-5.5zM243.5,1070.3h5.5v5.5h-5.5zM246.8,1070.5h5.5v5.5h-5.5zM250.2,1071.1h5.5v5.5h-5.5zM253.6,1071.7h5.5v5.5h-5.5zM257.0,1072.6h5.5v5.5h-5.5zM260.4,1073.1h5.5v5.5h-5.5zM263.7,1073.1h5.5v5.5h-5.5zM267.1,1072.6h5.5v5.5h-5.5zM270.5,1072.4h5.5v5.5h-5.5zM273.9,1072.6h5.5v5.5h-5.5zM277.3,1072.8h5.5v5.5h-5.5zM280.6,1071.9h5.5v5.5h-5.5zM284.0,1071.5h5.5v5.5h-5.5zM287.4,1070.8h5.5v5.5h-5.5zM290.8,1071.4h5.5v5.5h-5.5zM294.2,1071.4h5.5v5.5h-5.5zM297.5,1071.6h5.5v5.5h-5.5zM300.9,1071.0h5.5v5.5h-5.5zM304.3,1070.7h5.5v5.5h-5.5zM307.7,1070.6h5.5v5.5h-5.5zM311.1,1071.2h5.5v5.5h-5.5zM314.4,1071.4h5.5v5.5h-5.5zM317.8,1071.7h5.5v5.5h-5.5zM321.2,1071.3h5.5v5.5h-5.5zM324.6,1071.4h5.5v5.5h-5.5zM328.0,1071.4h5.5v5.5h-5.5zM331.3,1071.8h5.5v5.5h-5.5zM334.7,1071.9h5.5v5.5h-5.5zM338.1,1072.1h5.5v5.5h-5.5zM341.5,1072.2h5.5v5.5h-5.5zM344.9,1071.9h5.5v5.5h-5.5zM348.2,1072.0h5.5v5.5h-5.5zM351.6,1072.2h5.5v5.5h-5.5zM355.0,1071.9h5.5v5.5h-5.5zM358.4,1071.7h5.5v5.5h-5.5zM361.8,1071.5h5.5v5.5h-5.5zM365.1,1071.6h5.5v5.5h-5.5zM368.5,1071.6h5.5v5.5h-5.5zM371.9,1071.5h5.5v5.5h-5.5zM375.3,1071.5h5.5v5.5h-5.5zM378.7,1071.6h5.5v5.5h-5.5zM382.0,1071.3h5.5v5.5h-5.5zM385.4,1072.0h5.5v5.5h-5.5zM388.8,1072.1h5.5v5.5h-5.5zM392.2,1072.6h5.5v5.5h-5.5zM395.6,1072.4h5.5v5.5h-5.5zM398.9,1072.5h5.5v5.5h-5.5zM402.3,1072.0h5.5v5.5h-5.5zM405.7,1071.6h5.5v5.5h-5.5zM409.1,1071.2h5.5v5.5h-5.5zM412.5,1071.6h5.5v5.5h-5.5zM415.8,1072.2h5.5v5.5h-5.5zM419.2,1072.4h5.5v5.5h-5.5zM422.6,1072.2h5.5v5.5h-5.5zM426.0,1071.6h5.5v5.5h-5.5zM429.4,1071.3h5.5v5.5h-5.5zM432.7,1071.8h5.5v5.5h-5.5zM436.1,1071.6h5.5v5.5h-5.5zM439.5,1071.8h5.5v5.5h-5.5zM442.9,1071.5h5.5v5.5h-5.5zM446.3,1071.9h5.5v5.5h-5.5zM449.6,1072.3h5.5v5.5h-5.5zM453.0,1072.5h5.5v5.5h-5.5zM456.4,1072.5h5.5v5.5h-5.5zM459.8,1071.7h5.5v5.5h-5.5zM463.2,1071.4h5.5v5.5h-5.5zM466.5,1071.4h5.5v5.5h-5.5zM469.9,1072.1h5.5v5.5h-5.5zM473.3,1072.0h5.5v5.5h-5.5zM476.7,1071.9h5.5v5.5h-5.5zM480.1,1072.0h5.5v5.5h-5.5zM483.4,1072.0h5.5v5.5h-5.5zM486.8,1071.9h5.5v5.5h-5.5zM490.2,1071.8h5.5v5.5h-5.5z" stroke="#000" stroke-width="1.80"/>
<path d="M87.2,1104.1h5.5v5.5h-5.5zM90.6,1104.0h5.5v5.5h-5.5zM94.0,1103.7h5.5v5.5h-5.5zM97.4,1103.3h5.5v5.5h-5.5zM100.8,1103.1h5.5v5.5h-5.5zM104.1,1103.2h5.5v5.5h-5.5zM107.5,1103.2h5.5v5.5h-5.5zM110.9,1103.1h5.5v5.5h-5.5zM114.3,1103.1h5.5v5.5h-5.5zM117.7,1103.0h5.5v5.5h-5.5zM121.0,1103.0h5.5v5.5h-5.5zM124.4,1102.5h5.5v5.5h-5.5zM127.8,1102.6h5.5v5.5h-5.5zM131.2,1102.1h5.5v5.5h-5.5zM134.6,1102.3h5.5v5.5h-5.5zM137.9,1102.1h5.5v5.5h-5.5zM141.3,1103.0h5.5v5.5h-5.5zM144.7,1103.3h5.5v5.5h-5.5zM148.1,1104.0h5.5v5.5h-5.5zM151.5,1104.2h5.5v5.5h-5.5zM154.8,1104.5h5.5v5.5h-5.5zM158.2,1104.4h5.5v5.5h-5.5zM161.6,1104.9h5.5v5.5h-5.5zM165.0,1105.0h5.5v5.5h-5.5zM168.4,1105.3h5.5v5.5h-5.5zM171.7,1104.9h5.5v5.5h-5.5zM175.1,1105.1h5.5v5.5h-5.5zM178.5,1104.8h5.5v5.5h-5.5zM181.9,1105.1h5.5v5.5h-5.5zM185.3,1104.6h5.5v5.5h-5.5zM188.6,1104.7h5.5v5.5h-5.5zM192.0,1104.3h5.5v5.5h-5.5zM195.4,1104.2h5.5v5.5h-5.5zM198.8,1104.1h5.5v5.5h-5.5zM202.2,1103.5h5.5v5.5h-5.5zM205.5,1103.4h5.5v5.5h-5.5zM208.9,1102.9h5.5v5.5h-5.5zM212.3,1103.2h5.5v5.5h-5.5zM215.7,1103.1h5.5v5.5h-5.5zM219.1,1103.0h5.5v5.5h-5.5zM222.4,1103.0h5.5v5.5h-5.5zM225.8,1103.1h5.5v5.5h-5.5zM229.2,1103.3h5.5v5.5h-5.5zM232.6,1103.5h5.5v5.5h-5.5zM236.0,1103.4h5.5v5.5h-5.5zM239.3,1103.8h5.5v5.5h-5.5zM242.7,1103.7h5.5v5.5h-5.5zM246.1,1104.0h5.5v5.5h-5.5zM249.5,1103.6h5.5v5.5h-5.5zM252.9,1103.5h5.5v5.5h-5.5zM256.2,1103.2h5.5v5.5h-5.5zM259.6,1103.3h5.5v5.5h-5.5zM263.0,1103.1h5.5v5.5h-5.5zM266.4,1103.3h5.5v5.5h-5.5zM269.8,1103.3h5.5v5.5h-5.5zM273.1,1103.5h5.5v5.5h-5.5zM276.5,1103.5h5.5v5.5h-5.5zM279.9,1103.5h5.5v5.5h-5.5zM283.3,1103.3h5.5v5.5h-5.5zM286.7,1103.7h5.5v5.5h-5.5zM290.0,1104.1h5.5v5.5h-5.5zM293.4,1104.3h5.5v5.5h-5.5zM296.8,1103.6h5.5v5.5h-5.5zM300.2,1103.4h5.5v5.5h-5.5zM303.6,1103.0h5.5v5.5h-5.5zM306.9,1103.3h5.5v5.5h-5.5zM310.3,1103.4h5.5v5.5h-5.5zM313.7,1103.7h5.5v5.5h-5.5zM317.1,1104.1h5.5v5.5h-5.5zM320.5,1103.9h5.5v5.5h-5.5zM323.8,1104.2h5.5v5.5h-5.5zM327.2,1103.8h5.5v5.5h-5.5zM330.6,1104.0h5.5v5.5h-5.5zM334.0,1103.8h5.5v5.5h-5.5zM337.4,1103.8h5.5v5.5h-5.5zM340.7,1103.9h5.5v5.5h-5.5zM344.1,1103.8h5.5v5.5h-5.5zM347.5,1103.8h5.5v5.5h-5.5zM350.9,1103.8h5.5v5.5h-5.5zM354.3,1104.0h5.5v5.5h-5.5zM357.6,1103.8h5.5v5.5h-5.5zM361.0,1104.1h5.5v5.5h-5.5zM364.4,1104.4h5.5v5.5h-5.5zM367.8,1104.7h5.5v5.5h-5.5zM371.2,1104.5h5.5v5.5h-5.5zM374.5,1104.6h5.5v5.5h-5.5zM377.9,1104.3h5.5v5.5h-5.5zM381.3,1104.0h5.5v5.5h-5.5zM384.7,1103.7h5.5v5.5h-5.5zM388.1,1103.7h5.5v5.5h-5.5zM391.4,1103.9h5.5v5.5h-5.5zM394.8,1103.5h5.5v5.5h-5.5zM398.2,1103.4h5.5v5.5h-5.5zM401.6,1103.6h5.5v5.5h-5.5zM405.0,1103.6h5.5v5.5h-5.5zM408.3,1103.6h5.5v5.5h-5.5zM411.7,1103.4h5.5v5.5h-5.5zM415.1,1103.7h5.5v5.5h-5.5zM418.5,1103.9h5.5v5.5h-5.5zM421.9,1104.1h5.5v5.5h-5.5zM425.2,1104.6h5.5v5.5h-5.5zM428.6,1104.5h5.5v5.5h-5.5zM432.0,1104.6h5.5v5.5h-5.5zM435.4,1104.0h5.5v5.5h-5.5zM438.8,1104.2h5.5v5.5h-5.5zM442.1,1104.2h5.5v5.5h-5.5zM445.5,1104.1h5.5v5.5h-5.5zM448.9,1103.8h5.5v5.5h-5.5zM452.3,1103.3h5.5v5.5h-5.5zM455.7,1103.4h5.5v5.5h-5.5zM459.0,1103.6h5.5v5.5h-5.5zM462.4,1103.6h5.5v5.5h-5.5zM465.8,1103.7h5.5v5.5h-5.5zM469.2,1103.7h5.5v5.5h-5.5zM472.6,1104.1h5.5v5.5h-5.5zM475.9,1104.1h5.5v5.5h-5.5zM479.3,1104.1h5.5v5.5h-5.5zM482.7,1103.9h5.5v5.5h-5.5zM486.1,1103.8h5.5v5.5h-5.5zM489.5,1104.1h5.5v5.5h-5.5zM492.8,1104.1h5.5v5.5h-5.5z" stroke="#000" stroke-width="1.80"/>
<path d="M94.8,1137.8h5.5v5.5h-5.5zM98.1,1137.9h5.5v5.5h-5.5zM101.5,1138.1h5.5v5.5h-5.5zM104.9,1138.5h5.5v5.5h-5.5zM108.3,1138.5h5.5v5.5h-5.5zM111.6,1138.4h5.5v5.5h-5.5zM115.0,1138.5h5.5v5.5h-5.5zM118.4,1138.5h5.5v5.5h-5.5zM121.8,1137.9h5.5v5.5h-5.5zM125.2,1137.5h5.5v5.5h-5.5zM128.5,1137.7h5.5v5.5h-5.5zM131.9,1138.6h5.5v5.5h-5.5zM135.3,1138.1h5.5v5.5h-5.5zM138.7,1138.4h5.5v5.5h-5.5zM142.1,1138.4h5.5v5.5h-5.5zM145.4,1138.9h5.5v5.5h-5.5zM148.8,1138.1h5.5v5.5h-5.5zM152.2,1137.6h5.5v5.5h-5.5zM155.6,1137.5h5.5v5.5h-5.5zM159.0,1137.9h5.5v5.5h-5.5zM162.3,1138.5h5.5v5.5h-5.5zM165.7,1138.6h5.5v5.5h-5.5zM169.1,1138.1h5.5v5.5h-5.5zM172.5,1138.5h5.5v5.5h-5.5zM175.9,1138.1h5.5v5.5h-5.5zM179.2,1138.7h5.5v5.5h-5.5zM182.6,1137.8h5.5v5.5h-5.5zM186.0,1138.0h5.5v5.5h-5.5zM189.4,1138.4h5.5v5.5h-5.5zM192.8,1138.5h5.5v5.5h-5.5zM196.1,1138.4h5.5v5.5h-5.5zM199.5,1138.1h5.5v5.5h-5.5zM202.9,1138.3h5.5v5.5h-5.5zM206.3,1138.7h5.5v5.5h-5.5zM209.7,1138.6h5.5v5.5h-5.5zM213.0,1139.3h5.5v5.5h-5.5zM216.4,1139.4h5.5v5.5h-5.5zM219.8,1139.2h5.5v5.5h-5.5zM223.2,1138.8h5.5v5.5h-5.5zM226.6,1138.6h5.5v5.5h-5.5zM229.9,1139.2h5.5v5.5h-5.5zM233.3,1139.4h5.5v5.5h-5.5zM236.7,1139.6h5.5v5.5h-5.5zM240.1,1139.2h5.5v5.5h-5.5zM243.5,1138.4h5.5v5.5h-5.5zM246.8,1137.3h5.5v5.5h-5.5zM250.2,1137.5h5.5v5.5h-5.5zM253.6,1137.6h5.5v5.5h-5.5zM257.0,1138.2h5.5v5.5h-5.5zM260.4,1138.0h5.5v5.5h-5.5zM263.7,1138.4h5.5v5.5h-5.5zM267.1,1138.7h5.5v5.5h-5.5zM270.5,1138.5h5.5v5.5h-5.5zM273.9,1138.4h5.5v5.5h-5.5zM277.3,1137.9h5.5v5.5h-5.5zM280.6,1138.2h5.5v5.5h-5.5zM284.0,1138.0h5.5v5.5h-5.5zM287.4,1137.9h5.5v5.5h-5.5zM290.8,1137.5h5.5v5.5h-5.5zM294.2,1137.5h5.5v5.5h-5.5zM297.5,1138.0h5.5v5.5h-5.5zM300.9,1138.6h5.5v5.5h-5.5zM304.3,1138.2h5.5v5.5h-5.5zM307.7,1138.1h5.5v5.5h-5.5zM311.1,1137.4h5.5v5.5h-5.5zM314.4,1137.9h5.5v5.5h-5.5zM317.8,1138.0h5.5v5.5h-5.5zM321.2,1138.6h5.5v5.5h-5.5zM324.6,1137.9h5.5v5.5h-5.5zM328.0,1137.9h5.5v5.5h-5.5zM331.3,1136.8h5.5v5.5h-5.5zM334.7,1137.7h5.5v5.5h-5.5zM338.1,1137.8h5.5v5.5h-5.5zM341.5,1138.6h5.5v5.5h-5.5zM344.9,1138.3h5.5v5.5h-5.5zM348.2,1137.3h5.5v5.5h-5.5zM351.6,1137.5h5.5v5.5h-5.5zM355.0,1137.3h5.5v5.5h-5.5zM358.4,1138.3h5.5v5.5h-5.5zM361.8,1137.8h5.5v5.5h-5.5zM365.1,1138.4h5.5v5.5h-5.5zM368.5,1137.6h5.5v5.5h-5.5zM371.9,1138.0h5.5v5.5h-5.5zM375.3,1137.9h5.5v5.5h-5.5zM378.7,1138.4h5.5v5.5h-5.5zM382.0,1138.3h5.5v5.5h-5.5zM385.4,1138.2h5.5v5.5h-5.5zM388.8,1137.6h5.5v5.5h-5.5zM392.2,1137.8h5.5v5.5h-5.5zM395.6,1137.6h5.5v5.5h-5.5zM398.9,1137.8h5.5v5.5h-5.5zM402.3,1137.6h5.5v5.5h-5.5zM405.7,1137.8h5.5v5.5h-5.5zM409.1,1138.1h5.5v5.5h-5.5zM412.5,1138.8h5.5v5.5h-5.5zM415.8,1138.4h5.5v5.5h-5.5zM419.2,1138.2h5.5v5.5h-5.5zM422.6,1137.9h5.5v5.5h-5.5zM426.0,1137.9h5.5v5.5h-5.5zM429.4,1137.6h5.5v5.5h-5.5zM432.7,1137.4h5.5v5.5h-5.5zM436.1,1137.8h5.5v5.5h-5.5zM439.5,1138.2h5.5v5.5h-5.5zM442.9,1138.4h5.5v5.5h-5.5zM446.3,1138.3h5.5v5.5h-5.5zM449.6,1138.5h5.5v5.5h-5.5zM453.0,1138.0h5.5v5.5h-5.5zM456.4,1138.0h5.5v5.5h-5.5zM459.8,1138.6h5.5v5.5h-5.5zM463.2,1139.0h5.5v5.5h-5.5zM466.5,1138.3h5.5v5.5h-5.5zM469.9,1138.7h5.5v5.5h-5.5zM473.3,1138.4h5.5v5.5h-5.5zM476.7,1138.6h5.5v5.5h-5.5zM480.1,1138.0h5.5v5.5h-5.5zM483.4,1138.5h5.5v5.5h-5.5zM486.8,1138.5h5.5v5.5h-5.5zM490.2,1138.5h5.5v5.5h-5.5z" stroke="#000" stroke-width="1.80"/>
<path d="M90.0,1074.5H98.5" stroke="#000" stroke-width="6.6"/>
<rect x="92.2" y="1073.5" width="2" height="2" fill="#fff" stroke="none"/>
<path d="M90.0,1140.6H98.5" stroke="#000" stroke-width="6.6"/>
<rect x="92.2" y="1139.6" width="2" height="2" fill="#fff" stroke="none"/>
<rect x="136.2" y="838.0" width="5" height="5" stroke="#000" stroke-width="1.6" fill="#fff"/>
<rect x="151.2" y="892.5" width="5" height="5" stroke="#000" stroke-width="1.6" fill="#fff"/>
<rect x="143.8" y="898.0" width="5" height="5" stroke="#000" stroke-width="1.6" fill="#fff"/>
<rect x="158.0" y="964.5" width="5" height="5" stroke="#000" stroke-width="1.6" fill="#fff"/>
<rect x="147.5" y="964.5" width="5" height="5" stroke="#000" stroke-width="1.6" fill="#fff"/>
<rect x="230.0" y="846.8" width="5" height="5" stroke="#000" stroke-width="1.6" fill="#fff"/>
<path d="M90.0,866.0C98.3,866.0 106.7,865.9 115.0,865.5C118.3,865.4 121.7,863.1 125.0,860.5C127.5,858.6 130.0,852.2 132.5,849.2C134.6,846.8 136.7,843.0 138.8,843.0C140.4,843.0 142.1,850.0 143.8,855.5C145.0,859.6 146.2,867.6 147.5,873.0C149.2,880.2 150.8,893.0 152.5,893.0C154.2,893.0 156.0,883.5 157.7,880.0C159.6,876.1 161.6,871.4 163.5,870.4C166.7,868.7 169.9,867.9 173.1,867.5C178.2,866.9 183.4,866.8 188.5,866.5C193.6,866.2 198.7,866.1 203.8,865.6C207.7,865.3 211.5,864.7 215.4,863.7C218.0,863.0 220.5,861.5 223.1,859.8C226.0,857.9 228.8,851.2 231.7,851.2C233.0,851.2 234.3,855.0 235.6,858.8C236.6,861.6 237.5,868.7 238.5,874.2C239.1,877.8 239.8,885.8 240.4,885.8C242.3,885.8 244.3,879.2 246.2,876.2C247.8,873.7 249.4,869.5 251.0,869.0C256.3,867.4 261.6,867.3 266.9,866.8C275.9,866.0 284.8,865.9 293.8,865.2C299.2,864.8 304.6,864.3 310.0,863.5C313.6,863.0 317.2,861.3 320.8,861.3C322.1,861.3 323.5,861.5 324.8,861.9C326.2,862.3 327.5,871.1 328.9,872.7C329.8,873.7 330.6,874.8 331.5,874.8C334.2,874.8 336.9,869.9 339.6,868.7C344.1,866.7 348.6,865.0 353.1,864.6C355.8,864.3 358.5,864.1 361.2,864.1C364.8,864.1 368.3,868.7 371.9,868.7C374.6,868.7 377.3,867.2 380.0,866.5C382.1,865.9 384.1,864.8 386.2,864.8C391.4,864.8 396.6,864.8 401.8,864.8C406.2,864.8 410.5,869.2 414.9,869.2C418.4,869.2 421.9,865.6 425.4,865.6C434.1,865.6 442.8,866.0 451.5,866.0C466.3,866.0 481.2,866.0 496.0,866.0" stroke="#e81018" stroke-width="3.1"/>
<path d="M90.0,933.8C98.3,933.8 106.7,933.2 115.0,932.5C120.0,932.1 125.0,930.9 130.0,928.8C133.3,927.3 136.7,922.1 140.0,917.5C142.3,914.3 144.7,905.5 147.0,905.5C148.4,905.5 149.8,918.0 151.2,925.0C152.5,931.2 153.8,938.1 155.0,945.0C155.9,950.2 156.9,961.0 157.8,961.0C160.3,961.0 162.9,948.3 165.4,945.2C168.0,942.0 170.5,939.7 173.1,938.5C176.9,936.7 180.8,935.4 184.6,935.0C189.1,934.5 193.6,934.2 198.1,934.2C202.6,934.2 207.0,934.2 211.5,934.2C215.4,934.2 219.2,933.5 223.1,932.7C225.7,932.2 228.2,929.9 230.8,929.0C234.0,927.9 237.2,926.3 240.4,926.3C242.3,926.3 244.3,933.7 246.2,938.5C247.7,942.3 249.3,952.0 250.8,952.0C253.5,952.0 256.1,940.8 258.8,938.7C262.4,935.9 266.0,933.7 269.6,933.3C277.7,932.4 285.7,932.5 293.8,931.9C301.0,931.3 308.2,930.4 315.4,929.2C319.0,928.6 322.6,926.5 326.2,926.5C328.0,926.5 329.7,931.8 331.5,934.6C332.9,936.7 334.2,941.2 335.6,941.2C337.8,941.2 340.1,938.4 342.3,937.3C346.8,935.1 351.3,933.4 355.8,931.9C358.9,930.9 362.1,929.2 365.2,929.2C367.8,929.2 370.5,936.6 373.1,936.6C377.5,936.6 381.8,935.8 386.2,935.4C391.4,934.9 396.6,934.1 401.8,934.1C405.3,934.1 408.8,936.6 412.3,936.6C417.5,936.6 422.8,932.8 428.0,932.8C450.7,932.8 473.3,932.8 496.0,932.8" stroke="#e81018" stroke-width="3.1"/>
<path d="M90.0,987.5C102.5,987.5 115.0,987.1 127.5,986.0C132.5,985.6 137.5,981.1 142.5,977.5C145.4,975.4 148.3,969.5 151.2,969.5C153.3,969.5 155.4,978.5 157.5,985.0C158.8,988.9 160.0,996.0 161.2,1000.0C162.3,1003.5 163.4,1008.8 164.5,1008.8C167.1,1008.8 169.7,1002.2 172.3,999.4C175.0,996.5 177.7,992.5 180.4,991.3C184.9,989.4 189.3,988.3 193.8,987.8C202.8,986.8 211.8,986.9 220.8,986.0C225.5,985.5 230.3,984.6 235.0,983.5C237.4,983.0 239.9,981.4 242.3,981.4C244.1,981.4 245.9,982.6 247.7,984.6C248.6,985.6 249.5,993.4 250.4,995.0C251.3,996.6 252.2,998.0 253.1,998.0C255.8,998.0 258.5,994.0 261.2,992.7C264.8,991.0 268.3,989.2 271.9,988.7C276.3,988.0 280.6,987.5 285.0,987.5C289.6,987.5 294.2,988.2 298.8,988.2C308.4,988.2 318.1,985.6 327.7,985.6C330.6,985.6 333.4,986.1 336.3,986.5C339.2,987.0 342.1,989.2 345.0,989.2C348.8,989.2 352.7,988.1 356.5,987.4C361.3,986.6 366.2,984.6 371.0,984.6C374.8,984.6 378.7,988.6 382.5,988.6C388.3,988.6 394.0,988.6 399.8,988.6C431.9,988.6 463.9,988.3 496.0,987.8" stroke="#e81018" stroke-width="3.1"/>
<path d="M90.0,1023.0C102.5,1023.0 115.0,1023.0 127.5,1023.0C133.3,1023.0 139.2,1019.9 145.0,1017.5C148.3,1016.1 151.7,1012.0 155.0,1012.0C157.5,1012.0 160.0,1018.6 162.5,1022.5C164.8,1026.1 167.2,1034.5 169.5,1034.5C173.1,1034.5 176.8,1028.7 180.4,1027.7C184.9,1026.5 189.3,1025.9 193.8,1025.5C202.8,1024.6 211.8,1024.6 220.8,1023.7C228.0,1023.0 235.1,1021.5 242.3,1019.6C244.1,1019.1 245.9,1017.6 247.7,1017.6C250.4,1017.6 253.1,1021.4 255.8,1023.7C258.0,1025.6 260.3,1030.4 262.5,1030.4C264.7,1030.4 267.0,1027.8 269.2,1027.2C272.8,1026.3 276.4,1025.8 280.0,1025.5C290.0,1024.6 300.0,1024.2 310.0,1023.8C320.0,1023.3 330.0,1022.5 340.0,1022.5C392.0,1022.5 444.0,1022.5 496.0,1022.8" stroke="#e81018" stroke-width="3.1"/>
<path d="M90.0,1050.0C105.0,1050.0 120.0,1049.6 135.0,1048.8C141.8,1048.4 148.7,1041.2 155.5,1041.2C158.7,1041.2 161.8,1047.9 165.0,1050.0C168.3,1052.2 171.7,1055.0 175.0,1055.0C181.3,1055.0 187.5,1050.5 193.8,1049.8C202.8,1048.8 211.8,1048.5 220.8,1047.9C229.8,1047.3 238.7,1046.0 247.7,1046.0C251.3,1046.0 254.9,1047.9 258.5,1049.2C261.2,1050.1 263.8,1052.5 266.5,1052.5C271.0,1052.5 275.5,1051.0 280.0,1050.5C286.3,1049.8 292.5,1049.0 298.8,1048.8C318.0,1048.3 337.3,1048.4 356.5,1048.0C366.1,1047.8 375.8,1046.8 385.4,1046.8C422.3,1046.8 459.1,1046.8 496.0,1048.3" stroke="#e81018" stroke-width="3.1"/>
<path d="M97.5,1074.5C107.8,1074.5 118.2,1074.4 128.5,1074.2C137.5,1074.0 146.4,1071.4 155.4,1071.4C161.8,1071.4 168.2,1076.0 174.6,1076.0C184.9,1076.0 195.1,1074.7 205.4,1074.2C218.2,1073.6 231.0,1072.5 243.8,1072.5C251.5,1072.5 259.2,1076.0 266.9,1076.0C274.6,1076.0 282.3,1074.2 290.0,1074.2C306.7,1074.2 323.3,1074.5 340.0,1074.5C392.0,1074.6 444.0,1074.7 496.0,1074.7" stroke="#e81018" stroke-width="3.1"/>
<path d="M90.0,1107.0C105.0,1105.5 120.0,1105.5 135.0,1105.5C144.2,1105.5 153.3,1108.0 162.5,1108.0C181.7,1108.0 200.8,1106.2 220.0,1106.2C256.7,1106.2 293.3,1106.6 330.0,1106.6C385.3,1106.6 440.7,1106.6 496.0,1106.6" stroke="#e81018" stroke-width="3.1"/>
<path d="M97.5,1140.6C138.3,1141.0 179.2,1141.2 220.0,1141.2C256.7,1141.2 293.3,1140.8 330.0,1140.8C385.3,1140.8 440.7,1140.8 496.0,1141.0" stroke="#e81018" stroke-width="3.1"/>
</g>
<rect x="90.2" y="828.8" width="405.9" height="327.4" fill="none" stroke="#000" stroke-width="2.2"/>
<g font-family='"Liberation Sans", Arial, sans-serif' fill="#000" stroke="#000" stroke-width="0.90">
<g font-size="24.0">
<text x="90.2" y="1183.0" text-anchor="middle">3.5</text>
<text x="157.9" y="1183.0" text-anchor="middle">4.0</text>
<text x="225.5" y="1183.0" text-anchor="middle">4.5</text>
<text x="293.2" y="1183.0" text-anchor="middle">5.0</text>
<text x="360.8" y="1183.0" text-anchor="middle">5.5</text>
<text x="428.4" y="1183.0" text-anchor="middle">6.0</text>
<text x="496.1" y="1183.0" text-anchor="middle">6.5</text>
<text x="81.5" y="1147.3" text-anchor="end">-0.2</text>
<text x="81.5" y="1084.7" text-anchor="end">0.0</text>
<text x="81.5" y="1022.1" text-anchor="end">0.2</text>
<text x="81.5" y="959.5" text-anchor="end">0.4</text>
<text x="81.5" y="896.9" text-anchor="end">0.6</text>
<text x="81.5" y="834.3" text-anchor="end">0.8</text>
</g>
<text x="195.3" y="1211.2" font-size="24.5" textLength="195.1" lengthAdjust="spacingAndGlyphs">Frequency (GHz)</text>
<text transform="translate(24.7,1042.2) rotate(-90)" font-size="25">V<tspan font-size="16" dy="12.0">mix</tspan><tspan dy="-10.5"> (mV)</tspan></text>
<text x="95.2" y="850.5" font-size="25">(c)</text>
<text x="247.7" y="847.8" font-size="17.7" word-spacing="1.0">MR = 60%</text>
<g font-size="17.7" text-anchor="end" word-spacing="1.6">
<text x="491.6" y="858.4">384 mV</text>
<text x="491.6" y="923.6">335 mV</text>
<text x="491.6" y="980.6">285 mV</text>
<text x="491.6" y="1016.4">234 mV</text>
<text x="491.6" y="1043.0">179 mV</text>
<text x="491.6" y="1068.3">124 mV</text>
<text x="491.6" y="1100.2">63 mV</text>
<text x="491.6" y="1132.8">0 mV</text>
</g>
</g>
</g>
</svg>
</body></html>
